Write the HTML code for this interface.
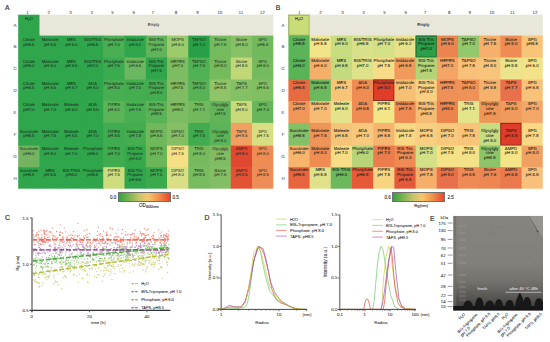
<!DOCTYPE html>
<html><head><meta charset="utf-8"><style>
html,body{margin:0;padding:0;background:#fff;}
body{width:550px;height:342px;position:relative;overflow:hidden;font-family:"Liberation Sans",sans-serif;color:#222;}
.ct text{font-size:4.3px;fill:#1a241a;text-anchor:middle;letter-spacing:-0.1px}
.ctb text{stroke:#1a241a;stroke-width:0.08px;letter-spacing:0}
.lb text{font-size:4.5px;fill:#333;text-anchor:middle}
svg{font-family:"Liberation Sans",sans-serif}
.pl{position:absolute;font-size:6.8px;line-height:7px;color:#333;-webkit-text-stroke:0.2px #333;}
.t{position:absolute;font-size:4.6px;line-height:5px;color:#2a2a2a;white-space:nowrap;-webkit-text-stroke:0.1px #2a2a2a}
</style></head><body>
<div class="pl" style="left:5.0px;top:4.0px">A</div>
<div class="pl" style="left:275.8px;top:4.0px">B</div>
<svg style="position:absolute;left:0;top:0" width="550" height="342" viewBox="0 0 550 342" text-rendering="geometricPrecision">
<g>
<rect x="18.20" y="14.7" width="21.96" height="21.60" fill="#2fa54c"/>
<rect x="39.46" y="14.7" width="233.86" height="21.60" fill="#e8e7d9"/>
<rect x="18.20" y="35.60" width="21.96" height="22.60" fill="#2fa64c"/>
<rect x="39.46" y="35.60" width="21.96" height="22.60" fill="#2fa64c"/>
<rect x="60.72" y="35.60" width="21.96" height="22.60" fill="#2fa64c"/>
<rect x="81.98" y="35.60" width="21.96" height="22.60" fill="#2fa64c"/>
<rect x="103.24" y="35.60" width="21.96" height="22.60" fill="#4aae52"/>
<rect x="124.50" y="35.60" width="21.96" height="22.60" fill="#2fa64c"/>
<rect x="145.76" y="35.60" width="21.96" height="22.60" fill="#62b45a"/>
<rect x="167.02" y="35.60" width="21.96" height="22.60" fill="#9ccb6c"/>
<rect x="188.28" y="35.60" width="21.96" height="22.60" fill="#28a048"/>
<rect x="209.54" y="35.60" width="21.96" height="22.60" fill="#74ba5e"/>
<rect x="230.80" y="35.60" width="21.96" height="22.60" fill="#88c066"/>
<rect x="252.06" y="35.60" width="21.26" height="22.60" fill="#72b95d"/>
<rect x="18.20" y="57.50" width="21.96" height="22.70" fill="#2fa64c"/>
<rect x="39.46" y="57.50" width="21.96" height="22.70" fill="#2fa64c"/>
<rect x="60.72" y="57.50" width="21.96" height="22.70" fill="#2fa64c"/>
<rect x="81.98" y="57.50" width="21.96" height="22.70" fill="#2fa64c"/>
<rect x="103.24" y="57.50" width="21.96" height="22.70" fill="#3aab4e"/>
<rect x="124.50" y="57.50" width="21.96" height="22.70" fill="#6cb860"/>
<rect x="145.76" y="57.50" width="21.96" height="22.70" fill="#2fa64c"/>
<rect x="167.02" y="57.50" width="21.96" height="22.70" fill="#7cbd62"/>
<rect x="188.28" y="57.50" width="21.96" height="22.70" fill="#50b054"/>
<rect x="209.54" y="57.50" width="21.96" height="22.70" fill="#76ba5e"/>
<rect x="230.80" y="57.50" width="21.96" height="22.70" fill="#c0d878"/>
<rect x="252.06" y="57.50" width="21.26" height="22.70" fill="#74ba5e"/>
<rect x="18.20" y="79.50" width="21.96" height="22.20" fill="#2fa64c"/>
<rect x="39.46" y="79.50" width="21.96" height="22.20" fill="#2fa64c"/>
<rect x="60.72" y="79.50" width="21.96" height="22.20" fill="#2fa64c"/>
<rect x="81.98" y="79.50" width="21.96" height="22.20" fill="#2fa64c"/>
<rect x="103.24" y="79.50" width="21.96" height="22.20" fill="#48ae52"/>
<rect x="124.50" y="79.50" width="21.96" height="22.20" fill="#44ad50"/>
<rect x="145.76" y="79.50" width="21.96" height="22.20" fill="#44ac50"/>
<rect x="167.02" y="79.50" width="21.96" height="22.20" fill="#80bd62"/>
<rect x="188.28" y="79.50" width="21.96" height="22.20" fill="#58b256"/>
<rect x="209.54" y="79.50" width="21.96" height="22.20" fill="#90c468"/>
<rect x="230.80" y="79.50" width="21.96" height="22.20" fill="#84c064"/>
<rect x="252.06" y="79.50" width="21.26" height="22.20" fill="#80be62"/>
<rect x="18.20" y="101.00" width="21.96" height="22.60" fill="#2fa64c"/>
<rect x="39.46" y="101.00" width="21.96" height="22.60" fill="#2fa64c"/>
<rect x="60.72" y="101.00" width="21.96" height="22.60" fill="#2fa64c"/>
<rect x="81.98" y="101.00" width="21.96" height="22.60" fill="#2fa64c"/>
<rect x="103.24" y="101.00" width="21.96" height="22.60" fill="#5cb458"/>
<rect x="124.50" y="101.00" width="21.96" height="22.60" fill="#4aae52"/>
<rect x="145.76" y="101.00" width="21.96" height="22.60" fill="#5ab357"/>
<rect x="167.02" y="101.00" width="21.96" height="22.60" fill="#7cbc62"/>
<rect x="188.28" y="101.00" width="21.96" height="22.60" fill="#72b95d"/>
<rect x="209.54" y="101.00" width="21.96" height="22.60" fill="#62b45a"/>
<rect x="230.80" y="101.00" width="21.96" height="22.60" fill="#c8da7a"/>
<rect x="252.06" y="101.00" width="21.26" height="22.60" fill="#68b65b"/>
<rect x="18.20" y="122.90" width="21.96" height="23.40" fill="#2fa64c"/>
<rect x="39.46" y="122.90" width="21.96" height="23.40" fill="#2fa64c"/>
<rect x="60.72" y="122.90" width="21.96" height="23.40" fill="#2fa64c"/>
<rect x="81.98" y="122.90" width="21.96" height="23.40" fill="#2fa64c"/>
<rect x="103.24" y="122.90" width="21.96" height="23.40" fill="#40ac50"/>
<rect x="124.50" y="122.90" width="21.96" height="23.40" fill="#44ad50"/>
<rect x="145.76" y="122.90" width="21.96" height="23.40" fill="#70b85c"/>
<rect x="167.02" y="122.90" width="21.96" height="23.40" fill="#84bf64"/>
<rect x="188.28" y="122.90" width="21.96" height="23.40" fill="#40ab4f"/>
<rect x="209.54" y="122.90" width="21.96" height="23.40" fill="#5cb458"/>
<rect x="230.80" y="122.90" width="21.96" height="23.40" fill="#f0a060"/>
<rect x="252.06" y="122.90" width="21.26" height="23.40" fill="#d8de82"/>
<rect x="18.20" y="145.60" width="21.96" height="22.30" fill="#74b460"/>
<rect x="39.46" y="145.60" width="21.96" height="22.30" fill="#2fa64c"/>
<rect x="60.72" y="145.60" width="21.96" height="22.30" fill="#2fa64c"/>
<rect x="81.98" y="145.60" width="21.96" height="22.30" fill="#2fa64c"/>
<rect x="103.24" y="145.60" width="21.96" height="22.30" fill="#40ac4e"/>
<rect x="124.50" y="145.60" width="21.96" height="22.30" fill="#36a84c"/>
<rect x="145.76" y="145.60" width="21.96" height="22.30" fill="#6cb65a"/>
<rect x="167.02" y="145.60" width="21.96" height="22.30" fill="#f6e086"/>
<rect x="188.28" y="145.60" width="21.96" height="22.30" fill="#76ba5e"/>
<rect x="209.54" y="145.60" width="21.96" height="22.30" fill="#80bd62"/>
<rect x="230.80" y="145.60" width="21.96" height="22.30" fill="#e04830"/>
<rect x="252.06" y="145.60" width="21.26" height="22.30" fill="#ee8c54"/>
<rect x="18.20" y="167.20" width="21.96" height="21.50" fill="#2fa64c"/>
<rect x="39.46" y="167.20" width="21.96" height="21.50" fill="#2fa64c"/>
<rect x="60.72" y="167.20" width="21.96" height="21.50" fill="#2fa64c"/>
<rect x="81.98" y="167.20" width="21.96" height="21.50" fill="#2fa64c"/>
<rect x="103.24" y="167.20" width="21.96" height="21.50" fill="#cddc7c"/>
<rect x="124.50" y="167.20" width="21.96" height="21.50" fill="#2fa64c"/>
<rect x="145.76" y="167.20" width="21.96" height="21.50" fill="#3aaa4d"/>
<rect x="167.02" y="167.20" width="21.96" height="21.50" fill="#dade84"/>
<rect x="188.28" y="167.20" width="21.96" height="21.50" fill="#78bb60"/>
<rect x="209.54" y="167.20" width="21.96" height="21.50" fill="#84be64"/>
<rect x="230.80" y="167.20" width="21.96" height="21.50" fill="#e45236"/>
<rect x="252.06" y="167.20" width="21.26" height="21.50" fill="#ee8e56"/>
<g class="ct ct">
<text x="28.83" y="19.70">H<tspan font-size="3" dy="0.8">2</tspan><tspan dy="-0.8">O</tspan></text>
<text x="153.59" y="25.9" fill="#3a3a3a">Empty</text>
<text x="28.83" y="41.10">Citrate</text>
<text x="28.83" y="45.85">pH5.5</text>
<text x="50.09" y="41.10">Malonate</text>
<text x="50.09" y="45.85">pH 5.5</text>
<text x="71.35" y="41.10">MES</text>
<text x="71.35" y="45.85">pH 6.0</text>
<text x="92.61" y="41.10">BIS/TRIS</text>
<text x="92.61" y="45.85">pH6.5</text>
<text x="113.87" y="41.10">Phosphate</text>
<text x="113.87" y="45.85">pH 7.0</text>
<text x="135.13" y="41.10">Imidazole</text>
<text x="135.13" y="45.85">pH 6.2</text>
<text x="156.39" y="41.10">BIS-Tris</text>
<text x="156.39" y="45.85">Propane</text>
<text x="156.39" y="50.60">pH7.0</text>
<text x="177.65" y="41.10">MOPS</text>
<text x="177.65" y="45.85">pH 6.0</text>
<text x="198.91" y="41.10">TAPSO</text>
<text x="198.91" y="45.85">pH 7.0</text>
<text x="220.17" y="41.10">Tricine</text>
<text x="220.17" y="45.85">pH 7.5</text>
<text x="241.43" y="41.10">Bicine</text>
<text x="241.43" y="45.85">pH 8.0</text>
<text x="262.69" y="41.10">SPG</text>
<text x="262.69" y="45.85">pH5.5</text>
<text x="28.83" y="62.70">Citrate</text>
<text x="28.83" y="67.45">pH6.0</text>
<text x="50.09" y="62.70">Malonate</text>
<text x="50.09" y="67.45">pH 6.0</text>
<text x="71.35" y="62.70">MES</text>
<text x="71.35" y="67.45">pH 6.5</text>
<text x="92.61" y="62.70">BIS/TRIS</text>
<text x="92.61" y="67.45">pH7.0</text>
<text x="113.87" y="62.70">Phosphate</text>
<text x="113.87" y="67.45">pH 7.5</text>
<text x="135.13" y="62.70">Imidazole</text>
<text x="135.13" y="67.45">pH 6.5</text>
<text x="156.39" y="62.70">BIS-Tris</text>
<text x="156.39" y="67.45">Propane</text>
<text x="156.39" y="72.20">pH7.5</text>
<text x="177.65" y="62.70">HEPES</text>
<text x="177.65" y="67.45">pH7.0</text>
<text x="198.91" y="62.70">TAPSO</text>
<text x="198.91" y="67.45">pH 7.5</text>
<text x="220.17" y="62.70">Tricine</text>
<text x="220.17" y="67.45">pH 8.0</text>
<text x="241.43" y="62.70">Bicine</text>
<text x="241.43" y="67.45">pH 8.5</text>
<text x="262.69" y="62.70">SPG</text>
<text x="262.69" y="67.45">pH 6.0</text>
<text x="28.83" y="84.50">Citrate</text>
<text x="28.83" y="89.25">pH6.5</text>
<text x="50.09" y="84.50">Malonate</text>
<text x="50.09" y="89.25">pH 6.5</text>
<text x="71.35" y="84.50">MES</text>
<text x="71.35" y="89.25">pH 6.7</text>
<text x="92.61" y="84.50">ADA</text>
<text x="92.61" y="89.25">pH 6.0</text>
<text x="113.87" y="84.50">Phosphate</text>
<text x="113.87" y="89.25">pH 8.0</text>
<text x="135.13" y="84.50">Imidazole</text>
<text x="135.13" y="89.25">pH 7.0</text>
<text x="156.39" y="84.50">BIS-Tris</text>
<text x="156.39" y="89.25">Propane</text>
<text x="156.39" y="94.00">pH 8.0</text>
<text x="177.65" y="84.50">HEPES</text>
<text x="177.65" y="89.25">pH7.5</text>
<text x="198.91" y="84.50">TAPSO</text>
<text x="198.91" y="89.25">pH 8.0</text>
<text x="220.17" y="84.50">Tricine</text>
<text x="220.17" y="89.25">pH 8.5</text>
<text x="241.43" y="84.50">TAPS</text>
<text x="241.43" y="89.25">pH 7.7</text>
<text x="262.69" y="84.50">SPG</text>
<text x="262.69" y="89.25">pH 6.5</text>
<text x="28.83" y="105.90">Citrate</text>
<text x="28.83" y="110.65">pH7.0</text>
<text x="50.09" y="105.90">Malonate</text>
<text x="50.09" y="110.65">pH 7.0</text>
<text x="71.35" y="105.90">Maleate</text>
<text x="71.35" y="110.65">pH 6.0</text>
<text x="92.61" y="105.90">ADA</text>
<text x="92.61" y="110.65">pH 6.5</text>
<text x="113.87" y="105.90">PIPES</text>
<text x="113.87" y="110.65">pH 6.1</text>
<text x="135.13" y="105.90">Imidazole</text>
<text x="135.13" y="110.65">pH 7.5</text>
<text x="156.39" y="105.90">BIS-Tris</text>
<text x="156.39" y="110.65">Propane</text>
<text x="156.39" y="115.40">pH8.5</text>
<text x="177.65" y="105.90">HEPES</text>
<text x="177.65" y="110.65">pH8.0</text>
<text x="198.91" y="105.90">TRIS</text>
<text x="198.91" y="110.65">pH 7.1</text>
<text x="220.17" y="105.90">Glycylgly</text>
<text x="220.17" y="110.65">cine</text>
<text x="220.17" y="115.40">pH7.5</text>
<text x="241.43" y="105.90">TAPS</text>
<text x="241.43" y="110.65">pH 8.0</text>
<text x="262.69" y="105.90">SPG</text>
<text x="262.69" y="110.65">pH 7.0</text>
<text x="28.83" y="132.60">Succinate</text>
<text x="28.83" y="137.35">pH5.5</text>
<text x="50.09" y="132.60">Malonate</text>
<text x="50.09" y="137.35">pH 7.5</text>
<text x="71.35" y="132.60">Maleate</text>
<text x="71.35" y="137.35">pH 6.5</text>
<text x="92.61" y="132.60">ADA</text>
<text x="92.61" y="137.35">pH 7.0</text>
<text x="113.87" y="132.60">PIPES</text>
<text x="113.87" y="137.35">pH 6.5</text>
<text x="135.13" y="132.60">Imidazole</text>
<text x="135.13" y="137.35">pH 7.8</text>
<text x="156.39" y="132.60">MOPS</text>
<text x="156.39" y="137.35">pH 6.5</text>
<text x="177.65" y="132.60">DIPSO</text>
<text x="177.65" y="137.35">pH 7.0</text>
<text x="198.91" y="132.60">TRIS</text>
<text x="198.91" y="137.35">pH 7.5</text>
<text x="220.17" y="132.60">Glycylgly</text>
<text x="220.17" y="137.35">cine</text>
<text x="220.17" y="142.10">pH 8.0</text>
<text x="241.43" y="132.60">TAPS</text>
<text x="241.43" y="137.35">pH 8.5</text>
<text x="262.69" y="132.60">SPG</text>
<text x="262.69" y="137.35">pH 7.5</text>
<text x="28.83" y="150.10">Succinate</text>
<text x="28.83" y="154.85">pH6.0</text>
<text x="50.09" y="150.10">Malonate</text>
<text x="50.09" y="154.85">pH 8.0</text>
<text x="71.35" y="150.10">Maleate</text>
<text x="71.35" y="154.85">pH 7.0</text>
<text x="92.61" y="150.10">Phosphate</text>
<text x="92.61" y="154.85">pH6.0</text>
<text x="113.87" y="150.10">PIPES</text>
<text x="113.87" y="154.85">pH 7.0</text>
<text x="135.13" y="150.10">BIS-Tris</text>
<text x="135.13" y="154.85">Propane</text>
<text x="135.13" y="159.60">pH 6.3</text>
<text x="156.39" y="150.10">MOPS</text>
<text x="156.39" y="154.85">pH 7.0</text>
<text x="177.65" y="150.10">DIPSO</text>
<text x="177.65" y="154.85">pH 7.5</text>
<text x="198.91" y="150.10">TRIS</text>
<text x="198.91" y="154.85">pH 8.0</text>
<text x="220.17" y="150.10">Glycylgly</text>
<text x="220.17" y="154.85">cine</text>
<text x="220.17" y="159.60">pH8.5</text>
<text x="241.43" y="150.10">AMPD</text>
<text x="241.43" y="154.85">pH 8.0</text>
<text x="262.69" y="150.10">SPG</text>
<text x="262.69" y="154.85">pH 8.0</text>
<text x="28.83" y="171.60">Succinate</text>
<text x="28.83" y="176.35">pH6.5</text>
<text x="50.09" y="171.60">MES</text>
<text x="50.09" y="176.35">pH 5.5</text>
<text x="71.35" y="171.60">BIS-TRIS</text>
<text x="71.35" y="176.35">pH6.0</text>
<text x="92.61" y="171.60">Phosphate</text>
<text x="92.61" y="176.35">pH6.5</text>
<text x="113.87" y="171.60">PIPES</text>
<text x="113.87" y="176.35">pH 7.5</text>
<text x="135.13" y="171.60">BIS-Tris</text>
<text x="135.13" y="176.35">Propane</text>
<text x="135.13" y="181.10">pH 6.5</text>
<text x="156.39" y="171.60">MOPS</text>
<text x="156.39" y="176.35">pH 7.5</text>
<text x="177.65" y="171.60">DIPSO</text>
<text x="177.65" y="176.35">pH 8.0</text>
<text x="198.91" y="171.60">TRIS</text>
<text x="198.91" y="176.35">pH 8.5</text>
<text x="220.17" y="171.60">Bicine</text>
<text x="220.17" y="176.35">pH 7.6</text>
<text x="241.43" y="171.60">AMPD</text>
<text x="241.43" y="176.35">pH 8.5</text>
<text x="262.69" y="171.60">SPG</text>
<text x="262.69" y="176.35">pH 8.5</text>
</g>
<g class="lb">
<text x="27.53" y="13.9">1</text>
<text x="48.69" y="13.9">2</text>
<text x="70.45" y="13.9">3</text>
<text x="91.81" y="13.9">4</text>
<text x="112.57" y="13.9">5</text>
<text x="133.83" y="13.9">6</text>
<text x="152.69" y="13.9">7</text>
<text x="175.95" y="13.9">8</text>
<text x="197.61" y="13.9">9</text>
<text x="219.67" y="13.9">10</text>
<text x="240.93" y="13.9">11</text>
<text x="262.19" y="13.9">12</text>
<text x="15.00" y="26.75">A</text>
<text x="15.00" y="48.15">B</text>
<text x="15.00" y="70.10">C</text>
<text x="15.00" y="91.85">D</text>
<text x="15.00" y="113.55">E</text>
<text x="15.00" y="135.85">F</text>
<text x="15.00" y="158.00">G</text>
<text x="15.00" y="179.55">H</text>
</g></g>
<g>
<rect x="288.40" y="14.7" width="21.90" height="21.60" fill="#c8dc78"/>
<rect x="288.80" y="15.1" width="20.40" height="20.10" fill="none" stroke="#8c9a5c" stroke-width="0.8"/>
<rect x="309.60" y="14.7" width="233.20" height="21.60" fill="#e8e7d9"/>
<rect x="288.40" y="35.60" width="21.90" height="22.60" fill="#5cb458"/>
<rect x="309.60" y="35.60" width="21.90" height="22.60" fill="#f2e488"/>
<rect x="330.80" y="35.60" width="21.90" height="22.60" fill="#c8dc80"/>
<rect x="352.00" y="35.60" width="21.90" height="22.60" fill="#d8e08a"/>
<rect x="373.20" y="35.60" width="21.90" height="22.60" fill="#d4e086"/>
<rect x="394.40" y="35.60" width="21.90" height="22.60" fill="#e8e08a"/>
<rect x="415.60" y="35.60" width="21.90" height="22.60" fill="#2ca048"/>
<rect x="416.05" y="36.05" width="20.30" height="21.00" fill="none" stroke="#1b632c" stroke-width="0.9"/>
<rect x="436.80" y="35.60" width="21.90" height="22.60" fill="#ec8450"/>
<rect x="458.00" y="35.60" width="21.90" height="22.60" fill="#94c86c"/>
<rect x="479.20" y="35.60" width="21.90" height="22.60" fill="#f6b06c"/>
<rect x="500.40" y="35.60" width="21.90" height="22.60" fill="#ee8c54"/>
<rect x="521.60" y="35.60" width="21.20" height="22.60" fill="#f8c478"/>
<rect x="288.40" y="57.50" width="21.90" height="22.70" fill="#58b456"/>
<rect x="309.60" y="57.50" width="21.90" height="22.70" fill="#f4b06a"/>
<rect x="330.80" y="57.50" width="21.90" height="22.70" fill="#c4da7e"/>
<rect x="352.00" y="57.50" width="21.90" height="22.70" fill="#dee28a"/>
<rect x="373.20" y="57.50" width="21.90" height="22.70" fill="#f8dc88"/>
<rect x="394.40" y="57.50" width="21.90" height="22.70" fill="#f09a5c"/>
<rect x="415.60" y="57.50" width="21.90" height="22.70" fill="#b4d478"/>
<rect x="436.80" y="57.50" width="21.90" height="22.70" fill="#f4a464"/>
<rect x="458.00" y="57.50" width="21.90" height="22.70" fill="#f8c078"/>
<rect x="479.20" y="57.50" width="21.90" height="22.70" fill="#f8c47a"/>
<rect x="500.40" y="57.50" width="21.90" height="22.70" fill="#ece48c"/>
<rect x="521.60" y="57.50" width="21.20" height="22.70" fill="#f4e288"/>
<rect x="288.40" y="79.50" width="21.90" height="22.20" fill="#e86a40"/>
<rect x="309.60" y="79.50" width="21.90" height="22.20" fill="#6cb85c"/>
<rect x="330.80" y="79.50" width="21.90" height="22.20" fill="#f8c478"/>
<rect x="352.00" y="79.50" width="21.90" height="22.20" fill="#ee8c54"/>
<rect x="373.20" y="79.50" width="21.90" height="22.20" fill="#e03c2a"/>
<rect x="373.65" y="79.95" width="20.30" height="20.60" fill="none" stroke="#8a251a" stroke-width="0.9"/>
<rect x="394.40" y="79.50" width="21.90" height="22.20" fill="#f6c074"/>
<rect x="415.60" y="79.50" width="21.90" height="22.20" fill="#f8d080"/>
<rect x="436.80" y="79.50" width="21.90" height="22.20" fill="#ee9058"/>
<rect x="458.00" y="79.50" width="21.90" height="22.20" fill="#ee9258"/>
<rect x="479.20" y="79.50" width="21.90" height="22.20" fill="#f6b26c"/>
<rect x="500.40" y="79.50" width="21.90" height="22.20" fill="#e8704a"/>
<rect x="521.60" y="79.50" width="21.20" height="22.20" fill="#f8c27a"/>
<rect x="288.40" y="101.00" width="21.90" height="22.60" fill="#f09658"/>
<rect x="309.60" y="101.00" width="21.90" height="22.60" fill="#f6bc74"/>
<rect x="330.80" y="101.00" width="21.90" height="22.60" fill="#e4e28a"/>
<rect x="352.00" y="101.00" width="21.90" height="22.60" fill="#ee8c54"/>
<rect x="373.20" y="101.00" width="21.90" height="22.60" fill="#f4e688"/>
<rect x="394.40" y="101.00" width="21.90" height="22.60" fill="#ee8a52"/>
<rect x="415.60" y="101.00" width="21.90" height="22.60" fill="#f6bc74"/>
<rect x="436.80" y="101.00" width="21.90" height="22.60" fill="#ec844e"/>
<rect x="458.00" y="101.00" width="21.90" height="22.60" fill="#e4e48a"/>
<rect x="479.20" y="101.00" width="21.90" height="22.60" fill="#ee9658"/>
<rect x="500.40" y="101.00" width="21.90" height="22.60" fill="#f09a5c"/>
<rect x="521.60" y="101.00" width="21.20" height="22.60" fill="#f4a868"/>
<rect x="288.40" y="122.90" width="21.90" height="23.40" fill="#84c068"/>
<rect x="309.60" y="122.90" width="21.90" height="23.40" fill="#ee9458"/>
<rect x="330.80" y="122.90" width="21.90" height="23.40" fill="#f6c478"/>
<rect x="352.00" y="122.90" width="21.90" height="23.40" fill="#f8c87c"/>
<rect x="373.20" y="122.90" width="21.90" height="23.40" fill="#f6b46e"/>
<rect x="394.40" y="122.90" width="21.90" height="23.40" fill="#f8d884"/>
<rect x="415.60" y="122.90" width="21.90" height="23.40" fill="#f8ce80"/>
<rect x="436.80" y="122.90" width="21.90" height="23.40" fill="#f8c87c"/>
<rect x="458.00" y="122.90" width="21.90" height="23.40" fill="#f8c47a"/>
<rect x="479.20" y="122.90" width="21.90" height="23.40" fill="#c8dc80"/>
<rect x="500.40" y="122.90" width="21.90" height="23.40" fill="#e03c2a"/>
<rect x="500.85" y="123.35" width="20.30" height="21.80" fill="none" stroke="#8a251a" stroke-width="0.9"/>
<rect x="521.60" y="122.90" width="21.20" height="23.40" fill="#f8d884"/>
<rect x="288.40" y="145.60" width="21.90" height="22.30" fill="#f6b46c"/>
<rect x="309.60" y="145.60" width="21.90" height="22.30" fill="#ee8c52"/>
<rect x="330.80" y="145.60" width="21.90" height="22.30" fill="#f8dc86"/>
<rect x="352.00" y="145.60" width="21.90" height="22.30" fill="#b8d478"/>
<rect x="373.20" y="145.60" width="21.90" height="22.30" fill="#ec7c4c"/>
<rect x="394.40" y="145.60" width="21.90" height="22.30" fill="#ee8a52"/>
<rect x="415.60" y="145.60" width="21.90" height="22.30" fill="#d4e086"/>
<rect x="436.80" y="145.60" width="21.90" height="22.30" fill="#f6e088"/>
<rect x="458.00" y="145.60" width="21.90" height="22.30" fill="#f4e288"/>
<rect x="479.20" y="145.60" width="21.90" height="22.30" fill="#8cc46a"/>
<rect x="500.40" y="145.60" width="21.90" height="22.30" fill="#f6e488"/>
<rect x="521.60" y="145.60" width="21.20" height="22.30" fill="#f0a060"/>
<rect x="288.40" y="167.20" width="21.90" height="21.50" fill="#e8643e"/>
<rect x="309.60" y="167.20" width="21.90" height="21.50" fill="#e0e28a"/>
<rect x="330.80" y="167.20" width="21.90" height="21.50" fill="#6cb85c"/>
<rect x="352.00" y="167.20" width="21.90" height="21.50" fill="#e65a38"/>
<rect x="373.20" y="167.20" width="21.90" height="21.50" fill="#f8d482"/>
<rect x="394.40" y="167.20" width="21.90" height="21.50" fill="#e6583a"/>
<rect x="415.60" y="167.20" width="21.90" height="21.50" fill="#f6ae6a"/>
<rect x="436.80" y="167.20" width="21.90" height="21.50" fill="#e8704a"/>
<rect x="458.00" y="167.20" width="21.90" height="21.50" fill="#ee8a54"/>
<rect x="479.20" y="167.20" width="21.90" height="21.50" fill="#ee8652"/>
<rect x="500.40" y="167.20" width="21.90" height="21.50" fill="#ea7a4c"/>
<rect x="521.60" y="167.20" width="21.20" height="21.50" fill="#f8c07a"/>
<g class="ct ctb">
<text x="299.00" y="19.70">H<tspan font-size="3" dy="0.8">2</tspan><tspan dy="-0.8">O</tspan></text>
<text x="423.40" y="25.9" fill="#3a3a3a">Empty</text>
<text x="299.00" y="40.50">Citrate</text>
<text x="299.00" y="45.25">pH5.5</text>
<text x="320.20" y="40.50">Malonate</text>
<text x="320.20" y="45.25">pH 5.5</text>
<text x="341.40" y="40.50">MES</text>
<text x="341.40" y="45.25">pH 6.0</text>
<text x="362.60" y="40.50">BIS/TRIS</text>
<text x="362.60" y="45.25">pH6.5</text>
<text x="383.80" y="40.50">Phosphate</text>
<text x="383.80" y="45.25">pH 7.0</text>
<text x="405.00" y="40.50">Imidazole</text>
<text x="405.00" y="45.25">pH 6.2</text>
<text x="426.20" y="40.50">BIS-Tris</text>
<text x="426.20" y="45.25">Propane</text>
<text x="426.20" y="50.00">pH7.0</text>
<text x="447.40" y="40.50">MOPS</text>
<text x="447.40" y="45.25">pH 6.0</text>
<text x="468.60" y="40.50">TAPSO</text>
<text x="468.60" y="45.25">pH 7.0</text>
<text x="489.80" y="40.50">Tricine</text>
<text x="489.80" y="45.25">pH 7.5</text>
<text x="511.00" y="40.50">Bicine</text>
<text x="511.00" y="45.25">pH 8.0</text>
<text x="532.20" y="40.50">SPG</text>
<text x="532.20" y="45.25">pH5.5</text>
<text x="299.00" y="62.10">Citrate</text>
<text x="299.00" y="66.85">pH6.0</text>
<text x="320.20" y="62.10">Malonate</text>
<text x="320.20" y="66.85">pH 6.0</text>
<text x="341.40" y="62.10">MES</text>
<text x="341.40" y="66.85">pH 6.5</text>
<text x="362.60" y="62.10">BIS/TRIS</text>
<text x="362.60" y="66.85">pH7.0</text>
<text x="383.80" y="62.10">Phosphate</text>
<text x="383.80" y="66.85">pH 7.5</text>
<text x="405.00" y="62.10">Imidazole</text>
<text x="405.00" y="66.85">pH 6.5</text>
<text x="426.20" y="62.10">BIS-Tris</text>
<text x="426.20" y="66.85">Propane</text>
<text x="426.20" y="71.60">pH7.5</text>
<text x="447.40" y="62.10">HEPES</text>
<text x="447.40" y="66.85">pH7.0</text>
<text x="468.60" y="62.10">TAPSO</text>
<text x="468.60" y="66.85">pH 7.5</text>
<text x="489.80" y="62.10">Tricine</text>
<text x="489.80" y="66.85">pH 8.0</text>
<text x="511.00" y="62.10">Bicine</text>
<text x="511.00" y="66.85">pH 8.5</text>
<text x="532.20" y="62.10">SPG</text>
<text x="532.20" y="66.85">pH 6.0</text>
<text x="299.00" y="83.90">Citrate</text>
<text x="299.00" y="88.65">pH6.5</text>
<text x="320.20" y="83.90">Malonate</text>
<text x="320.20" y="88.65">pH 6.5</text>
<text x="341.40" y="83.90">MES</text>
<text x="341.40" y="88.65">pH 6.7</text>
<text x="362.60" y="83.90">ADA</text>
<text x="362.60" y="88.65">pH 6.0</text>
<text x="383.80" y="83.90">Phosphate</text>
<text x="383.80" y="88.65">pH 8.0</text>
<text x="405.00" y="83.90">Imidazole</text>
<text x="405.00" y="88.65">pH 7.0</text>
<text x="426.20" y="83.90">BIS-Tris</text>
<text x="426.20" y="88.65">Propane</text>
<text x="426.20" y="93.40">pH 8.0</text>
<text x="447.40" y="83.90">HEPES</text>
<text x="447.40" y="88.65">pH7.5</text>
<text x="468.60" y="83.90">TAPSO</text>
<text x="468.60" y="88.65">pH 8.0</text>
<text x="489.80" y="83.90">Tricine</text>
<text x="489.80" y="88.65">pH 8.5</text>
<text x="511.00" y="83.90">TAPS</text>
<text x="511.00" y="88.65">pH 7.7</text>
<text x="532.20" y="83.90">SPG</text>
<text x="532.20" y="88.65">pH 6.5</text>
<text x="299.00" y="105.30">Citrate</text>
<text x="299.00" y="110.05">pH7.0</text>
<text x="320.20" y="105.30">Malonate</text>
<text x="320.20" y="110.05">pH 7.0</text>
<text x="341.40" y="105.30">Maleate</text>
<text x="341.40" y="110.05">pH 6.0</text>
<text x="362.60" y="105.30">ADA</text>
<text x="362.60" y="110.05">pH 6.5</text>
<text x="383.80" y="105.30">PIPES</text>
<text x="383.80" y="110.05">pH 6.1</text>
<text x="405.00" y="105.30">Imidazole</text>
<text x="405.00" y="110.05">pH 7.5</text>
<text x="426.20" y="105.30">BIS-Tris</text>
<text x="426.20" y="110.05">Propane</text>
<text x="426.20" y="114.80">pH8.5</text>
<text x="447.40" y="105.30">HEPES</text>
<text x="447.40" y="110.05">pH8.0</text>
<text x="468.60" y="105.30">TRIS</text>
<text x="468.60" y="110.05">pH 7.1</text>
<text x="489.80" y="105.30">Glycylgly</text>
<text x="489.80" y="110.05">cine</text>
<text x="489.80" y="114.80">pH7.5</text>
<text x="511.00" y="105.30">TAPS</text>
<text x="511.00" y="110.05">pH 8.0</text>
<text x="532.20" y="105.30">SPG</text>
<text x="532.20" y="110.05">pH 7.0</text>
<text x="299.00" y="132.00">Succinate</text>
<text x="299.00" y="136.75">pH5.5</text>
<text x="320.20" y="132.00">Malonate</text>
<text x="320.20" y="136.75">pH 7.5</text>
<text x="341.40" y="132.00">Maleate</text>
<text x="341.40" y="136.75">pH 6.5</text>
<text x="362.60" y="132.00">ADA</text>
<text x="362.60" y="136.75">pH 7.0</text>
<text x="383.80" y="132.00">PIPES</text>
<text x="383.80" y="136.75">pH 6.5</text>
<text x="405.00" y="132.00">Imidazole</text>
<text x="405.00" y="136.75">pH 7.8</text>
<text x="426.20" y="132.00">MOPS</text>
<text x="426.20" y="136.75">pH 6.5</text>
<text x="447.40" y="132.00">DIPSO</text>
<text x="447.40" y="136.75">pH 7.0</text>
<text x="468.60" y="132.00">TRIS</text>
<text x="468.60" y="136.75">pH 7.5</text>
<text x="489.80" y="132.00">Glycylgly</text>
<text x="489.80" y="136.75">cine</text>
<text x="489.80" y="141.50">pH 8.0</text>
<text x="511.00" y="132.00">TAPS</text>
<text x="511.00" y="136.75">pH 8.5</text>
<text x="532.20" y="132.00">SPG</text>
<text x="532.20" y="136.75">pH 7.5</text>
<text x="299.00" y="149.50">Succinate</text>
<text x="299.00" y="154.25">pH6.0</text>
<text x="320.20" y="149.50">Malonate</text>
<text x="320.20" y="154.25">pH 8.0</text>
<text x="341.40" y="149.50">Maleate</text>
<text x="341.40" y="154.25">pH 7.0</text>
<text x="362.60" y="149.50">Phosphate</text>
<text x="362.60" y="154.25">pH6.0</text>
<text x="383.80" y="149.50">PIPES</text>
<text x="383.80" y="154.25">pH 7.0</text>
<text x="405.00" y="149.50">BIS-Tris</text>
<text x="405.00" y="154.25">Propane</text>
<text x="405.00" y="159.00">pH 6.3</text>
<text x="426.20" y="149.50">MOPS</text>
<text x="426.20" y="154.25">pH 7.0</text>
<text x="447.40" y="149.50">DIPSO</text>
<text x="447.40" y="154.25">pH 7.5</text>
<text x="468.60" y="149.50">TRIS</text>
<text x="468.60" y="154.25">pH 8.0</text>
<text x="489.80" y="149.50">Glycylgly</text>
<text x="489.80" y="154.25">cine</text>
<text x="489.80" y="159.00">pH8.5</text>
<text x="511.00" y="149.50">AMPD</text>
<text x="511.00" y="154.25">pH 8.0</text>
<text x="532.20" y="149.50">SPG</text>
<text x="532.20" y="154.25">pH 8.0</text>
<text x="299.00" y="171.00">Succinate</text>
<text x="299.00" y="175.75">pH6.5</text>
<text x="320.20" y="171.00">MES</text>
<text x="320.20" y="175.75">pH 5.5</text>
<text x="341.40" y="171.00">BIS-TRIS</text>
<text x="341.40" y="175.75">pH6.0</text>
<text x="362.60" y="171.00">Phosphate</text>
<text x="362.60" y="175.75">pH6.5</text>
<text x="383.80" y="171.00">PIPES</text>
<text x="383.80" y="175.75">pH 7.5</text>
<text x="405.00" y="171.00">BIS-Tris</text>
<text x="405.00" y="175.75">Propane</text>
<text x="405.00" y="180.50">pH 6.5</text>
<text x="426.20" y="171.00">MOPS</text>
<text x="426.20" y="175.75">pH 7.5</text>
<text x="447.40" y="171.00">DIPSO</text>
<text x="447.40" y="175.75">pH 8.0</text>
<text x="468.60" y="171.00">TRIS</text>
<text x="468.60" y="175.75">pH 8.5</text>
<text x="489.80" y="171.00">Bicine</text>
<text x="489.80" y="175.75">pH 7.6</text>
<text x="511.00" y="171.00">AMPD</text>
<text x="511.00" y="175.75">pH 8.5</text>
<text x="532.20" y="171.00">SPG</text>
<text x="532.20" y="175.75">pH 8.5</text>
</g>
<g class="lb">
<text x="299.30" y="13.9">1</text>
<text x="320.60" y="13.9">2</text>
<text x="342.40" y="13.9">3</text>
<text x="363.60" y="13.9">4</text>
<text x="384.50" y="13.9">5</text>
<text x="405.70" y="13.9">6</text>
<text x="424.90" y="13.9">7</text>
<text x="449.30" y="13.9">8</text>
<text x="469.80" y="13.9">9</text>
<text x="491.80" y="13.9">10</text>
<text x="512.40" y="13.9">11</text>
<text x="535.10" y="13.9">12</text>
<text x="283.00" y="26.75">A</text>
<text x="283.00" y="48.15">B</text>
<text x="283.00" y="70.10">C</text>
<text x="283.00" y="91.85">D</text>
<text x="283.00" y="113.55">E</text>
<text x="283.00" y="135.85">F</text>
<text x="283.00" y="158.00">G</text>
<text x="283.00" y="179.55">H</text>
</g></g>
</svg>
<!-- colorbars -->
<div style="position:absolute;left:117.6px;top:191.8px;width:53.3px;height:10px;box-sizing:border-box;border:0.5px solid #707070;background:linear-gradient(90deg,#36a23e 0%,#7cb452 20%,#c8c46a 40%,#f6c66a 57%,#f0904a 78%,#e6462a 100%)"></div>
<div class="t" style="left:110.0px;top:194.6px">0.0</div>
<div class="t" style="left:172.4px;top:194.6px">0.5</div>
<div class="t" style="left:139px;top:202.6px">OD<span style="font-size:4.2px;position:relative;top:1.6px">600nm</span></div>
<div style="position:absolute;left:392.2px;top:191.8px;width:53.3px;height:10px;box-sizing:border-box;border:0.5px solid #707070;background:linear-gradient(90deg,#36a23e 0%,#7cb452 20%,#c8c46a 40%,#f6c66a 57%,#f0904a 78%,#e6462a 100%)"></div>
<div class="t" style="left:384.4px;top:194.6px">0.6</div>
<div class="t" style="left:447.4px;top:194.6px">2.5</div>
<div class="t" style="left:414.3px;top:202.8px;font-size:4.2px">Rg(nm)</div>
<div class="pl" style="left:5.1px;top:214.2px">C</div>
<div class="pl" style="left:204.4px;top:213.8px">D</div>
<div class="pl" style="left:430px;top:214.6px">E</div>
<svg style="position:absolute;left:0;top:0" width="550" height="342" viewBox="0 0 550 342">
<rect x="79.7" y="250.4" width="1.2" height="1.2" fill="#c48cc8" opacity="0.7"/>
<rect x="95.0" y="268.6" width="1.2" height="1.2" fill="#c8cc64" opacity="0.7"/>
<rect x="54.6" y="236.4" width="1.2" height="1.2" fill="#f07e6a" opacity="1.0"/>
<rect x="68.0" y="261.6" width="1.2" height="1.2" fill="#7cc46a" opacity="0.85"/>
<rect x="95.8" y="249.7" width="1.2" height="1.2" fill="#c48cc8" opacity="0.85"/>
<rect x="87.4" y="281.9" width="1.2" height="1.2" fill="#c8cc64" opacity="0.7"/>
<rect x="120.4" y="257.7" width="1.2" height="1.2" fill="#c8cc64" opacity="1.0"/>
<rect x="128.7" y="250.3" width="1.2" height="1.2" fill="#c8cc64" opacity="1.0"/>
<rect x="121.7" y="248.0" width="1.2" height="1.2" fill="#7cc46a" opacity="0.85"/>
<rect x="99.5" y="235.4" width="1.2" height="1.2" fill="#f07e6a" opacity="0.85"/>
<rect x="151.2" y="252.2" width="1.2" height="1.2" fill="#c8cc64" opacity="1.0"/>
<rect x="165.0" y="240.4" width="1.2" height="1.2" fill="#c8cc64" opacity="0.85"/>
<rect x="143.9" y="239.4" width="1.2" height="1.2" fill="#f07e6a" opacity="1.0"/>
<rect x="141.0" y="247.1" width="1.2" height="1.2" fill="#c48cc8" opacity="0.85"/>
<rect x="131.5" y="249.0" width="1.2" height="1.2" fill="#c48cc8" opacity="0.7"/>
<rect x="127.5" y="233.9" width="1.2" height="1.2" fill="#f07e6a" opacity="0.7"/>
<rect x="104.7" y="249.0" width="1.2" height="1.2" fill="#7cc46a" opacity="0.85"/>
<rect x="51.8" y="227.2" width="1.2" height="1.2" fill="#f07e6a" opacity="0.7"/>
<rect x="92.3" y="268.3" width="1.2" height="1.2" fill="#c8cc64" opacity="0.7"/>
<rect x="46.1" y="279.0" width="1.2" height="1.2" fill="#c8cc64" opacity="0.7"/>
<rect x="59.6" y="251.2" width="1.2" height="1.2" fill="#c48cc8" opacity="1.0"/>
<rect x="34.4" y="243.8" width="1.2" height="1.2" fill="#f07e6a" opacity="1.0"/>
<rect x="146.0" y="245.6" width="1.2" height="1.2" fill="#7cc46a" opacity="1.0"/>
<rect x="148.3" y="243.5" width="1.2" height="1.2" fill="#c48cc8" opacity="1.0"/>
<rect x="133.9" y="249.1" width="1.2" height="1.2" fill="#c48cc8" opacity="1.0"/>
<rect x="117.9" y="254.4" width="1.2" height="1.2" fill="#7cc46a" opacity="1.0"/>
<rect x="160.0" y="249.8" width="1.2" height="1.2" fill="#c8cc64" opacity="1.0"/>
<rect x="164.4" y="249.4" width="1.2" height="1.2" fill="#7cc46a" opacity="0.85"/>
<rect x="143.9" y="237.6" width="1.2" height="1.2" fill="#f07e6a" opacity="1.0"/>
<rect x="122.9" y="237.0" width="1.2" height="1.2" fill="#f07e6a" opacity="0.85"/>
<rect x="46.3" y="240.3" width="1.2" height="1.2" fill="#c48cc8" opacity="0.85"/>
<rect x="33.3" y="249.3" width="1.2" height="1.2" fill="#c48cc8" opacity="1.0"/>
<rect x="110.3" y="269.0" width="1.2" height="1.2" fill="#c8cc64" opacity="1.0"/>
<rect x="144.0" y="234.3" width="1.2" height="1.2" fill="#f07e6a" opacity="1.0"/>
<rect x="108.5" y="263.3" width="1.2" height="1.2" fill="#c8cc64" opacity="1.0"/>
<rect x="41.2" y="239.9" width="1.2" height="1.2" fill="#c48cc8" opacity="1.0"/>
<rect x="130.0" y="253.9" width="1.2" height="1.2" fill="#7cc46a" opacity="0.85"/>
<rect x="36.0" y="265.3" width="1.2" height="1.2" fill="#7cc46a" opacity="0.85"/>
<rect x="65.2" y="263.8" width="1.2" height="1.2" fill="#c8cc64" opacity="0.85"/>
<rect x="68.0" y="259.5" width="1.2" height="1.2" fill="#7cc46a" opacity="0.7"/>
<rect x="44.4" y="234.0" width="1.2" height="1.2" fill="#f07e6a" opacity="1.0"/>
<rect x="134.2" y="254.6" width="1.2" height="1.2" fill="#7cc46a" opacity="0.7"/>
<rect x="103.4" y="254.7" width="1.2" height="1.2" fill="#7cc46a" opacity="1.0"/>
<rect x="47.3" y="241.7" width="1.2" height="1.2" fill="#c48cc8" opacity="0.7"/>
<rect x="164.8" y="239.1" width="1.2" height="1.2" fill="#f07e6a" opacity="1.0"/>
<rect x="157.2" y="247.5" width="1.2" height="1.2" fill="#7cc46a" opacity="0.7"/>
<rect x="120.9" y="254.7" width="1.2" height="1.2" fill="#7cc46a" opacity="0.85"/>
<rect x="46.4" y="229.8" width="1.2" height="1.2" fill="#f07e6a" opacity="0.85"/>
<rect x="89.4" y="243.5" width="1.2" height="1.2" fill="#c48cc8" opacity="0.85"/>
<rect x="38.6" y="252.8" width="1.2" height="1.2" fill="#c48cc8" opacity="0.7"/>
<rect x="33.3" y="279.6" width="1.2" height="1.2" fill="#c8cc64" opacity="1.0"/>
<rect x="117.0" y="241.0" width="1.2" height="1.2" fill="#f07e6a" opacity="0.85"/>
<rect x="137.6" y="247.9" width="1.2" height="1.2" fill="#c48cc8" opacity="0.85"/>
<rect x="95.2" y="238.9" width="1.2" height="1.2" fill="#f07e6a" opacity="1.0"/>
<rect x="54.1" y="256.1" width="1.2" height="1.2" fill="#c48cc8" opacity="1.0"/>
<rect x="43.8" y="249.5" width="1.2" height="1.2" fill="#c48cc8" opacity="0.85"/>
<rect x="100.2" y="233.3" width="1.2" height="1.2" fill="#f07e6a" opacity="0.85"/>
<rect x="145.2" y="235.0" width="1.2" height="1.2" fill="#7cc46a" opacity="0.85"/>
<rect x="117.6" y="249.4" width="1.2" height="1.2" fill="#c48cc8" opacity="0.85"/>
<rect x="127.4" y="251.6" width="1.2" height="1.2" fill="#c48cc8" opacity="1.0"/>
<rect x="44.8" y="253.0" width="1.2" height="1.2" fill="#7cc46a" opacity="0.85"/>
<rect x="150.9" y="236.0" width="1.2" height="1.2" fill="#f07e6a" opacity="0.7"/>
<rect x="144.6" y="261.0" width="1.2" height="1.2" fill="#c8cc64" opacity="0.7"/>
<rect x="142.3" y="258.3" width="1.2" height="1.2" fill="#7cc46a" opacity="0.85"/>
<rect x="160.3" y="267.1" width="1.2" height="1.2" fill="#c8cc64" opacity="0.85"/>
<rect x="159.1" y="252.3" width="1.2" height="1.2" fill="#c48cc8" opacity="0.85"/>
<rect x="42.6" y="267.2" width="1.2" height="1.2" fill="#c8cc64" opacity="1.0"/>
<rect x="131.9" y="238.7" width="1.2" height="1.2" fill="#f07e6a" opacity="0.85"/>
<rect x="142.5" y="269.1" width="1.2" height="1.2" fill="#c8cc64" opacity="1.0"/>
<rect x="130.5" y="234.2" width="1.2" height="1.2" fill="#f07e6a" opacity="1.0"/>
<rect x="110.7" y="255.6" width="1.2" height="1.2" fill="#7cc46a" opacity="0.7"/>
<rect x="97.9" y="260.3" width="1.2" height="1.2" fill="#7cc46a" opacity="1.0"/>
<rect x="92.9" y="254.9" width="1.2" height="1.2" fill="#c48cc8" opacity="0.7"/>
<rect x="82.5" y="244.2" width="1.2" height="1.2" fill="#c48cc8" opacity="1.0"/>
<rect x="59.3" y="232.0" width="1.2" height="1.2" fill="#f07e6a" opacity="0.7"/>
<rect x="126.8" y="249.5" width="1.2" height="1.2" fill="#c48cc8" opacity="1.0"/>
<rect x="97.6" y="240.1" width="1.2" height="1.2" fill="#f07e6a" opacity="1.0"/>
<rect x="69.0" y="250.2" width="1.2" height="1.2" fill="#7cc46a" opacity="1.0"/>
<rect x="99.7" y="244.5" width="1.2" height="1.2" fill="#f07e6a" opacity="0.85"/>
<rect x="163.3" y="245.4" width="1.2" height="1.2" fill="#7cc46a" opacity="1.0"/>
<rect x="97.4" y="253.3" width="1.2" height="1.2" fill="#7cc46a" opacity="0.7"/>
<rect x="165.2" y="247.6" width="1.2" height="1.2" fill="#c48cc8" opacity="1.0"/>
<rect x="139.0" y="239.8" width="1.2" height="1.2" fill="#c48cc8" opacity="1.0"/>
<rect x="126.6" y="243.9" width="1.2" height="1.2" fill="#7cc46a" opacity="0.7"/>
<rect x="103.3" y="260.9" width="1.2" height="1.2" fill="#7cc46a" opacity="0.7"/>
<rect x="109.5" y="249.5" width="1.2" height="1.2" fill="#c48cc8" opacity="0.85"/>
<rect x="110.6" y="239.0" width="1.2" height="1.2" fill="#f07e6a" opacity="0.85"/>
<rect x="49.6" y="231.6" width="1.2" height="1.2" fill="#f07e6a" opacity="0.7"/>
<rect x="146.5" y="267.2" width="1.2" height="1.2" fill="#c8cc64" opacity="0.7"/>
<rect x="49.8" y="231.2" width="1.2" height="1.2" fill="#f07e6a" opacity="0.85"/>
<rect x="152.5" y="246.0" width="1.2" height="1.2" fill="#c48cc8" opacity="0.7"/>
<rect x="40.2" y="229.7" width="1.2" height="1.2" fill="#f07e6a" opacity="0.7"/>
<rect x="109.3" y="252.4" width="1.2" height="1.2" fill="#7cc46a" opacity="0.85"/>
<rect x="80.4" y="252.1" width="1.2" height="1.2" fill="#7cc46a" opacity="1.0"/>
<rect x="69.6" y="269.0" width="1.2" height="1.2" fill="#c8cc64" opacity="0.7"/>
<rect x="66.3" y="259.4" width="1.2" height="1.2" fill="#7cc46a" opacity="1.0"/>
<rect x="49.4" y="244.1" width="1.2" height="1.2" fill="#c48cc8" opacity="0.85"/>
<rect x="65.8" y="276.9" width="1.2" height="1.2" fill="#c8cc64" opacity="0.85"/>
<rect x="122.8" y="271.4" width="1.2" height="1.2" fill="#c8cc64" opacity="0.85"/>
<rect x="121.6" y="243.7" width="1.2" height="1.2" fill="#f07e6a" opacity="1.0"/>
<rect x="37.7" y="251.9" width="1.2" height="1.2" fill="#c48cc8" opacity="1.0"/>
<rect x="92.8" y="251.8" width="1.2" height="1.2" fill="#7cc46a" opacity="0.7"/>
<rect x="152.6" y="235.1" width="1.2" height="1.2" fill="#f07e6a" opacity="0.7"/>
<rect x="76.2" y="248.5" width="1.2" height="1.2" fill="#c48cc8" opacity="1.0"/>
<rect x="115.2" y="250.1" width="1.2" height="1.2" fill="#c48cc8" opacity="1.0"/>
<rect x="77.3" y="222.9" width="1.2" height="1.2" fill="#f07e6a" opacity="0.7"/>
<rect x="65.9" y="242.3" width="1.2" height="1.2" fill="#f07e6a" opacity="0.7"/>
<rect x="101.5" y="238.6" width="1.2" height="1.2" fill="#f07e6a" opacity="1.0"/>
<rect x="32.9" y="237.3" width="1.2" height="1.2" fill="#f07e6a" opacity="0.85"/>
<rect x="85.1" y="262.9" width="1.2" height="1.2" fill="#c8cc64" opacity="0.7"/>
<rect x="165.9" y="248.7" width="1.2" height="1.2" fill="#c48cc8" opacity="0.85"/>
<rect x="48.6" y="231.4" width="1.2" height="1.2" fill="#f07e6a" opacity="0.7"/>
<rect x="158.3" y="268.8" width="1.2" height="1.2" fill="#c8cc64" opacity="1.0"/>
<rect x="128.5" y="255.6" width="1.2" height="1.2" fill="#c8cc64" opacity="0.7"/>
<rect x="32.6" y="273.3" width="1.2" height="1.2" fill="#c8cc64" opacity="1.0"/>
<rect x="130.1" y="260.1" width="1.2" height="1.2" fill="#c8cc64" opacity="0.85"/>
<rect x="73.5" y="249.3" width="1.2" height="1.2" fill="#c48cc8" opacity="0.7"/>
<rect x="35.3" y="255.2" width="1.2" height="1.2" fill="#c48cc8" opacity="0.85"/>
<rect x="44.4" y="252.4" width="1.2" height="1.2" fill="#7cc46a" opacity="1.0"/>
<rect x="89.3" y="248.6" width="1.2" height="1.2" fill="#c8cc64" opacity="0.7"/>
<rect x="168.1" y="257.8" width="1.2" height="1.2" fill="#c8cc64" opacity="0.85"/>
<rect x="54.2" y="255.2" width="1.2" height="1.2" fill="#7cc46a" opacity="0.85"/>
<rect x="57.3" y="237.2" width="1.2" height="1.2" fill="#f07e6a" opacity="1.0"/>
<rect x="165.8" y="247.2" width="1.2" height="1.2" fill="#f07e6a" opacity="0.85"/>
<rect x="111.4" y="251.9" width="1.2" height="1.2" fill="#c48cc8" opacity="0.7"/>
<rect x="42.6" y="244.0" width="1.2" height="1.2" fill="#f07e6a" opacity="0.7"/>
<rect x="116.4" y="248.6" width="1.2" height="1.2" fill="#7cc46a" opacity="0.85"/>
<rect x="103.2" y="270.1" width="1.2" height="1.2" fill="#c8cc64" opacity="1.0"/>
<rect x="98.9" y="258.0" width="1.2" height="1.2" fill="#7cc46a" opacity="1.0"/>
<rect x="133.3" y="237.6" width="1.2" height="1.2" fill="#f07e6a" opacity="0.7"/>
<rect x="104.2" y="259.2" width="1.2" height="1.2" fill="#c8cc64" opacity="0.85"/>
<rect x="167.8" y="238.5" width="1.2" height="1.2" fill="#f07e6a" opacity="1.0"/>
<rect x="132.3" y="232.7" width="1.2" height="1.2" fill="#f07e6a" opacity="1.0"/>
<rect x="36.4" y="260.6" width="1.2" height="1.2" fill="#7cc46a" opacity="0.7"/>
<rect x="39.4" y="243.0" width="1.2" height="1.2" fill="#f07e6a" opacity="0.7"/>
<rect x="142.5" y="250.8" width="1.2" height="1.2" fill="#c48cc8" opacity="0.7"/>
<rect x="34.2" y="239.9" width="1.2" height="1.2" fill="#c48cc8" opacity="0.7"/>
<rect x="118.0" y="240.4" width="1.2" height="1.2" fill="#f07e6a" opacity="1.0"/>
<rect x="80.5" y="243.9" width="1.2" height="1.2" fill="#c48cc8" opacity="1.0"/>
<rect x="144.5" y="259.4" width="1.2" height="1.2" fill="#c8cc64" opacity="0.7"/>
<rect x="125.7" y="247.2" width="1.2" height="1.2" fill="#c8cc64" opacity="0.7"/>
<rect x="38.7" y="262.8" width="1.2" height="1.2" fill="#7cc46a" opacity="0.85"/>
<rect x="53.2" y="277.2" width="1.2" height="1.2" fill="#c8cc64" opacity="0.85"/>
<rect x="147.6" y="234.4" width="1.2" height="1.2" fill="#f07e6a" opacity="0.7"/>
<rect x="122.7" y="254.6" width="1.2" height="1.2" fill="#7cc46a" opacity="0.7"/>
<rect x="43.6" y="231.3" width="1.2" height="1.2" fill="#f07e6a" opacity="0.85"/>
<rect x="161.5" y="277.5" width="1.2" height="1.2" fill="#c8cc64" opacity="0.7"/>
<rect x="141.6" y="241.4" width="1.2" height="1.2" fill="#f07e6a" opacity="1.0"/>
<rect x="110.4" y="258.4" width="1.2" height="1.2" fill="#7cc46a" opacity="0.7"/>
<rect x="54.3" y="246.9" width="1.2" height="1.2" fill="#c48cc8" opacity="0.85"/>
<rect x="54.9" y="258.8" width="1.2" height="1.2" fill="#c48cc8" opacity="1.0"/>
<rect x="141.9" y="259.6" width="1.2" height="1.2" fill="#c8cc64" opacity="0.85"/>
<rect x="126.2" y="246.5" width="1.2" height="1.2" fill="#c48cc8" opacity="0.85"/>
<rect x="127.2" y="254.3" width="1.2" height="1.2" fill="#7cc46a" opacity="0.7"/>
<rect x="87.5" y="236.9" width="1.2" height="1.2" fill="#f07e6a" opacity="0.7"/>
<rect x="139.5" y="246.0" width="1.2" height="1.2" fill="#c48cc8" opacity="0.85"/>
<rect x="149.5" y="259.8" width="1.2" height="1.2" fill="#c8cc64" opacity="1.0"/>
<rect x="57.6" y="258.2" width="1.2" height="1.2" fill="#7cc46a" opacity="1.0"/>
<rect x="117.0" y="243.8" width="1.2" height="1.2" fill="#c48cc8" opacity="0.7"/>
<rect x="163.4" y="234.0" width="1.2" height="1.2" fill="#f07e6a" opacity="0.85"/>
<rect x="110.1" y="261.7" width="1.2" height="1.2" fill="#c8cc64" opacity="1.0"/>
<rect x="125.1" y="255.9" width="1.2" height="1.2" fill="#7cc46a" opacity="0.85"/>
<rect x="164.0" y="255.9" width="1.2" height="1.2" fill="#c48cc8" opacity="0.85"/>
<rect x="121.3" y="252.6" width="1.2" height="1.2" fill="#7cc46a" opacity="0.7"/>
<rect x="33.2" y="264.2" width="1.2" height="1.2" fill="#c8cc64" opacity="0.85"/>
<rect x="113.4" y="251.5" width="1.2" height="1.2" fill="#c48cc8" opacity="1.0"/>
<rect x="158.4" y="251.3" width="1.2" height="1.2" fill="#c8cc64" opacity="0.85"/>
<rect x="139.9" y="233.0" width="1.2" height="1.2" fill="#f07e6a" opacity="0.85"/>
<rect x="112.2" y="254.2" width="1.2" height="1.2" fill="#7cc46a" opacity="0.85"/>
<rect x="117.0" y="253.0" width="1.2" height="1.2" fill="#7cc46a" opacity="0.85"/>
<rect x="78.1" y="248.9" width="1.2" height="1.2" fill="#c48cc8" opacity="0.85"/>
<rect x="141.6" y="252.0" width="1.2" height="1.2" fill="#c48cc8" opacity="1.0"/>
<rect x="136.1" y="249.2" width="1.2" height="1.2" fill="#7cc46a" opacity="0.85"/>
<rect x="65.0" y="275.6" width="1.2" height="1.2" fill="#c8cc64" opacity="0.85"/>
<rect x="162.3" y="255.3" width="1.2" height="1.2" fill="#c8cc64" opacity="0.7"/>
<rect x="38.2" y="230.6" width="1.2" height="1.2" fill="#f07e6a" opacity="0.85"/>
<rect x="36.8" y="241.1" width="1.2" height="1.2" fill="#f07e6a" opacity="0.85"/>
<rect x="42.0" y="241.5" width="1.2" height="1.2" fill="#f07e6a" opacity="1.0"/>
<rect x="106.4" y="267.5" width="1.2" height="1.2" fill="#c8cc64" opacity="0.85"/>
<rect x="163.6" y="246.9" width="1.2" height="1.2" fill="#c48cc8" opacity="0.85"/>
<rect x="159.5" y="255.6" width="1.2" height="1.2" fill="#7cc46a" opacity="0.85"/>
<rect x="54.8" y="270.5" width="1.2" height="1.2" fill="#c8cc64" opacity="1.0"/>
<rect x="89.6" y="245.2" width="1.2" height="1.2" fill="#c48cc8" opacity="1.0"/>
<rect x="124.6" y="247.4" width="1.2" height="1.2" fill="#7cc46a" opacity="0.85"/>
<rect x="139.5" y="264.8" width="1.2" height="1.2" fill="#c8cc64" opacity="0.7"/>
<rect x="95.3" y="253.6" width="1.2" height="1.2" fill="#c48cc8" opacity="0.7"/>
<rect x="159.5" y="232.7" width="1.2" height="1.2" fill="#f07e6a" opacity="0.7"/>
<rect x="121.2" y="232.9" width="1.2" height="1.2" fill="#f07e6a" opacity="0.85"/>
<rect x="33.8" y="249.5" width="1.2" height="1.2" fill="#c48cc8" opacity="1.0"/>
<rect x="161.4" y="251.6" width="1.2" height="1.2" fill="#c48cc8" opacity="0.7"/>
<rect x="131.6" y="244.5" width="1.2" height="1.2" fill="#f07e6a" opacity="0.7"/>
<rect x="109.6" y="234.2" width="1.2" height="1.2" fill="#f07e6a" opacity="0.85"/>
<rect x="115.3" y="232.8" width="1.2" height="1.2" fill="#f07e6a" opacity="0.7"/>
<rect x="82.5" y="246.8" width="1.2" height="1.2" fill="#c48cc8" opacity="1.0"/>
<rect x="153.5" y="266.4" width="1.2" height="1.2" fill="#c8cc64" opacity="0.85"/>
<rect x="107.1" y="252.5" width="1.2" height="1.2" fill="#7cc46a" opacity="0.7"/>
<rect x="47.9" y="277.0" width="1.2" height="1.2" fill="#c8cc64" opacity="1.0"/>
<rect x="168.1" y="244.0" width="1.2" height="1.2" fill="#7cc46a" opacity="0.7"/>
<rect x="41.1" y="266.0" width="1.2" height="1.2" fill="#7cc46a" opacity="0.7"/>
<rect x="64.8" y="261.4" width="1.2" height="1.2" fill="#7cc46a" opacity="0.7"/>
<rect x="161.0" y="244.6" width="1.2" height="1.2" fill="#c48cc8" opacity="1.0"/>
<rect x="33.1" y="260.2" width="1.2" height="1.2" fill="#7cc46a" opacity="1.0"/>
<rect x="116.7" y="254.9" width="1.2" height="1.2" fill="#7cc46a" opacity="1.0"/>
<rect x="52.1" y="237.8" width="1.2" height="1.2" fill="#f07e6a" opacity="1.0"/>
<rect x="165.9" y="244.8" width="1.2" height="1.2" fill="#c48cc8" opacity="0.7"/>
<rect x="62.2" y="236.1" width="1.2" height="1.2" fill="#f07e6a" opacity="0.85"/>
<rect x="88.7" y="245.9" width="1.2" height="1.2" fill="#c48cc8" opacity="1.0"/>
<rect x="35.2" y="270.3" width="1.2" height="1.2" fill="#c8cc64" opacity="0.85"/>
<rect x="119.0" y="269.3" width="1.2" height="1.2" fill="#c8cc64" opacity="0.7"/>
<rect x="98.2" y="246.7" width="1.2" height="1.2" fill="#c48cc8" opacity="0.7"/>
<rect x="41.5" y="272.0" width="1.2" height="1.2" fill="#c8cc64" opacity="1.0"/>
<rect x="106.9" y="234.4" width="1.2" height="1.2" fill="#f07e6a" opacity="0.7"/>
<rect x="41.0" y="234.5" width="1.2" height="1.2" fill="#f07e6a" opacity="0.85"/>
<rect x="166.9" y="264.3" width="1.2" height="1.2" fill="#c8cc64" opacity="1.0"/>
<rect x="89.7" y="242.1" width="1.2" height="1.2" fill="#f07e6a" opacity="1.0"/>
<rect x="47.7" y="266.4" width="1.2" height="1.2" fill="#c8cc64" opacity="0.7"/>
<rect x="151.8" y="237.8" width="1.2" height="1.2" fill="#f07e6a" opacity="1.0"/>
<rect x="63.0" y="244.3" width="1.2" height="1.2" fill="#c48cc8" opacity="0.7"/>
<rect x="117.0" y="246.8" width="1.2" height="1.2" fill="#c48cc8" opacity="1.0"/>
<rect x="56.2" y="251.7" width="1.2" height="1.2" fill="#7cc46a" opacity="0.7"/>
<rect x="132.3" y="254.8" width="1.2" height="1.2" fill="#7cc46a" opacity="1.0"/>
<rect x="43.5" y="229.9" width="1.2" height="1.2" fill="#f07e6a" opacity="1.0"/>
<rect x="50.4" y="268.8" width="1.2" height="1.2" fill="#c8cc64" opacity="0.7"/>
<rect x="60.8" y="248.5" width="1.2" height="1.2" fill="#c48cc8" opacity="0.85"/>
<rect x="32.9" y="248.3" width="1.2" height="1.2" fill="#c48cc8" opacity="1.0"/>
<rect x="150.2" y="252.6" width="1.2" height="1.2" fill="#7cc46a" opacity="0.85"/>
<rect x="119.4" y="239.9" width="1.2" height="1.2" fill="#f07e6a" opacity="1.0"/>
<rect x="135.3" y="243.0" width="1.2" height="1.2" fill="#f07e6a" opacity="0.7"/>
<rect x="68.9" y="245.7" width="1.2" height="1.2" fill="#c48cc8" opacity="0.85"/>
<rect x="91.7" y="258.1" width="1.2" height="1.2" fill="#7cc46a" opacity="1.0"/>
<rect x="135.2" y="251.5" width="1.2" height="1.2" fill="#7cc46a" opacity="0.7"/>
<rect x="45.0" y="242.0" width="1.2" height="1.2" fill="#f07e6a" opacity="1.0"/>
<rect x="75.1" y="247.6" width="1.2" height="1.2" fill="#c48cc8" opacity="0.85"/>
<rect x="124.3" y="248.5" width="1.2" height="1.2" fill="#7cc46a" opacity="0.85"/>
<rect x="119.0" y="246.3" width="1.2" height="1.2" fill="#c48cc8" opacity="1.0"/>
<rect x="103.1" y="239.3" width="1.2" height="1.2" fill="#c48cc8" opacity="0.7"/>
<rect x="105.2" y="250.0" width="1.2" height="1.2" fill="#7cc46a" opacity="0.7"/>
<rect x="62.6" y="277.3" width="1.2" height="1.2" fill="#c8cc64" opacity="0.7"/>
<rect x="163.3" y="242.7" width="1.2" height="1.2" fill="#7cc46a" opacity="0.7"/>
<rect x="123.1" y="256.7" width="1.2" height="1.2" fill="#7cc46a" opacity="0.7"/>
<rect x="52.4" y="235.1" width="1.2" height="1.2" fill="#f07e6a" opacity="1.0"/>
<rect x="167.8" y="258.7" width="1.2" height="1.2" fill="#c8cc64" opacity="0.7"/>
<rect x="159.3" y="247.2" width="1.2" height="1.2" fill="#c48cc8" opacity="0.85"/>
<rect x="104.2" y="248.2" width="1.2" height="1.2" fill="#7cc46a" opacity="0.85"/>
<rect x="141.0" y="235.1" width="1.2" height="1.2" fill="#f07e6a" opacity="1.0"/>
<rect x="62.1" y="236.8" width="1.2" height="1.2" fill="#f07e6a" opacity="0.7"/>
<rect x="121.5" y="246.3" width="1.2" height="1.2" fill="#c48cc8" opacity="0.7"/>
<rect x="61.4" y="241.3" width="1.2" height="1.2" fill="#c48cc8" opacity="1.0"/>
<rect x="90.7" y="268.3" width="1.2" height="1.2" fill="#c8cc64" opacity="0.85"/>
<rect x="109.1" y="254.2" width="1.2" height="1.2" fill="#7cc46a" opacity="1.0"/>
<rect x="140.0" y="243.0" width="1.2" height="1.2" fill="#f07e6a" opacity="0.85"/>
<rect x="49.2" y="271.7" width="1.2" height="1.2" fill="#c8cc64" opacity="0.85"/>
<rect x="139.2" y="255.1" width="1.2" height="1.2" fill="#c48cc8" opacity="0.85"/>
<rect x="54.4" y="243.5" width="1.2" height="1.2" fill="#c48cc8" opacity="0.85"/>
<rect x="73.8" y="265.8" width="1.2" height="1.2" fill="#7cc46a" opacity="1.0"/>
<rect x="111.7" y="254.5" width="1.2" height="1.2" fill="#7cc46a" opacity="0.7"/>
<rect x="59.3" y="247.2" width="1.2" height="1.2" fill="#c48cc8" opacity="1.0"/>
<rect x="126.6" y="252.4" width="1.2" height="1.2" fill="#7cc46a" opacity="1.0"/>
<rect x="77.0" y="236.3" width="1.2" height="1.2" fill="#f07e6a" opacity="0.7"/>
<rect x="32.7" y="251.1" width="1.2" height="1.2" fill="#c48cc8" opacity="1.0"/>
<rect x="102.6" y="248.2" width="1.2" height="1.2" fill="#7cc46a" opacity="1.0"/>
<rect x="83.6" y="230.1" width="1.2" height="1.2" fill="#f07e6a" opacity="0.7"/>
<rect x="54.2" y="248.1" width="1.2" height="1.2" fill="#c48cc8" opacity="0.7"/>
<rect x="163.6" y="242.0" width="1.2" height="1.2" fill="#f07e6a" opacity="0.7"/>
<rect x="102.2" y="250.3" width="1.2" height="1.2" fill="#7cc46a" opacity="0.7"/>
<rect x="56.7" y="281.4" width="1.2" height="1.2" fill="#c8cc64" opacity="1.0"/>
<rect x="133.5" y="265.4" width="1.2" height="1.2" fill="#c8cc64" opacity="0.85"/>
<rect x="162.7" y="251.7" width="1.2" height="1.2" fill="#c48cc8" opacity="0.85"/>
<rect x="164.6" y="239.4" width="1.2" height="1.2" fill="#c48cc8" opacity="0.85"/>
<rect x="87.1" y="242.3" width="1.2" height="1.2" fill="#c48cc8" opacity="0.7"/>
<rect x="120.5" y="240.4" width="1.2" height="1.2" fill="#f07e6a" opacity="0.85"/>
<rect x="123.0" y="240.3" width="1.2" height="1.2" fill="#f07e6a" opacity="0.85"/>
<rect x="157.8" y="256.5" width="1.2" height="1.2" fill="#c48cc8" opacity="1.0"/>
<rect x="96.3" y="253.6" width="1.2" height="1.2" fill="#7cc46a" opacity="1.0"/>
<rect x="162.8" y="239.8" width="1.2" height="1.2" fill="#f07e6a" opacity="0.7"/>
<rect x="155.5" y="249.9" width="1.2" height="1.2" fill="#7cc46a" opacity="1.0"/>
<rect x="90.4" y="255.9" width="1.2" height="1.2" fill="#7cc46a" opacity="0.85"/>
<rect x="40.3" y="262.7" width="1.2" height="1.2" fill="#7cc46a" opacity="1.0"/>
<rect x="49.5" y="250.8" width="1.2" height="1.2" fill="#c48cc8" opacity="0.7"/>
<rect x="36.3" y="257.1" width="1.2" height="1.2" fill="#7cc46a" opacity="0.7"/>
<rect x="166.1" y="233.2" width="1.2" height="1.2" fill="#f07e6a" opacity="1.0"/>
<rect x="142.7" y="244.5" width="1.2" height="1.2" fill="#c48cc8" opacity="0.85"/>
<rect x="114.4" y="240.3" width="1.2" height="1.2" fill="#f07e6a" opacity="0.85"/>
<rect x="49.0" y="250.6" width="1.2" height="1.2" fill="#c48cc8" opacity="0.7"/>
<rect x="161.0" y="231.4" width="1.2" height="1.2" fill="#f07e6a" opacity="0.7"/>
<rect x="166.4" y="235.8" width="1.2" height="1.2" fill="#f07e6a" opacity="1.0"/>
<rect x="149.3" y="261.7" width="1.2" height="1.2" fill="#c8cc64" opacity="1.0"/>
<rect x="161.2" y="247.4" width="1.2" height="1.2" fill="#c48cc8" opacity="1.0"/>
<rect x="134.5" y="229.7" width="1.2" height="1.2" fill="#f07e6a" opacity="0.85"/>
<rect x="120.5" y="252.3" width="1.2" height="1.2" fill="#c48cc8" opacity="1.0"/>
<rect x="51.2" y="261.1" width="1.2" height="1.2" fill="#7cc46a" opacity="1.0"/>
<rect x="120.9" y="247.6" width="1.2" height="1.2" fill="#7cc46a" opacity="1.0"/>
<rect x="130.1" y="257.1" width="1.2" height="1.2" fill="#c8cc64" opacity="0.85"/>
<rect x="92.1" y="254.4" width="1.2" height="1.2" fill="#c48cc8" opacity="0.85"/>
<rect x="83.9" y="249.9" width="1.2" height="1.2" fill="#c48cc8" opacity="0.85"/>
<rect x="40.3" y="258.4" width="1.2" height="1.2" fill="#7cc46a" opacity="0.7"/>
<rect x="105.9" y="247.0" width="1.2" height="1.2" fill="#c48cc8" opacity="0.85"/>
<rect x="34.6" y="281.2" width="1.2" height="1.2" fill="#c8cc64" opacity="1.0"/>
<rect x="71.9" y="252.5" width="1.2" height="1.2" fill="#7cc46a" opacity="0.7"/>
<rect x="104.8" y="267.6" width="1.2" height="1.2" fill="#c8cc64" opacity="0.85"/>
<rect x="116.9" y="258.3" width="1.2" height="1.2" fill="#7cc46a" opacity="1.0"/>
<rect x="40.7" y="243.9" width="1.2" height="1.2" fill="#c48cc8" opacity="0.85"/>
<rect x="164.7" y="243.4" width="1.2" height="1.2" fill="#c48cc8" opacity="0.85"/>
<rect x="104.4" y="257.9" width="1.2" height="1.2" fill="#c8cc64" opacity="0.85"/>
<rect x="39.7" y="248.0" width="1.2" height="1.2" fill="#c48cc8" opacity="0.85"/>
<rect x="138.1" y="245.2" width="1.2" height="1.2" fill="#c48cc8" opacity="0.85"/>
<rect x="135.8" y="236.4" width="1.2" height="1.2" fill="#f07e6a" opacity="0.7"/>
<rect x="103.6" y="249.0" width="1.2" height="1.2" fill="#c48cc8" opacity="1.0"/>
<rect x="135.8" y="238.4" width="1.2" height="1.2" fill="#f07e6a" opacity="0.85"/>
<rect x="110.2" y="271.1" width="1.2" height="1.2" fill="#c8cc64" opacity="0.7"/>
<rect x="131.7" y="253.3" width="1.2" height="1.2" fill="#c48cc8" opacity="1.0"/>
<rect x="126.7" y="242.2" width="1.2" height="1.2" fill="#f07e6a" opacity="1.0"/>
<rect x="149.6" y="245.8" width="1.2" height="1.2" fill="#7cc46a" opacity="0.7"/>
<rect x="84.1" y="269.7" width="1.2" height="1.2" fill="#c8cc64" opacity="1.0"/>
<rect x="76.5" y="244.6" width="1.2" height="1.2" fill="#f07e6a" opacity="1.0"/>
<rect x="115.8" y="247.6" width="1.2" height="1.2" fill="#c48cc8" opacity="0.7"/>
<rect x="79.0" y="240.4" width="1.2" height="1.2" fill="#f07e6a" opacity="0.85"/>
<rect x="117.7" y="264.3" width="1.2" height="1.2" fill="#c8cc64" opacity="0.7"/>
<rect x="69.1" y="239.5" width="1.2" height="1.2" fill="#f07e6a" opacity="0.85"/>
<rect x="86.7" y="249.9" width="1.2" height="1.2" fill="#c48cc8" opacity="0.85"/>
<rect x="106.7" y="250.5" width="1.2" height="1.2" fill="#c48cc8" opacity="0.7"/>
<rect x="69.7" y="271.2" width="1.2" height="1.2" fill="#c8cc64" opacity="1.0"/>
<rect x="81.0" y="261.0" width="1.2" height="1.2" fill="#c8cc64" opacity="0.7"/>
<rect x="36.2" y="233.7" width="1.2" height="1.2" fill="#f07e6a" opacity="1.0"/>
<rect x="81.4" y="266.7" width="1.2" height="1.2" fill="#c8cc64" opacity="0.7"/>
<rect x="100.2" y="251.3" width="1.2" height="1.2" fill="#c48cc8" opacity="1.0"/>
<rect x="110.2" y="235.2" width="1.2" height="1.2" fill="#f07e6a" opacity="0.7"/>
<rect x="42.9" y="240.8" width="1.2" height="1.2" fill="#f07e6a" opacity="0.85"/>
<rect x="63.8" y="227.3" width="1.2" height="1.2" fill="#f07e6a" opacity="0.7"/>
<rect x="139.1" y="261.6" width="1.2" height="1.2" fill="#c8cc64" opacity="1.0"/>
<rect x="35.6" y="262.4" width="1.2" height="1.2" fill="#7cc46a" opacity="0.7"/>
<rect x="127.7" y="252.5" width="1.2" height="1.2" fill="#c48cc8" opacity="1.0"/>
<rect x="55.4" y="261.8" width="1.2" height="1.2" fill="#7cc46a" opacity="0.7"/>
<rect x="109.2" y="257.7" width="1.2" height="1.2" fill="#7cc46a" opacity="0.85"/>
<rect x="115.3" y="251.6" width="1.2" height="1.2" fill="#7cc46a" opacity="0.85"/>
<rect x="142.6" y="239.4" width="1.2" height="1.2" fill="#f07e6a" opacity="0.7"/>
<rect x="164.8" y="234.6" width="1.2" height="1.2" fill="#f07e6a" opacity="0.85"/>
<rect x="63.6" y="275.5" width="1.2" height="1.2" fill="#c8cc64" opacity="1.0"/>
<rect x="83.0" y="253.2" width="1.2" height="1.2" fill="#7cc46a" opacity="0.85"/>
<rect x="86.0" y="262.5" width="1.2" height="1.2" fill="#c8cc64" opacity="0.7"/>
<rect x="139.8" y="244.8" width="1.2" height="1.2" fill="#c48cc8" opacity="1.0"/>
<rect x="70.8" y="240.0" width="1.2" height="1.2" fill="#f07e6a" opacity="0.7"/>
<rect x="120.1" y="250.8" width="1.2" height="1.2" fill="#c48cc8" opacity="0.7"/>
<rect x="150.9" y="249.1" width="1.2" height="1.2" fill="#c48cc8" opacity="0.85"/>
<rect x="158.1" y="259.6" width="1.2" height="1.2" fill="#c8cc64" opacity="0.7"/>
<rect x="156.3" y="240.5" width="1.2" height="1.2" fill="#7cc46a" opacity="0.85"/>
<rect x="105.7" y="245.9" width="1.2" height="1.2" fill="#c48cc8" opacity="0.85"/>
<rect x="113.5" y="267.9" width="1.2" height="1.2" fill="#c8cc64" opacity="0.85"/>
<rect x="128.5" y="253.2" width="1.2" height="1.2" fill="#7cc46a" opacity="0.7"/>
<rect x="82.5" y="261.0" width="1.2" height="1.2" fill="#c8cc64" opacity="0.7"/>
<rect x="97.7" y="255.6" width="1.2" height="1.2" fill="#7cc46a" opacity="0.7"/>
<rect x="58.9" y="262.1" width="1.2" height="1.2" fill="#c8cc64" opacity="0.7"/>
<rect x="89.2" y="255.2" width="1.2" height="1.2" fill="#7cc46a" opacity="1.0"/>
<rect x="50.2" y="245.9" width="1.2" height="1.2" fill="#c48cc8" opacity="0.7"/>
<rect x="83.6" y="247.4" width="1.2" height="1.2" fill="#c48cc8" opacity="0.85"/>
<rect x="93.8" y="246.6" width="1.2" height="1.2" fill="#f07e6a" opacity="0.85"/>
<rect x="73.2" y="273.7" width="1.2" height="1.2" fill="#c8cc64" opacity="1.0"/>
<rect x="119.0" y="246.6" width="1.2" height="1.2" fill="#c48cc8" opacity="0.7"/>
<rect x="150.4" y="249.9" width="1.2" height="1.2" fill="#c8cc64" opacity="0.7"/>
<rect x="32.6" y="234.1" width="1.2" height="1.2" fill="#f07e6a" opacity="1.0"/>
<rect x="128.6" y="260.5" width="1.2" height="1.2" fill="#c8cc64" opacity="0.85"/>
<rect x="37.2" y="252.7" width="1.2" height="1.2" fill="#7cc46a" opacity="1.0"/>
<rect x="167.0" y="272.0" width="1.2" height="1.2" fill="#c8cc64" opacity="0.85"/>
<rect x="35.9" y="249.8" width="1.2" height="1.2" fill="#c48cc8" opacity="1.0"/>
<rect x="129.5" y="246.8" width="1.2" height="1.2" fill="#c48cc8" opacity="0.85"/>
<rect x="64.7" y="263.5" width="1.2" height="1.2" fill="#7cc46a" opacity="0.7"/>
<rect x="109.3" y="254.5" width="1.2" height="1.2" fill="#7cc46a" opacity="1.0"/>
<rect x="129.4" y="249.7" width="1.2" height="1.2" fill="#c8cc64" opacity="0.85"/>
<rect x="82.7" y="240.1" width="1.2" height="1.2" fill="#f07e6a" opacity="1.0"/>
<rect x="151.2" y="246.4" width="1.2" height="1.2" fill="#7cc46a" opacity="0.85"/>
<rect x="66.1" y="238.7" width="1.2" height="1.2" fill="#f07e6a" opacity="1.0"/>
<rect x="38.8" y="239.9" width="1.2" height="1.2" fill="#f07e6a" opacity="0.7"/>
<rect x="38.2" y="276.7" width="1.2" height="1.2" fill="#c8cc64" opacity="0.7"/>
<rect x="147.6" y="250.1" width="1.2" height="1.2" fill="#c48cc8" opacity="0.7"/>
<rect x="82.4" y="261.9" width="1.2" height="1.2" fill="#c8cc64" opacity="0.85"/>
<rect x="158.3" y="263.1" width="1.2" height="1.2" fill="#c8cc64" opacity="1.0"/>
<rect x="122.7" y="260.3" width="1.2" height="1.2" fill="#c8cc64" opacity="0.7"/>
<rect x="59.5" y="234.6" width="1.2" height="1.2" fill="#f07e6a" opacity="1.0"/>
<rect x="140.9" y="250.9" width="1.2" height="1.2" fill="#c48cc8" opacity="0.7"/>
<rect x="125.9" y="246.0" width="1.2" height="1.2" fill="#c48cc8" opacity="0.85"/>
<rect x="61.0" y="266.2" width="1.2" height="1.2" fill="#c8cc64" opacity="1.0"/>
<rect x="156.7" y="249.9" width="1.2" height="1.2" fill="#c48cc8" opacity="0.7"/>
<rect x="42.9" y="240.7" width="1.2" height="1.2" fill="#f07e6a" opacity="0.7"/>
<rect x="167.8" y="257.0" width="1.2" height="1.2" fill="#c8cc64" opacity="0.7"/>
<rect x="126.8" y="253.2" width="1.2" height="1.2" fill="#c8cc64" opacity="1.0"/>
<rect x="48.0" y="262.9" width="1.2" height="1.2" fill="#7cc46a" opacity="1.0"/>
<rect x="123.3" y="247.8" width="1.2" height="1.2" fill="#c48cc8" opacity="1.0"/>
<rect x="140.2" y="247.2" width="1.2" height="1.2" fill="#c48cc8" opacity="0.85"/>
<rect x="87.4" y="241.6" width="1.2" height="1.2" fill="#f07e6a" opacity="0.85"/>
<rect x="149.8" y="256.1" width="1.2" height="1.2" fill="#c8cc64" opacity="0.7"/>
<rect x="93.7" y="238.2" width="1.2" height="1.2" fill="#f07e6a" opacity="1.0"/>
<rect x="47.1" y="263.2" width="1.2" height="1.2" fill="#7cc46a" opacity="1.0"/>
<rect x="156.9" y="259.7" width="1.2" height="1.2" fill="#c8cc64" opacity="0.7"/>
<rect x="84.3" y="262.6" width="1.2" height="1.2" fill="#c8cc64" opacity="0.7"/>
<rect x="66.0" y="249.2" width="1.2" height="1.2" fill="#c48cc8" opacity="1.0"/>
<rect x="113.6" y="237.3" width="1.2" height="1.2" fill="#f07e6a" opacity="1.0"/>
<rect x="83.1" y="236.2" width="1.2" height="1.2" fill="#f07e6a" opacity="0.7"/>
<rect x="69.8" y="262.0" width="1.2" height="1.2" fill="#7cc46a" opacity="1.0"/>
<rect x="124.8" y="239.2" width="1.2" height="1.2" fill="#f07e6a" opacity="0.7"/>
<rect x="77.9" y="247.9" width="1.2" height="1.2" fill="#c48cc8" opacity="1.0"/>
<rect x="52.9" y="259.6" width="1.2" height="1.2" fill="#7cc46a" opacity="0.85"/>
<rect x="127.1" y="253.9" width="1.2" height="1.2" fill="#c48cc8" opacity="0.85"/>
<rect x="40.8" y="237.1" width="1.2" height="1.2" fill="#f07e6a" opacity="1.0"/>
<rect x="112.5" y="263.7" width="1.2" height="1.2" fill="#c8cc64" opacity="0.85"/>
<rect x="77.9" y="257.7" width="1.2" height="1.2" fill="#7cc46a" opacity="0.7"/>
<rect x="115.6" y="255.3" width="1.2" height="1.2" fill="#c8cc64" opacity="0.7"/>
<rect x="102.0" y="247.4" width="1.2" height="1.2" fill="#7cc46a" opacity="1.0"/>
<rect x="149.9" y="238.6" width="1.2" height="1.2" fill="#f07e6a" opacity="1.0"/>
<rect x="59.9" y="261.7" width="1.2" height="1.2" fill="#c8cc64" opacity="1.0"/>
<rect x="61.3" y="263.5" width="1.2" height="1.2" fill="#c8cc64" opacity="0.7"/>
<rect x="96.1" y="243.4" width="1.2" height="1.2" fill="#c48cc8" opacity="0.85"/>
<rect x="111.3" y="252.0" width="1.2" height="1.2" fill="#c48cc8" opacity="1.0"/>
<rect x="113.4" y="255.3" width="1.2" height="1.2" fill="#c8cc64" opacity="1.0"/>
<rect x="164.9" y="235.3" width="1.2" height="1.2" fill="#f07e6a" opacity="1.0"/>
<rect x="71.4" y="265.7" width="1.2" height="1.2" fill="#7cc46a" opacity="1.0"/>
<rect x="101.1" y="241.1" width="1.2" height="1.2" fill="#f07e6a" opacity="0.7"/>
<rect x="108.0" y="257.8" width="1.2" height="1.2" fill="#7cc46a" opacity="0.7"/>
<rect x="72.4" y="244.5" width="1.2" height="1.2" fill="#c48cc8" opacity="1.0"/>
<rect x="87.2" y="253.6" width="1.2" height="1.2" fill="#c48cc8" opacity="0.85"/>
<rect x="84.2" y="265.0" width="1.2" height="1.2" fill="#c8cc64" opacity="1.0"/>
<rect x="59.7" y="231.3" width="1.2" height="1.2" fill="#f07e6a" opacity="0.85"/>
<rect x="101.9" y="254.4" width="1.2" height="1.2" fill="#c48cc8" opacity="0.7"/>
<rect x="42.4" y="272.4" width="1.2" height="1.2" fill="#c8cc64" opacity="0.85"/>
<rect x="80.7" y="265.3" width="1.2" height="1.2" fill="#c8cc64" opacity="0.85"/>
<rect x="45.1" y="237.6" width="1.2" height="1.2" fill="#f07e6a" opacity="0.7"/>
<rect x="150.0" y="246.1" width="1.2" height="1.2" fill="#c8cc64" opacity="0.7"/>
<rect x="88.6" y="255.5" width="1.2" height="1.2" fill="#7cc46a" opacity="0.7"/>
<rect x="155.1" y="254.2" width="1.2" height="1.2" fill="#7cc46a" opacity="0.7"/>
<rect x="36.0" y="235.3" width="1.2" height="1.2" fill="#f07e6a" opacity="0.7"/>
<rect x="85.5" y="253.8" width="1.2" height="1.2" fill="#7cc46a" opacity="0.7"/>
<rect x="59.8" y="257.2" width="1.2" height="1.2" fill="#7cc46a" opacity="0.85"/>
<rect x="168.5" y="247.8" width="1.2" height="1.2" fill="#c48cc8" opacity="0.85"/>
<rect x="113.0" y="259.6" width="1.2" height="1.2" fill="#7cc46a" opacity="0.7"/>
<rect x="60.4" y="245.7" width="1.2" height="1.2" fill="#f07e6a" opacity="0.7"/>
<rect x="114.6" y="249.7" width="1.2" height="1.2" fill="#c48cc8" opacity="0.85"/>
<rect x="132.6" y="249.8" width="1.2" height="1.2" fill="#7cc46a" opacity="0.7"/>
<rect x="121.9" y="251.6" width="1.2" height="1.2" fill="#c8cc64" opacity="1.0"/>
<rect x="120.2" y="240.9" width="1.2" height="1.2" fill="#f07e6a" opacity="0.85"/>
<rect x="160.0" y="245.4" width="1.2" height="1.2" fill="#7cc46a" opacity="1.0"/>
<rect x="76.9" y="242.3" width="1.2" height="1.2" fill="#c48cc8" opacity="0.7"/>
<rect x="117.7" y="259.5" width="1.2" height="1.2" fill="#c8cc64" opacity="1.0"/>
<rect x="153.4" y="248.6" width="1.2" height="1.2" fill="#7cc46a" opacity="0.7"/>
<rect x="89.2" y="233.0" width="1.2" height="1.2" fill="#f07e6a" opacity="1.0"/>
<rect x="154.5" y="242.0" width="1.2" height="1.2" fill="#f07e6a" opacity="1.0"/>
<rect x="146.7" y="239.1" width="1.2" height="1.2" fill="#f07e6a" opacity="0.85"/>
<rect x="125.8" y="248.4" width="1.2" height="1.2" fill="#c48cc8" opacity="1.0"/>
<rect x="133.6" y="263.9" width="1.2" height="1.2" fill="#c8cc64" opacity="0.85"/>
<rect x="43.3" y="263.0" width="1.2" height="1.2" fill="#7cc46a" opacity="0.7"/>
<rect x="58.0" y="247.1" width="1.2" height="1.2" fill="#c48cc8" opacity="0.7"/>
<rect x="128.1" y="254.4" width="1.2" height="1.2" fill="#c48cc8" opacity="1.0"/>
<rect x="119.1" y="250.4" width="1.2" height="1.2" fill="#7cc46a" opacity="0.7"/>
<rect x="136.8" y="251.3" width="1.2" height="1.2" fill="#c48cc8" opacity="0.85"/>
<rect x="149.1" y="254.0" width="1.2" height="1.2" fill="#c8cc64" opacity="1.0"/>
<rect x="100.3" y="261.3" width="1.2" height="1.2" fill="#c8cc64" opacity="0.85"/>
<rect x="84.8" y="234.9" width="1.2" height="1.2" fill="#f07e6a" opacity="0.85"/>
<rect x="165.7" y="251.1" width="1.2" height="1.2" fill="#c8cc64" opacity="0.7"/>
<rect x="126.0" y="254.9" width="1.2" height="1.2" fill="#c48cc8" opacity="0.85"/>
<rect x="146.5" y="266.3" width="1.2" height="1.2" fill="#c8cc64" opacity="1.0"/>
<rect x="43.5" y="232.5" width="1.2" height="1.2" fill="#f07e6a" opacity="0.7"/>
<rect x="56.8" y="270.2" width="1.2" height="1.2" fill="#c8cc64" opacity="1.0"/>
<rect x="78.1" y="261.6" width="1.2" height="1.2" fill="#7cc46a" opacity="0.85"/>
<rect x="139.7" y="243.1" width="1.2" height="1.2" fill="#c48cc8" opacity="0.85"/>
<rect x="67.9" y="244.7" width="1.2" height="1.2" fill="#f07e6a" opacity="1.0"/>
<rect x="86.9" y="241.6" width="1.2" height="1.2" fill="#f07e6a" opacity="0.7"/>
<rect x="145.7" y="240.1" width="1.2" height="1.2" fill="#f07e6a" opacity="1.0"/>
<rect x="57.1" y="257.4" width="1.2" height="1.2" fill="#7cc46a" opacity="0.7"/>
<rect x="95.6" y="254.5" width="1.2" height="1.2" fill="#7cc46a" opacity="0.7"/>
<rect x="80.7" y="258.3" width="1.2" height="1.2" fill="#7cc46a" opacity="0.7"/>
<rect x="60.0" y="256.7" width="1.2" height="1.2" fill="#7cc46a" opacity="0.7"/>
<rect x="146.8" y="239.8" width="1.2" height="1.2" fill="#f07e6a" opacity="0.7"/>
<rect x="61.4" y="266.3" width="1.2" height="1.2" fill="#c8cc64" opacity="1.0"/>
<rect x="120.3" y="241.7" width="1.2" height="1.2" fill="#f07e6a" opacity="0.85"/>
<rect x="48.5" y="244.8" width="1.2" height="1.2" fill="#c48cc8" opacity="1.0"/>
<rect x="165.2" y="255.5" width="1.2" height="1.2" fill="#c8cc64" opacity="0.85"/>
<rect x="133.9" y="233.3" width="1.2" height="1.2" fill="#f07e6a" opacity="0.7"/>
<rect x="119.5" y="245.3" width="1.2" height="1.2" fill="#7cc46a" opacity="0.7"/>
<rect x="81.7" y="239.2" width="1.2" height="1.2" fill="#f07e6a" opacity="1.0"/>
<rect x="137.8" y="258.7" width="1.2" height="1.2" fill="#c8cc64" opacity="1.0"/>
<rect x="115.8" y="249.5" width="1.2" height="1.2" fill="#7cc46a" opacity="0.7"/>
<rect x="135.8" y="244.9" width="1.2" height="1.2" fill="#c48cc8" opacity="1.0"/>
<rect x="107.9" y="251.7" width="1.2" height="1.2" fill="#c48cc8" opacity="0.85"/>
<rect x="102.4" y="237.8" width="1.2" height="1.2" fill="#f07e6a" opacity="1.0"/>
<rect x="59.1" y="234.8" width="1.2" height="1.2" fill="#f07e6a" opacity="0.7"/>
<rect x="133.6" y="235.4" width="1.2" height="1.2" fill="#f07e6a" opacity="0.85"/>
<rect x="94.0" y="249.2" width="1.2" height="1.2" fill="#c48cc8" opacity="0.7"/>
<rect x="102.7" y="242.6" width="1.2" height="1.2" fill="#f07e6a" opacity="0.85"/>
<rect x="44.8" y="266.5" width="1.2" height="1.2" fill="#c8cc64" opacity="0.85"/>
<rect x="109.6" y="227.5" width="1.2" height="1.2" fill="#f07e6a" opacity="1.0"/>
<rect x="41.9" y="241.8" width="1.2" height="1.2" fill="#f07e6a" opacity="0.7"/>
<rect x="44.2" y="239.5" width="1.2" height="1.2" fill="#f07e6a" opacity="0.85"/>
<rect x="156.4" y="252.2" width="1.2" height="1.2" fill="#c48cc8" opacity="0.7"/>
<rect x="41.6" y="240.8" width="1.2" height="1.2" fill="#f07e6a" opacity="0.85"/>
<rect x="53.0" y="270.4" width="1.2" height="1.2" fill="#c8cc64" opacity="1.0"/>
<rect x="60.4" y="249.2" width="1.2" height="1.2" fill="#c48cc8" opacity="0.85"/>
<rect x="137.9" y="237.5" width="1.2" height="1.2" fill="#f07e6a" opacity="1.0"/>
<rect x="72.7" y="238.1" width="1.2" height="1.2" fill="#f07e6a" opacity="0.7"/>
<rect x="116.4" y="235.8" width="1.2" height="1.2" fill="#f07e6a" opacity="1.0"/>
<rect x="166.8" y="257.0" width="1.2" height="1.2" fill="#c8cc64" opacity="0.7"/>
<rect x="76.4" y="253.7" width="1.2" height="1.2" fill="#7cc46a" opacity="0.7"/>
<rect x="76.1" y="275.1" width="1.2" height="1.2" fill="#c8cc64" opacity="0.7"/>
<rect x="65.2" y="243.4" width="1.2" height="1.2" fill="#f07e6a" opacity="0.7"/>
<rect x="81.8" y="245.2" width="1.2" height="1.2" fill="#c48cc8" opacity="1.0"/>
<rect x="145.5" y="250.1" width="1.2" height="1.2" fill="#c48cc8" opacity="0.85"/>
<rect x="139.6" y="251.9" width="1.2" height="1.2" fill="#c48cc8" opacity="0.85"/>
<rect x="160.3" y="266.5" width="1.2" height="1.2" fill="#c8cc64" opacity="1.0"/>
<rect x="40.9" y="250.0" width="1.2" height="1.2" fill="#c48cc8" opacity="0.7"/>
<rect x="97.4" y="274.1" width="1.2" height="1.2" fill="#c8cc64" opacity="0.7"/>
<rect x="149.7" y="250.2" width="1.2" height="1.2" fill="#7cc46a" opacity="0.85"/>
<rect x="112.0" y="251.9" width="1.2" height="1.2" fill="#c48cc8" opacity="0.85"/>
<rect x="77.1" y="256.9" width="1.2" height="1.2" fill="#c48cc8" opacity="0.85"/>
<rect x="127.0" y="252.6" width="1.2" height="1.2" fill="#7cc46a" opacity="0.7"/>
<rect x="128.9" y="252.6" width="1.2" height="1.2" fill="#7cc46a" opacity="1.0"/>
<rect x="57.6" y="247.7" width="1.2" height="1.2" fill="#c48cc8" opacity="0.7"/>
<rect x="128.1" y="257.5" width="1.2" height="1.2" fill="#c8cc64" opacity="1.0"/>
<rect x="44.7" y="263.0" width="1.2" height="1.2" fill="#c8cc64" opacity="0.7"/>
<rect x="81.9" y="249.4" width="1.2" height="1.2" fill="#c48cc8" opacity="1.0"/>
<rect x="132.1" y="254.9" width="1.2" height="1.2" fill="#c48cc8" opacity="0.7"/>
<rect x="124.5" y="254.1" width="1.2" height="1.2" fill="#7cc46a" opacity="0.7"/>
<rect x="161.8" y="254.1" width="1.2" height="1.2" fill="#c48cc8" opacity="1.0"/>
<rect x="50.3" y="258.8" width="1.2" height="1.2" fill="#7cc46a" opacity="0.85"/>
<rect x="117.4" y="265.7" width="1.2" height="1.2" fill="#c8cc64" opacity="1.0"/>
<rect x="100.9" y="251.6" width="1.2" height="1.2" fill="#7cc46a" opacity="1.0"/>
<rect x="144.4" y="244.4" width="1.2" height="1.2" fill="#7cc46a" opacity="0.7"/>
<rect x="43.9" y="237.9" width="1.2" height="1.2" fill="#f07e6a" opacity="0.7"/>
<rect x="167.4" y="252.5" width="1.2" height="1.2" fill="#c8cc64" opacity="0.7"/>
<rect x="158.1" y="239.3" width="1.2" height="1.2" fill="#f07e6a" opacity="0.85"/>
<rect x="152.6" y="261.3" width="1.2" height="1.2" fill="#c8cc64" opacity="0.85"/>
<rect x="108.5" y="270.6" width="1.2" height="1.2" fill="#c8cc64" opacity="0.7"/>
<rect x="137.5" y="236.6" width="1.2" height="1.2" fill="#f07e6a" opacity="1.0"/>
<rect x="42.7" y="229.8" width="1.2" height="1.2" fill="#f07e6a" opacity="1.0"/>
<rect x="117.3" y="256.2" width="1.2" height="1.2" fill="#c48cc8" opacity="0.7"/>
<rect x="163.1" y="236.7" width="1.2" height="1.2" fill="#f07e6a" opacity="0.7"/>
<rect x="163.9" y="244.3" width="1.2" height="1.2" fill="#c48cc8" opacity="1.0"/>
<rect x="54.5" y="248.1" width="1.2" height="1.2" fill="#f07e6a" opacity="1.0"/>
<rect x="40.9" y="238.8" width="1.2" height="1.2" fill="#f07e6a" opacity="1.0"/>
<rect x="162.5" y="248.4" width="1.2" height="1.2" fill="#c48cc8" opacity="0.7"/>
<rect x="108.1" y="260.6" width="1.2" height="1.2" fill="#c8cc64" opacity="0.7"/>
<rect x="86.6" y="233.8" width="1.2" height="1.2" fill="#f07e6a" opacity="0.85"/>
<rect x="98.7" y="260.0" width="1.2" height="1.2" fill="#7cc46a" opacity="1.0"/>
<rect x="80.4" y="254.0" width="1.2" height="1.2" fill="#7cc46a" opacity="0.85"/>
<rect x="86.4" y="236.2" width="1.2" height="1.2" fill="#f07e6a" opacity="0.7"/>
<rect x="126.9" y="258.4" width="1.2" height="1.2" fill="#c8cc64" opacity="0.7"/>
<rect x="70.0" y="244.9" width="1.2" height="1.2" fill="#c48cc8" opacity="1.0"/>
<rect x="166.5" y="237.5" width="1.2" height="1.2" fill="#f07e6a" opacity="1.0"/>
<rect x="95.9" y="261.1" width="1.2" height="1.2" fill="#c8cc64" opacity="1.0"/>
<rect x="74.5" y="238.8" width="1.2" height="1.2" fill="#f07e6a" opacity="1.0"/>
<rect x="140.4" y="262.6" width="1.2" height="1.2" fill="#c8cc64" opacity="1.0"/>
<rect x="120.1" y="249.7" width="1.2" height="1.2" fill="#c48cc8" opacity="0.85"/>
<rect x="54.6" y="280.6" width="1.2" height="1.2" fill="#c8cc64" opacity="1.0"/>
<rect x="164.4" y="257.7" width="1.2" height="1.2" fill="#c8cc64" opacity="0.85"/>
<rect x="38.9" y="283.0" width="1.2" height="1.2" fill="#c8cc64" opacity="0.7"/>
<rect x="35.9" y="281.4" width="1.2" height="1.2" fill="#c8cc64" opacity="0.85"/>
<rect x="136.5" y="250.5" width="1.2" height="1.2" fill="#c48cc8" opacity="0.85"/>
<rect x="129.0" y="250.7" width="1.2" height="1.2" fill="#7cc46a" opacity="1.0"/>
<rect x="107.8" y="250.3" width="1.2" height="1.2" fill="#7cc46a" opacity="0.85"/>
<rect x="80.1" y="241.5" width="1.2" height="1.2" fill="#f07e6a" opacity="0.7"/>
<rect x="119.8" y="259.7" width="1.2" height="1.2" fill="#c8cc64" opacity="0.85"/>
<rect x="155.0" y="254.6" width="1.2" height="1.2" fill="#c8cc64" opacity="0.7"/>
<rect x="138.0" y="238.7" width="1.2" height="1.2" fill="#f07e6a" opacity="0.7"/>
<rect x="167.1" y="240.8" width="1.2" height="1.2" fill="#c8cc64" opacity="0.7"/>
<rect x="151.2" y="264.5" width="1.2" height="1.2" fill="#c8cc64" opacity="0.7"/>
<rect x="134.6" y="259.7" width="1.2" height="1.2" fill="#c8cc64" opacity="0.7"/>
<rect x="49.2" y="274.2" width="1.2" height="1.2" fill="#c8cc64" opacity="0.7"/>
<rect x="45.6" y="230.9" width="1.2" height="1.2" fill="#f07e6a" opacity="0.85"/>
<rect x="153.5" y="258.1" width="1.2" height="1.2" fill="#c8cc64" opacity="0.7"/>
<rect x="66.3" y="236.5" width="1.2" height="1.2" fill="#f07e6a" opacity="1.0"/>
<rect x="41.5" y="237.4" width="1.2" height="1.2" fill="#f07e6a" opacity="0.7"/>
<rect x="156.3" y="249.6" width="1.2" height="1.2" fill="#c48cc8" opacity="0.85"/>
<rect x="137.5" y="249.3" width="1.2" height="1.2" fill="#c48cc8" opacity="0.7"/>
<rect x="166.1" y="261.5" width="1.2" height="1.2" fill="#c8cc64" opacity="1.0"/>
<rect x="50.6" y="258.1" width="1.2" height="1.2" fill="#7cc46a" opacity="1.0"/>
<rect x="154.1" y="263.6" width="1.2" height="1.2" fill="#c8cc64" opacity="1.0"/>
<rect x="117.5" y="244.7" width="1.2" height="1.2" fill="#c48cc8" opacity="0.85"/>
<rect x="154.6" y="261.9" width="1.2" height="1.2" fill="#c8cc64" opacity="1.0"/>
<rect x="153.4" y="252.4" width="1.2" height="1.2" fill="#7cc46a" opacity="0.7"/>
<rect x="136.3" y="249.7" width="1.2" height="1.2" fill="#c48cc8" opacity="0.7"/>
<rect x="79.3" y="237.5" width="1.2" height="1.2" fill="#f07e6a" opacity="1.0"/>
<rect x="86.2" y="274.3" width="1.2" height="1.2" fill="#c8cc64" opacity="0.85"/>
<rect x="115.2" y="242.0" width="1.2" height="1.2" fill="#c48cc8" opacity="0.7"/>
<rect x="67.8" y="265.7" width="1.2" height="1.2" fill="#c8cc64" opacity="1.0"/>
<rect x="131.5" y="246.5" width="1.2" height="1.2" fill="#c48cc8" opacity="0.7"/>
<rect x="35.1" y="267.5" width="1.2" height="1.2" fill="#7cc46a" opacity="0.85"/>
<rect x="95.7" y="265.2" width="1.2" height="1.2" fill="#c8cc64" opacity="1.0"/>
<rect x="75.8" y="243.7" width="1.2" height="1.2" fill="#c48cc8" opacity="0.7"/>
<rect x="126.3" y="257.7" width="1.2" height="1.2" fill="#7cc46a" opacity="0.85"/>
<rect x="105.5" y="260.0" width="1.2" height="1.2" fill="#c8cc64" opacity="0.85"/>
<rect x="44.5" y="263.6" width="1.2" height="1.2" fill="#7cc46a" opacity="1.0"/>
<rect x="125.3" y="231.2" width="1.2" height="1.2" fill="#f07e6a" opacity="0.7"/>
<rect x="45.8" y="259.3" width="1.2" height="1.2" fill="#7cc46a" opacity="1.0"/>
<rect x="111.8" y="228.5" width="1.2" height="1.2" fill="#f07e6a" opacity="1.0"/>
<rect x="76.6" y="263.7" width="1.2" height="1.2" fill="#c8cc64" opacity="0.7"/>
<rect x="158.3" y="239.2" width="1.2" height="1.2" fill="#f07e6a" opacity="0.7"/>
<rect x="117.7" y="252.9" width="1.2" height="1.2" fill="#7cc46a" opacity="1.0"/>
<rect x="46.0" y="234.5" width="1.2" height="1.2" fill="#f07e6a" opacity="0.7"/>
<rect x="74.7" y="256.8" width="1.2" height="1.2" fill="#c48cc8" opacity="1.0"/>
<rect x="67.5" y="239.4" width="1.2" height="1.2" fill="#f07e6a" opacity="1.0"/>
<rect x="77.5" y="281.7" width="1.2" height="1.2" fill="#c8cc64" opacity="0.7"/>
<rect x="127.8" y="251.0" width="1.2" height="1.2" fill="#c48cc8" opacity="1.0"/>
<rect x="38.1" y="276.6" width="1.2" height="1.2" fill="#c8cc64" opacity="1.0"/>
<rect x="122.6" y="249.4" width="1.2" height="1.2" fill="#7cc46a" opacity="0.7"/>
<rect x="128.6" y="255.1" width="1.2" height="1.2" fill="#7cc46a" opacity="0.7"/>
<rect x="33.4" y="235.5" width="1.2" height="1.2" fill="#f07e6a" opacity="0.7"/>
<rect x="148.7" y="246.3" width="1.2" height="1.2" fill="#7cc46a" opacity="0.85"/>
<rect x="38.4" y="237.6" width="1.2" height="1.2" fill="#f07e6a" opacity="0.85"/>
<rect x="96.7" y="234.8" width="1.2" height="1.2" fill="#f07e6a" opacity="0.85"/>
<rect x="142.9" y="233.3" width="1.2" height="1.2" fill="#f07e6a" opacity="1.0"/>
<rect x="48.7" y="260.2" width="1.2" height="1.2" fill="#7cc46a" opacity="0.85"/>
<rect x="58.7" y="254.8" width="1.2" height="1.2" fill="#7cc46a" opacity="1.0"/>
<rect x="126.5" y="255.8" width="1.2" height="1.2" fill="#7cc46a" opacity="0.85"/>
<rect x="32.7" y="241.6" width="1.2" height="1.2" fill="#f07e6a" opacity="0.7"/>
<rect x="55.3" y="252.8" width="1.2" height="1.2" fill="#c48cc8" opacity="1.0"/>
<rect x="49.2" y="245.6" width="1.2" height="1.2" fill="#f07e6a" opacity="0.85"/>
<rect x="41.3" y="285.3" width="1.2" height="1.2" fill="#c8cc64" opacity="0.7"/>
<rect x="137.7" y="238.7" width="1.2" height="1.2" fill="#f07e6a" opacity="0.7"/>
<rect x="137.5" y="255.6" width="1.2" height="1.2" fill="#7cc46a" opacity="0.85"/>
<rect x="164.0" y="249.2" width="1.2" height="1.2" fill="#c48cc8" opacity="1.0"/>
<rect x="47.8" y="240.4" width="1.2" height="1.2" fill="#f07e6a" opacity="0.7"/>
<rect x="131.7" y="263.3" width="1.2" height="1.2" fill="#c8cc64" opacity="1.0"/>
<rect x="142.9" y="237.6" width="1.2" height="1.2" fill="#f07e6a" opacity="0.7"/>
<rect x="157.9" y="250.3" width="1.2" height="1.2" fill="#c48cc8" opacity="0.85"/>
<rect x="134.4" y="252.2" width="1.2" height="1.2" fill="#7cc46a" opacity="0.7"/>
<rect x="34.6" y="248.3" width="1.2" height="1.2" fill="#c48cc8" opacity="0.85"/>
<rect x="95.6" y="245.5" width="1.2" height="1.2" fill="#f07e6a" opacity="0.7"/>
<rect x="57.0" y="273.5" width="1.2" height="1.2" fill="#c8cc64" opacity="0.7"/>
<rect x="45.2" y="262.1" width="1.2" height="1.2" fill="#c8cc64" opacity="0.7"/>
<rect x="44.0" y="238.2" width="1.2" height="1.2" fill="#f07e6a" opacity="1.0"/>
<rect x="59.2" y="251.5" width="1.2" height="1.2" fill="#7cc46a" opacity="1.0"/>
<rect x="89.9" y="261.1" width="1.2" height="1.2" fill="#7cc46a" opacity="0.85"/>
<rect x="132.8" y="250.6" width="1.2" height="1.2" fill="#c48cc8" opacity="0.7"/>
<rect x="151.1" y="247.7" width="1.2" height="1.2" fill="#c8cc64" opacity="0.7"/>
<rect x="144.2" y="242.8" width="1.2" height="1.2" fill="#f07e6a" opacity="0.7"/>
<rect x="107.0" y="239.5" width="1.2" height="1.2" fill="#f07e6a" opacity="0.85"/>
<rect x="138.3" y="245.9" width="1.2" height="1.2" fill="#c48cc8" opacity="1.0"/>
<rect x="73.6" y="266.7" width="1.2" height="1.2" fill="#c8cc64" opacity="0.85"/>
<rect x="83.8" y="236.9" width="1.2" height="1.2" fill="#f07e6a" opacity="0.85"/>
<rect x="107.5" y="243.3" width="1.2" height="1.2" fill="#c48cc8" opacity="0.7"/>
<rect x="159.9" y="250.6" width="1.2" height="1.2" fill="#7cc46a" opacity="1.0"/>
<rect x="34.9" y="258.1" width="1.2" height="1.2" fill="#7cc46a" opacity="1.0"/>
<rect x="115.2" y="243.2" width="1.2" height="1.2" fill="#c48cc8" opacity="1.0"/>
<rect x="149.2" y="248.3" width="1.2" height="1.2" fill="#7cc46a" opacity="1.0"/>
<rect x="81.6" y="263.3" width="1.2" height="1.2" fill="#c8cc64" opacity="0.85"/>
<rect x="40.2" y="265.7" width="1.2" height="1.2" fill="#7cc46a" opacity="0.7"/>
<rect x="143.9" y="228.2" width="1.2" height="1.2" fill="#f07e6a" opacity="0.85"/>
<rect x="103.7" y="266.4" width="1.2" height="1.2" fill="#c8cc64" opacity="1.0"/>
<rect x="122.5" y="248.8" width="1.2" height="1.2" fill="#c48cc8" opacity="0.85"/>
<rect x="54.4" y="261.6" width="1.2" height="1.2" fill="#7cc46a" opacity="0.85"/>
<rect x="160.9" y="252.1" width="1.2" height="1.2" fill="#c48cc8" opacity="0.7"/>
<rect x="41.9" y="260.7" width="1.2" height="1.2" fill="#7cc46a" opacity="0.85"/>
<rect x="165.6" y="252.0" width="1.2" height="1.2" fill="#7cc46a" opacity="0.85"/>
<rect x="53.2" y="274.8" width="1.2" height="1.2" fill="#c8cc64" opacity="0.85"/>
<rect x="67.3" y="269.5" width="1.2" height="1.2" fill="#c8cc64" opacity="1.0"/>
<rect x="108.8" y="264.3" width="1.2" height="1.2" fill="#c8cc64" opacity="0.7"/>
<rect x="116.9" y="250.0" width="1.2" height="1.2" fill="#c48cc8" opacity="0.7"/>
<rect x="106.6" y="238.1" width="1.2" height="1.2" fill="#f07e6a" opacity="0.7"/>
<rect x="120.2" y="241.3" width="1.2" height="1.2" fill="#f07e6a" opacity="0.7"/>
<rect x="151.1" y="252.6" width="1.2" height="1.2" fill="#7cc46a" opacity="0.7"/>
<rect x="58.9" y="234.2" width="1.2" height="1.2" fill="#f07e6a" opacity="1.0"/>
<rect x="153.7" y="256.3" width="1.2" height="1.2" fill="#c48cc8" opacity="1.0"/>
<rect x="143.3" y="241.1" width="1.2" height="1.2" fill="#f07e6a" opacity="0.7"/>
<rect x="86.8" y="273.4" width="1.2" height="1.2" fill="#c8cc64" opacity="0.85"/>
<rect x="131.7" y="239.7" width="1.2" height="1.2" fill="#f07e6a" opacity="0.85"/>
<rect x="52.9" y="283.2" width="1.2" height="1.2" fill="#c8cc64" opacity="1.0"/>
<rect x="167.0" y="261.8" width="1.2" height="1.2" fill="#c8cc64" opacity="0.7"/>
<rect x="164.3" y="237.5" width="1.2" height="1.2" fill="#f07e6a" opacity="0.85"/>
<rect x="48.4" y="236.2" width="1.2" height="1.2" fill="#f07e6a" opacity="0.7"/>
<rect x="106.4" y="242.9" width="1.2" height="1.2" fill="#f07e6a" opacity="1.0"/>
<rect x="37.8" y="234.1" width="1.2" height="1.2" fill="#f07e6a" opacity="1.0"/>
<rect x="56.8" y="256.0" width="1.2" height="1.2" fill="#c8cc64" opacity="0.85"/>
<rect x="102.0" y="246.9" width="1.2" height="1.2" fill="#f07e6a" opacity="0.7"/>
<rect x="101.4" y="258.0" width="1.2" height="1.2" fill="#7cc46a" opacity="0.85"/>
<rect x="110.7" y="265.0" width="1.2" height="1.2" fill="#c8cc64" opacity="1.0"/>
<rect x="106.7" y="261.4" width="1.2" height="1.2" fill="#c8cc64" opacity="0.7"/>
<rect x="144.7" y="262.4" width="1.2" height="1.2" fill="#c8cc64" opacity="0.85"/>
<rect x="110.6" y="247.9" width="1.2" height="1.2" fill="#c48cc8" opacity="1.0"/>
<rect x="66.8" y="241.2" width="1.2" height="1.2" fill="#c48cc8" opacity="1.0"/>
<rect x="118.2" y="249.7" width="1.2" height="1.2" fill="#7cc46a" opacity="1.0"/>
<rect x="145.2" y="271.2" width="1.2" height="1.2" fill="#c8cc64" opacity="1.0"/>
<rect x="164.3" y="244.9" width="1.2" height="1.2" fill="#7cc46a" opacity="0.7"/>
<rect x="151.9" y="263.6" width="1.2" height="1.2" fill="#c8cc64" opacity="0.7"/>
<rect x="112.1" y="266.3" width="1.2" height="1.2" fill="#c8cc64" opacity="0.7"/>
<rect x="44.0" y="232.7" width="1.2" height="1.2" fill="#f07e6a" opacity="1.0"/>
<rect x="86.3" y="229.2" width="1.2" height="1.2" fill="#f07e6a" opacity="1.0"/>
<rect x="41.0" y="262.9" width="1.2" height="1.2" fill="#7cc46a" opacity="0.7"/>
<rect x="159.8" y="242.4" width="1.2" height="1.2" fill="#f07e6a" opacity="1.0"/>
<rect x="73.8" y="269.0" width="1.2" height="1.2" fill="#c8cc64" opacity="0.7"/>
<rect x="139.9" y="264.4" width="1.2" height="1.2" fill="#c8cc64" opacity="0.85"/>
<rect x="146.5" y="248.3" width="1.2" height="1.2" fill="#7cc46a" opacity="0.85"/>
<rect x="152.2" y="244.0" width="1.2" height="1.2" fill="#c48cc8" opacity="1.0"/>
<rect x="34.4" y="238.9" width="1.2" height="1.2" fill="#f07e6a" opacity="1.0"/>
<rect x="73.8" y="236.8" width="1.2" height="1.2" fill="#f07e6a" opacity="0.7"/>
<rect x="67.1" y="237.4" width="1.2" height="1.2" fill="#f07e6a" opacity="0.7"/>
<rect x="87.0" y="281.3" width="1.2" height="1.2" fill="#c8cc64" opacity="1.0"/>
<rect x="111.3" y="261.9" width="1.2" height="1.2" fill="#c8cc64" opacity="0.85"/>
<rect x="138.3" y="247.6" width="1.2" height="1.2" fill="#c48cc8" opacity="1.0"/>
<rect x="47.2" y="269.5" width="1.2" height="1.2" fill="#c8cc64" opacity="1.0"/>
<rect x="94.0" y="245.0" width="1.2" height="1.2" fill="#f07e6a" opacity="0.7"/>
<rect x="74.8" y="257.6" width="1.2" height="1.2" fill="#7cc46a" opacity="1.0"/>
<rect x="36.3" y="231.9" width="1.2" height="1.2" fill="#f07e6a" opacity="0.7"/>
<rect x="92.3" y="259.5" width="1.2" height="1.2" fill="#7cc46a" opacity="0.85"/>
<rect x="126.1" y="260.4" width="1.2" height="1.2" fill="#c8cc64" opacity="1.0"/>
<rect x="53.8" y="247.5" width="1.2" height="1.2" fill="#c48cc8" opacity="1.0"/>
<rect x="41.5" y="273.9" width="1.2" height="1.2" fill="#c8cc64" opacity="0.7"/>
<rect x="89.0" y="264.2" width="1.2" height="1.2" fill="#c8cc64" opacity="0.7"/>
<rect x="151.0" y="246.5" width="1.2" height="1.2" fill="#7cc46a" opacity="0.7"/>
<rect x="46.5" y="260.8" width="1.2" height="1.2" fill="#7cc46a" opacity="0.7"/>
<rect x="42.3" y="266.8" width="1.2" height="1.2" fill="#7cc46a" opacity="0.85"/>
<rect x="155.9" y="252.4" width="1.2" height="1.2" fill="#c48cc8" opacity="1.0"/>
<rect x="137.6" y="262.6" width="1.2" height="1.2" fill="#c8cc64" opacity="0.7"/>
<rect x="106.0" y="269.7" width="1.2" height="1.2" fill="#c8cc64" opacity="0.7"/>
<rect x="34.6" y="279.3" width="1.2" height="1.2" fill="#c8cc64" opacity="1.0"/>
<rect x="43.9" y="236.2" width="1.2" height="1.2" fill="#f07e6a" opacity="0.85"/>
<rect x="130.8" y="250.5" width="1.2" height="1.2" fill="#7cc46a" opacity="1.0"/>
<rect x="145.2" y="269.0" width="1.2" height="1.2" fill="#c8cc64" opacity="1.0"/>
<rect x="102.2" y="249.6" width="1.2" height="1.2" fill="#c48cc8" opacity="1.0"/>
<rect x="118.6" y="256.2" width="1.2" height="1.2" fill="#7cc46a" opacity="0.7"/>
<rect x="104.0" y="258.3" width="1.2" height="1.2" fill="#c8cc64" opacity="0.85"/>
<rect x="146.0" y="234.9" width="1.2" height="1.2" fill="#f07e6a" opacity="0.85"/>
<rect x="54.2" y="257.1" width="1.2" height="1.2" fill="#7cc46a" opacity="1.0"/>
<rect x="124.7" y="259.4" width="1.2" height="1.2" fill="#7cc46a" opacity="1.0"/>
<rect x="156.0" y="257.8" width="1.2" height="1.2" fill="#c8cc64" opacity="0.7"/>
<rect x="35.5" y="252.6" width="1.2" height="1.2" fill="#c48cc8" opacity="0.7"/>
<rect x="33.1" y="244.3" width="1.2" height="1.2" fill="#c48cc8" opacity="0.7"/>
<rect x="35.8" y="234.6" width="1.2" height="1.2" fill="#f07e6a" opacity="0.7"/>
<rect x="32.7" y="253.3" width="1.2" height="1.2" fill="#c48cc8" opacity="0.85"/>
<rect x="99.6" y="253.1" width="1.2" height="1.2" fill="#c48cc8" opacity="0.7"/>
<rect x="33.5" y="274.7" width="1.2" height="1.2" fill="#c8cc64" opacity="1.0"/>
<rect x="79.2" y="249.0" width="1.2" height="1.2" fill="#7cc46a" opacity="0.7"/>
<rect x="134.7" y="259.4" width="1.2" height="1.2" fill="#7cc46a" opacity="1.0"/>
<rect x="141.4" y="240.2" width="1.2" height="1.2" fill="#f07e6a" opacity="1.0"/>
<rect x="76.3" y="255.9" width="1.2" height="1.2" fill="#7cc46a" opacity="0.85"/>
<rect x="82.3" y="248.8" width="1.2" height="1.2" fill="#c48cc8" opacity="0.7"/>
<rect x="161.0" y="243.6" width="1.2" height="1.2" fill="#7cc46a" opacity="0.7"/>
<rect x="125.6" y="252.1" width="1.2" height="1.2" fill="#c48cc8" opacity="0.7"/>
<rect x="109.3" y="264.9" width="1.2" height="1.2" fill="#c8cc64" opacity="0.7"/>
<rect x="138.3" y="245.3" width="1.2" height="1.2" fill="#c48cc8" opacity="0.7"/>
<rect x="134.4" y="236.6" width="1.2" height="1.2" fill="#f07e6a" opacity="0.7"/>
<rect x="62.6" y="261.7" width="1.2" height="1.2" fill="#7cc46a" opacity="0.7"/>
<rect x="128.9" y="253.8" width="1.2" height="1.2" fill="#7cc46a" opacity="0.7"/>
<rect x="128.6" y="250.4" width="1.2" height="1.2" fill="#7cc46a" opacity="0.7"/>
<rect x="141.6" y="262.6" width="1.2" height="1.2" fill="#c8cc64" opacity="0.7"/>
<rect x="82.2" y="242.5" width="1.2" height="1.2" fill="#f07e6a" opacity="0.7"/>
<rect x="76.3" y="259.0" width="1.2" height="1.2" fill="#7cc46a" opacity="0.85"/>
<rect x="167.2" y="250.8" width="1.2" height="1.2" fill="#c48cc8" opacity="0.7"/>
<rect x="160.5" y="234.9" width="1.2" height="1.2" fill="#f07e6a" opacity="0.85"/>
<rect x="66.8" y="267.1" width="1.2" height="1.2" fill="#7cc46a" opacity="0.7"/>
<rect x="164.1" y="254.2" width="1.2" height="1.2" fill="#c8cc64" opacity="0.7"/>
<rect x="50.8" y="254.5" width="1.2" height="1.2" fill="#7cc46a" opacity="0.7"/>
<rect x="148.5" y="242.8" width="1.2" height="1.2" fill="#f07e6a" opacity="1.0"/>
<rect x="97.7" y="253.4" width="1.2" height="1.2" fill="#c48cc8" opacity="0.85"/>
<rect x="121.8" y="229.1" width="1.2" height="1.2" fill="#f07e6a" opacity="1.0"/>
<rect x="69.1" y="241.4" width="1.2" height="1.2" fill="#f07e6a" opacity="1.0"/>
<rect x="148.1" y="253.6" width="1.2" height="1.2" fill="#c8cc64" opacity="0.7"/>
<rect x="87.4" y="262.2" width="1.2" height="1.2" fill="#7cc46a" opacity="1.0"/>
<rect x="132.8" y="270.9" width="1.2" height="1.2" fill="#c8cc64" opacity="0.7"/>
<rect x="165.1" y="248.0" width="1.2" height="1.2" fill="#c48cc8" opacity="0.85"/>
<rect x="36.9" y="261.5" width="1.2" height="1.2" fill="#c8cc64" opacity="0.85"/>
<rect x="100.7" y="251.9" width="1.2" height="1.2" fill="#c48cc8" opacity="0.85"/>
<rect x="94.1" y="247.7" width="1.2" height="1.2" fill="#7cc46a" opacity="0.7"/>
<rect x="75.8" y="243.7" width="1.2" height="1.2" fill="#f07e6a" opacity="1.0"/>
<rect x="68.5" y="234.9" width="1.2" height="1.2" fill="#f07e6a" opacity="0.85"/>
<rect x="56.3" y="248.6" width="1.2" height="1.2" fill="#c48cc8" opacity="0.85"/>
<rect x="91.5" y="266.9" width="1.2" height="1.2" fill="#c8cc64" opacity="0.7"/>
<rect x="98.6" y="251.5" width="1.2" height="1.2" fill="#c48cc8" opacity="1.0"/>
<rect x="61.5" y="249.7" width="1.2" height="1.2" fill="#c48cc8" opacity="0.85"/>
<rect x="124.6" y="259.1" width="1.2" height="1.2" fill="#7cc46a" opacity="0.85"/>
<rect x="66.1" y="263.6" width="1.2" height="1.2" fill="#7cc46a" opacity="0.85"/>
<rect x="70.8" y="237.4" width="1.2" height="1.2" fill="#f07e6a" opacity="1.0"/>
<rect x="66.3" y="239.6" width="1.2" height="1.2" fill="#f07e6a" opacity="1.0"/>
<rect x="138.7" y="265.0" width="1.2" height="1.2" fill="#c8cc64" opacity="0.7"/>
<rect x="39.7" y="238.5" width="1.2" height="1.2" fill="#f07e6a" opacity="0.7"/>
<rect x="89.9" y="254.1" width="1.2" height="1.2" fill="#c48cc8" opacity="1.0"/>
<rect x="43.8" y="241.4" width="1.2" height="1.2" fill="#f07e6a" opacity="0.7"/>
<rect x="111.2" y="265.8" width="1.2" height="1.2" fill="#c8cc64" opacity="0.85"/>
<rect x="56.3" y="259.7" width="1.2" height="1.2" fill="#7cc46a" opacity="1.0"/>
<rect x="35.0" y="235.2" width="1.2" height="1.2" fill="#f07e6a" opacity="0.7"/>
<rect x="101.7" y="280.8" width="1.2" height="1.2" fill="#c8cc64" opacity="0.85"/>
<rect x="98.5" y="242.8" width="1.2" height="1.2" fill="#f07e6a" opacity="1.0"/>
<rect x="123.0" y="261.2" width="1.2" height="1.2" fill="#c8cc64" opacity="0.85"/>
<rect x="92.3" y="258.4" width="1.2" height="1.2" fill="#7cc46a" opacity="1.0"/>
<rect x="71.6" y="255.5" width="1.2" height="1.2" fill="#7cc46a" opacity="0.7"/>
<rect x="83.0" y="248.8" width="1.2" height="1.2" fill="#c48cc8" opacity="0.85"/>
<rect x="62.4" y="237.7" width="1.2" height="1.2" fill="#f07e6a" opacity="0.85"/>
<rect x="127.0" y="249.7" width="1.2" height="1.2" fill="#7cc46a" opacity="0.7"/>
<rect x="164.8" y="252.0" width="1.2" height="1.2" fill="#c48cc8" opacity="0.7"/>
<rect x="154.3" y="247.2" width="1.2" height="1.2" fill="#c48cc8" opacity="1.0"/>
<rect x="49.3" y="240.1" width="1.2" height="1.2" fill="#f07e6a" opacity="0.7"/>
<rect x="153.2" y="237.7" width="1.2" height="1.2" fill="#f07e6a" opacity="0.85"/>
<rect x="32.5" y="230.1" width="1.2" height="1.2" fill="#f07e6a" opacity="1.0"/>
<rect x="151.1" y="263.6" width="1.2" height="1.2" fill="#c8cc64" opacity="0.7"/>
<rect x="150.0" y="256.1" width="1.2" height="1.2" fill="#c8cc64" opacity="1.0"/>
<rect x="55.4" y="249.3" width="1.2" height="1.2" fill="#c48cc8" opacity="1.0"/>
<rect x="164.6" y="253.9" width="1.2" height="1.2" fill="#c8cc64" opacity="1.0"/>
<rect x="65.5" y="247.6" width="1.2" height="1.2" fill="#c48cc8" opacity="0.85"/>
<rect x="75.9" y="267.2" width="1.2" height="1.2" fill="#c8cc64" opacity="0.7"/>
<rect x="143.9" y="242.4" width="1.2" height="1.2" fill="#f07e6a" opacity="0.85"/>
<rect x="54.8" y="250.4" width="1.2" height="1.2" fill="#c48cc8" opacity="0.85"/>
<rect x="103.5" y="246.0" width="1.2" height="1.2" fill="#c48cc8" opacity="0.85"/>
<rect x="123.6" y="250.5" width="1.2" height="1.2" fill="#7cc46a" opacity="0.85"/>
<rect x="166.1" y="242.4" width="1.2" height="1.2" fill="#c48cc8" opacity="0.7"/>
<rect x="78.9" y="273.7" width="1.2" height="1.2" fill="#c8cc64" opacity="0.7"/>
<rect x="47.5" y="266.4" width="1.2" height="1.2" fill="#7cc46a" opacity="1.0"/>
<rect x="148.8" y="243.9" width="1.2" height="1.2" fill="#f07e6a" opacity="0.85"/>
<rect x="81.2" y="254.2" width="1.2" height="1.2" fill="#7cc46a" opacity="0.85"/>
<rect x="54.5" y="268.5" width="1.2" height="1.2" fill="#c8cc64" opacity="0.85"/>
<rect x="40.6" y="261.4" width="1.2" height="1.2" fill="#7cc46a" opacity="1.0"/>
<rect x="102.8" y="260.4" width="1.2" height="1.2" fill="#c8cc64" opacity="0.85"/>
<rect x="144.9" y="236.9" width="1.2" height="1.2" fill="#f07e6a" opacity="1.0"/>
<rect x="104.8" y="241.9" width="1.2" height="1.2" fill="#c48cc8" opacity="1.0"/>
<rect x="97.8" y="226.7" width="1.2" height="1.2" fill="#f07e6a" opacity="0.85"/>
<rect x="129.0" y="266.2" width="1.2" height="1.2" fill="#c8cc64" opacity="0.7"/>
<rect x="143.2" y="258.4" width="1.2" height="1.2" fill="#c8cc64" opacity="1.0"/>
<rect x="115.3" y="249.7" width="1.2" height="1.2" fill="#c48cc8" opacity="1.0"/>
<rect x="96.7" y="237.9" width="1.2" height="1.2" fill="#f07e6a" opacity="0.7"/>
<rect x="95.4" y="255.0" width="1.2" height="1.2" fill="#c8cc64" opacity="0.85"/>
<rect x="123.4" y="253.6" width="1.2" height="1.2" fill="#7cc46a" opacity="0.7"/>
<rect x="99.8" y="258.0" width="1.2" height="1.2" fill="#7cc46a" opacity="1.0"/>
<rect x="71.4" y="260.2" width="1.2" height="1.2" fill="#7cc46a" opacity="0.85"/>
<rect x="70.7" y="253.4" width="1.2" height="1.2" fill="#c48cc8" opacity="1.0"/>
<rect x="147.5" y="252.4" width="1.2" height="1.2" fill="#7cc46a" opacity="1.0"/>
<rect x="116.4" y="248.9" width="1.2" height="1.2" fill="#c48cc8" opacity="1.0"/>
<rect x="60.0" y="253.1" width="1.2" height="1.2" fill="#c48cc8" opacity="0.7"/>
<rect x="41.7" y="256.4" width="1.2" height="1.2" fill="#c48cc8" opacity="0.85"/>
<rect x="86.1" y="243.4" width="1.2" height="1.2" fill="#f07e6a" opacity="1.0"/>
<rect x="110.1" y="240.1" width="1.2" height="1.2" fill="#f07e6a" opacity="1.0"/>
<rect x="62.9" y="256.3" width="1.2" height="1.2" fill="#c8cc64" opacity="0.85"/>
<rect x="103.0" y="230.6" width="1.2" height="1.2" fill="#f07e6a" opacity="0.7"/>
<rect x="102.2" y="236.0" width="1.2" height="1.2" fill="#f07e6a" opacity="1.0"/>
<rect x="39.1" y="247.0" width="1.2" height="1.2" fill="#c48cc8" opacity="0.85"/>
<rect x="93.0" y="259.1" width="1.2" height="1.2" fill="#7cc46a" opacity="0.85"/>
<rect x="129.5" y="241.4" width="1.2" height="1.2" fill="#f07e6a" opacity="1.0"/>
<rect x="33.2" y="273.7" width="1.2" height="1.2" fill="#c8cc64" opacity="0.7"/>
<rect x="40.2" y="270.7" width="1.2" height="1.2" fill="#c8cc64" opacity="0.7"/>
<rect x="76.0" y="261.4" width="1.2" height="1.2" fill="#7cc46a" opacity="0.85"/>
<rect x="156.1" y="253.0" width="1.2" height="1.2" fill="#c8cc64" opacity="0.85"/>
<rect x="79.3" y="263.3" width="1.2" height="1.2" fill="#c8cc64" opacity="0.7"/>
<rect x="69.7" y="255.7" width="1.2" height="1.2" fill="#c48cc8" opacity="0.85"/>
<rect x="160.1" y="249.2" width="1.2" height="1.2" fill="#c48cc8" opacity="1.0"/>
<rect x="84.0" y="248.1" width="1.2" height="1.2" fill="#7cc46a" opacity="0.7"/>
<rect x="112.2" y="249.5" width="1.2" height="1.2" fill="#c48cc8" opacity="0.7"/>
<rect x="87.7" y="252.2" width="1.2" height="1.2" fill="#c48cc8" opacity="0.7"/>
<rect x="111.4" y="278.8" width="1.2" height="1.2" fill="#c8cc64" opacity="0.7"/>
<rect x="43.5" y="241.6" width="1.2" height="1.2" fill="#f07e6a" opacity="0.85"/>
<rect x="121.7" y="249.0" width="1.2" height="1.2" fill="#c48cc8" opacity="0.85"/>
<rect x="124.1" y="245.8" width="1.2" height="1.2" fill="#c48cc8" opacity="0.7"/>
<rect x="76.6" y="235.4" width="1.2" height="1.2" fill="#f07e6a" opacity="0.7"/>
<rect x="39.8" y="243.7" width="1.2" height="1.2" fill="#f07e6a" opacity="1.0"/>
<rect x="105.7" y="254.3" width="1.2" height="1.2" fill="#7cc46a" opacity="0.85"/>
<rect x="139.7" y="246.6" width="1.2" height="1.2" fill="#c48cc8" opacity="1.0"/>
<rect x="91.5" y="243.3" width="1.2" height="1.2" fill="#f07e6a" opacity="0.7"/>
<rect x="46.0" y="257.0" width="1.2" height="1.2" fill="#7cc46a" opacity="1.0"/>
<rect x="68.8" y="265.4" width="1.2" height="1.2" fill="#7cc46a" opacity="1.0"/>
<rect x="110.7" y="260.0" width="1.2" height="1.2" fill="#c8cc64" opacity="1.0"/>
<rect x="120.5" y="245.7" width="1.2" height="1.2" fill="#f07e6a" opacity="0.85"/>
<rect x="57.3" y="253.9" width="1.2" height="1.2" fill="#c48cc8" opacity="1.0"/>
<rect x="65.5" y="264.7" width="1.2" height="1.2" fill="#c8cc64" opacity="0.7"/>
<rect x="167.6" y="249.3" width="1.2" height="1.2" fill="#c48cc8" opacity="1.0"/>
<rect x="66.4" y="256.9" width="1.2" height="1.2" fill="#7cc46a" opacity="0.85"/>
<rect x="130.4" y="233.9" width="1.2" height="1.2" fill="#f07e6a" opacity="0.7"/>
<rect x="154.5" y="240.5" width="1.2" height="1.2" fill="#f07e6a" opacity="0.7"/>
<rect x="145.4" y="249.1" width="1.2" height="1.2" fill="#7cc46a" opacity="1.0"/>
<rect x="69.3" y="242.6" width="1.2" height="1.2" fill="#f07e6a" opacity="0.7"/>
<rect x="61.1" y="259.6" width="1.2" height="1.2" fill="#c8cc64" opacity="0.85"/>
<rect x="67.1" y="263.0" width="1.2" height="1.2" fill="#7cc46a" opacity="0.85"/>
<rect x="123.7" y="261.8" width="1.2" height="1.2" fill="#c8cc64" opacity="0.7"/>
<rect x="70.0" y="263.8" width="1.2" height="1.2" fill="#7cc46a" opacity="0.7"/>
<rect x="38.2" y="241.3" width="1.2" height="1.2" fill="#f07e6a" opacity="0.7"/>
<rect x="152.5" y="250.3" width="1.2" height="1.2" fill="#c48cc8" opacity="0.7"/>
<rect x="143.3" y="245.8" width="1.2" height="1.2" fill="#7cc46a" opacity="1.0"/>
<rect x="164.4" y="245.7" width="1.2" height="1.2" fill="#7cc46a" opacity="0.85"/>
<rect x="83.8" y="258.6" width="1.2" height="1.2" fill="#7cc46a" opacity="0.7"/>
<rect x="114.2" y="273.1" width="1.2" height="1.2" fill="#c8cc64" opacity="1.0"/>
<rect x="34.6" y="272.8" width="1.2" height="1.2" fill="#c8cc64" opacity="0.7"/>
<rect x="153.6" y="251.5" width="1.2" height="1.2" fill="#c8cc64" opacity="1.0"/>
<rect x="153.9" y="263.9" width="1.2" height="1.2" fill="#c8cc64" opacity="0.85"/>
<rect x="143.6" y="253.7" width="1.2" height="1.2" fill="#7cc46a" opacity="0.7"/>
<rect x="37.7" y="282.3" width="1.2" height="1.2" fill="#c8cc64" opacity="1.0"/>
<rect x="159.4" y="241.3" width="1.2" height="1.2" fill="#f07e6a" opacity="0.85"/>
<rect x="124.6" y="250.6" width="1.2" height="1.2" fill="#7cc46a" opacity="1.0"/>
<rect x="59.4" y="262.1" width="1.2" height="1.2" fill="#7cc46a" opacity="0.85"/>
<rect x="147.5" y="259.5" width="1.2" height="1.2" fill="#c8cc64" opacity="1.0"/>
<rect x="118.9" y="244.5" width="1.2" height="1.2" fill="#f07e6a" opacity="0.85"/>
<rect x="63.8" y="241.4" width="1.2" height="1.2" fill="#c48cc8" opacity="0.85"/>
<rect x="140.3" y="246.4" width="1.2" height="1.2" fill="#c48cc8" opacity="1.0"/>
<rect x="38.4" y="273.2" width="1.2" height="1.2" fill="#c8cc64" opacity="1.0"/>
<rect x="141.6" y="251.7" width="1.2" height="1.2" fill="#c8cc64" opacity="1.0"/>
<rect x="141.2" y="245.2" width="1.2" height="1.2" fill="#c48cc8" opacity="0.85"/>
<rect x="75.5" y="239.4" width="1.2" height="1.2" fill="#f07e6a" opacity="1.0"/>
<rect x="41.8" y="267.2" width="1.2" height="1.2" fill="#7cc46a" opacity="0.85"/>
<rect x="90.3" y="245.3" width="1.2" height="1.2" fill="#f07e6a" opacity="0.7"/>
<rect x="100.0" y="263.6" width="1.2" height="1.2" fill="#c8cc64" opacity="0.85"/>
<rect x="64.9" y="252.1" width="1.2" height="1.2" fill="#c48cc8" opacity="0.7"/>
<rect x="58.9" y="242.3" width="1.2" height="1.2" fill="#f07e6a" opacity="0.7"/>
<rect x="118.3" y="241.1" width="1.2" height="1.2" fill="#7cc46a" opacity="1.0"/>
<rect x="90.1" y="249.3" width="1.2" height="1.2" fill="#c48cc8" opacity="0.7"/>
<rect x="80.0" y="255.5" width="1.2" height="1.2" fill="#c8cc64" opacity="0.7"/>
<rect x="60.6" y="254.5" width="1.2" height="1.2" fill="#c48cc8" opacity="0.85"/>
<rect x="138.3" y="260.9" width="1.2" height="1.2" fill="#c8cc64" opacity="0.85"/>
<rect x="51.1" y="263.1" width="1.2" height="1.2" fill="#7cc46a" opacity="1.0"/>
<rect x="47.1" y="251.8" width="1.2" height="1.2" fill="#c48cc8" opacity="0.7"/>
<rect x="82.0" y="241.6" width="1.2" height="1.2" fill="#f07e6a" opacity="0.85"/>
<rect x="35.9" y="259.7" width="1.2" height="1.2" fill="#7cc46a" opacity="0.85"/>
<rect x="64.8" y="275.5" width="1.2" height="1.2" fill="#c8cc64" opacity="0.85"/>
<rect x="103.4" y="252.2" width="1.2" height="1.2" fill="#c48cc8" opacity="0.7"/>
<rect x="135.9" y="241.7" width="1.2" height="1.2" fill="#f07e6a" opacity="1.0"/>
<rect x="44.5" y="273.6" width="1.2" height="1.2" fill="#c8cc64" opacity="1.0"/>
<rect x="85.9" y="261.5" width="1.2" height="1.2" fill="#c8cc64" opacity="0.85"/>
<rect x="119.1" y="249.8" width="1.2" height="1.2" fill="#7cc46a" opacity="0.85"/>
<rect x="141.4" y="253.0" width="1.2" height="1.2" fill="#c8cc64" opacity="0.7"/>
<rect x="79.7" y="241.5" width="1.2" height="1.2" fill="#f07e6a" opacity="1.0"/>
<rect x="129.3" y="242.7" width="1.2" height="1.2" fill="#c48cc8" opacity="0.85"/>
<rect x="40.7" y="261.0" width="1.2" height="1.2" fill="#7cc46a" opacity="0.85"/>
<rect x="60.5" y="251.4" width="1.2" height="1.2" fill="#7cc46a" opacity="1.0"/>
<rect x="99.0" y="238.3" width="1.2" height="1.2" fill="#f07e6a" opacity="0.7"/>
<rect x="51.3" y="262.8" width="1.2" height="1.2" fill="#7cc46a" opacity="1.0"/>
<rect x="141.0" y="233.3" width="1.2" height="1.2" fill="#f07e6a" opacity="0.85"/>
<rect x="142.3" y="233.3" width="1.2" height="1.2" fill="#f07e6a" opacity="1.0"/>
<rect x="105.7" y="233.3" width="1.2" height="1.2" fill="#f07e6a" opacity="1.0"/>
<rect x="77.6" y="255.2" width="1.2" height="1.2" fill="#7cc46a" opacity="1.0"/>
<rect x="156.9" y="239.0" width="1.2" height="1.2" fill="#f07e6a" opacity="0.7"/>
<rect x="149.0" y="247.3" width="1.2" height="1.2" fill="#c48cc8" opacity="0.7"/>
<rect x="120.7" y="264.7" width="1.2" height="1.2" fill="#c8cc64" opacity="0.85"/>
<rect x="85.5" y="245.2" width="1.2" height="1.2" fill="#f07e6a" opacity="0.85"/>
<rect x="86.7" y="245.8" width="1.2" height="1.2" fill="#c48cc8" opacity="1.0"/>
<rect x="123.3" y="246.3" width="1.2" height="1.2" fill="#c48cc8" opacity="0.85"/>
<rect x="83.8" y="268.0" width="1.2" height="1.2" fill="#c8cc64" opacity="0.7"/>
<rect x="47.3" y="233.5" width="1.2" height="1.2" fill="#f07e6a" opacity="0.7"/>
<rect x="139.2" y="249.9" width="1.2" height="1.2" fill="#c48cc8" opacity="1.0"/>
<rect x="63.3" y="270.7" width="1.2" height="1.2" fill="#c8cc64" opacity="1.0"/>
<rect x="130.8" y="259.9" width="1.2" height="1.2" fill="#7cc46a" opacity="1.0"/>
<rect x="167.9" y="248.2" width="1.2" height="1.2" fill="#7cc46a" opacity="1.0"/>
<rect x="143.9" y="251.9" width="1.2" height="1.2" fill="#c48cc8" opacity="0.7"/>
<rect x="53.7" y="258.9" width="1.2" height="1.2" fill="#7cc46a" opacity="1.0"/>
<rect x="92.8" y="253.4" width="1.2" height="1.2" fill="#7cc46a" opacity="0.7"/>
<rect x="116.7" y="237.2" width="1.2" height="1.2" fill="#f07e6a" opacity="0.85"/>
<rect x="120.5" y="257.2" width="1.2" height="1.2" fill="#c8cc64" opacity="1.0"/>
<rect x="71.9" y="234.7" width="1.2" height="1.2" fill="#f07e6a" opacity="1.0"/>
<rect x="38.1" y="242.7" width="1.2" height="1.2" fill="#c48cc8" opacity="0.7"/>
<rect x="131.4" y="264.8" width="1.2" height="1.2" fill="#c8cc64" opacity="0.7"/>
<rect x="62.8" y="258.0" width="1.2" height="1.2" fill="#7cc46a" opacity="0.7"/>
<rect x="98.6" y="274.5" width="1.2" height="1.2" fill="#c8cc64" opacity="1.0"/>
<rect x="125.6" y="248.5" width="1.2" height="1.2" fill="#c48cc8" opacity="1.0"/>
<rect x="104.0" y="257.2" width="1.2" height="1.2" fill="#7cc46a" opacity="0.85"/>
<rect x="40.7" y="266.5" width="1.2" height="1.2" fill="#7cc46a" opacity="1.0"/>
<rect x="111.5" y="259.4" width="1.2" height="1.2" fill="#7cc46a" opacity="0.7"/>
<rect x="139.8" y="231.3" width="1.2" height="1.2" fill="#f07e6a" opacity="0.85"/>
<rect x="158.8" y="252.0" width="1.2" height="1.2" fill="#7cc46a" opacity="0.7"/>
<rect x="153.8" y="255.9" width="1.2" height="1.2" fill="#7cc46a" opacity="0.85"/>
<rect x="77.1" y="235.4" width="1.2" height="1.2" fill="#f07e6a" opacity="0.85"/>
<rect x="60.8" y="263.5" width="1.2" height="1.2" fill="#7cc46a" opacity="0.7"/>
<rect x="80.9" y="266.9" width="1.2" height="1.2" fill="#7cc46a" opacity="0.7"/>
<rect x="114.9" y="250.8" width="1.2" height="1.2" fill="#7cc46a" opacity="0.85"/>
<rect x="89.9" y="247.2" width="1.2" height="1.2" fill="#c48cc8" opacity="1.0"/>
<rect x="87.1" y="261.0" width="1.2" height="1.2" fill="#c8cc64" opacity="0.7"/>
<rect x="50.7" y="270.5" width="1.2" height="1.2" fill="#c8cc64" opacity="0.7"/>
<rect x="84.3" y="248.2" width="1.2" height="1.2" fill="#7cc46a" opacity="0.85"/>
<rect x="114.6" y="236.1" width="1.2" height="1.2" fill="#f07e6a" opacity="1.0"/>
<rect x="50.4" y="258.5" width="1.2" height="1.2" fill="#7cc46a" opacity="0.85"/>
<rect x="65.8" y="262.7" width="1.2" height="1.2" fill="#7cc46a" opacity="1.0"/>
<rect x="81.8" y="255.1" width="1.2" height="1.2" fill="#7cc46a" opacity="0.85"/>
<rect x="101.7" y="242.8" width="1.2" height="1.2" fill="#f07e6a" opacity="0.7"/>
<rect x="125.2" y="258.6" width="1.2" height="1.2" fill="#c8cc64" opacity="1.0"/>
<rect x="118.7" y="249.3" width="1.2" height="1.2" fill="#c48cc8" opacity="1.0"/>
<rect x="73.3" y="239.5" width="1.2" height="1.2" fill="#f07e6a" opacity="0.7"/>
<rect x="63.0" y="248.4" width="1.2" height="1.2" fill="#c48cc8" opacity="1.0"/>
<rect x="73.8" y="260.2" width="1.2" height="1.2" fill="#7cc46a" opacity="0.7"/>
<rect x="106.2" y="251.2" width="1.2" height="1.2" fill="#7cc46a" opacity="0.7"/>
<rect x="153.4" y="232.1" width="1.2" height="1.2" fill="#f07e6a" opacity="0.7"/>
<rect x="167.7" y="230.4" width="1.2" height="1.2" fill="#f07e6a" opacity="0.7"/>
<rect x="89.2" y="255.4" width="1.2" height="1.2" fill="#7cc46a" opacity="1.0"/>
<rect x="136.8" y="238.5" width="1.2" height="1.2" fill="#f07e6a" opacity="0.7"/>
<rect x="120.0" y="237.8" width="1.2" height="1.2" fill="#f07e6a" opacity="0.7"/>
<rect x="41.2" y="252.5" width="1.2" height="1.2" fill="#c48cc8" opacity="0.85"/>
<rect x="160.3" y="235.2" width="1.2" height="1.2" fill="#f07e6a" opacity="0.85"/>
<rect x="95.9" y="239.2" width="1.2" height="1.2" fill="#f07e6a" opacity="1.0"/>
<rect x="69.8" y="266.9" width="1.2" height="1.2" fill="#c8cc64" opacity="0.85"/>
<rect x="59.8" y="266.8" width="1.2" height="1.2" fill="#c8cc64" opacity="1.0"/>
<rect x="59.6" y="224.2" width="1.2" height="1.2" fill="#f07e6a" opacity="0.7"/>
<rect x="149.8" y="250.4" width="1.2" height="1.2" fill="#c48cc8" opacity="0.7"/>
<rect x="142.9" y="252.4" width="1.2" height="1.2" fill="#c48cc8" opacity="0.85"/>
<rect x="164.1" y="246.2" width="1.2" height="1.2" fill="#7cc46a" opacity="0.7"/>
<rect x="99.1" y="261.0" width="1.2" height="1.2" fill="#7cc46a" opacity="0.7"/>
<rect x="57.3" y="284.2" width="1.2" height="1.2" fill="#c8cc64" opacity="0.85"/>
<rect x="96.3" y="253.8" width="1.2" height="1.2" fill="#c48cc8" opacity="1.0"/>
<rect x="96.4" y="248.0" width="1.2" height="1.2" fill="#c48cc8" opacity="1.0"/>
<rect x="47.2" y="275.5" width="1.2" height="1.2" fill="#c8cc64" opacity="1.0"/>
<rect x="57.2" y="247.1" width="1.2" height="1.2" fill="#c48cc8" opacity="0.7"/>
<rect x="53.5" y="241.4" width="1.2" height="1.2" fill="#c48cc8" opacity="0.7"/>
<rect x="150.5" y="264.1" width="1.2" height="1.2" fill="#c8cc64" opacity="0.85"/>
<rect x="60.3" y="240.6" width="1.2" height="1.2" fill="#f07e6a" opacity="1.0"/>
<rect x="70.4" y="237.7" width="1.2" height="1.2" fill="#f07e6a" opacity="0.85"/>
<rect x="46.8" y="265.5" width="1.2" height="1.2" fill="#7cc46a" opacity="0.85"/>
<rect x="122.8" y="238.5" width="1.2" height="1.2" fill="#f07e6a" opacity="0.7"/>
<rect x="40.3" y="253.0" width="1.2" height="1.2" fill="#c48cc8" opacity="0.7"/>
<rect x="109.1" y="274.8" width="1.2" height="1.2" fill="#c8cc64" opacity="0.7"/>
<rect x="144.4" y="258.2" width="1.2" height="1.2" fill="#c8cc64" opacity="0.85"/>
<rect x="154.3" y="243.8" width="1.2" height="1.2" fill="#7cc46a" opacity="1.0"/>
<rect x="44.2" y="240.9" width="1.2" height="1.2" fill="#f07e6a" opacity="0.85"/>
<rect x="38.4" y="258.6" width="1.2" height="1.2" fill="#7cc46a" opacity="0.85"/>
<rect x="123.6" y="243.4" width="1.2" height="1.2" fill="#7cc46a" opacity="0.7"/>
<rect x="147.0" y="246.8" width="1.2" height="1.2" fill="#7cc46a" opacity="0.85"/>
<rect x="65.7" y="238.4" width="1.2" height="1.2" fill="#f07e6a" opacity="0.7"/>
<rect x="38.5" y="244.9" width="1.2" height="1.2" fill="#c48cc8" opacity="0.7"/>
<rect x="158.9" y="259.9" width="1.2" height="1.2" fill="#c8cc64" opacity="1.0"/>
<rect x="38.7" y="286.3" width="1.2" height="1.2" fill="#c8cc64" opacity="0.7"/>
<rect x="80.8" y="251.9" width="1.2" height="1.2" fill="#c48cc8" opacity="0.85"/>
<rect x="144.0" y="242.2" width="1.2" height="1.2" fill="#c48cc8" opacity="0.85"/>
<rect x="82.3" y="246.2" width="1.2" height="1.2" fill="#c48cc8" opacity="0.85"/>
<rect x="152.6" y="234.5" width="1.2" height="1.2" fill="#f07e6a" opacity="0.85"/>
<rect x="142.7" y="264.1" width="1.2" height="1.2" fill="#c8cc64" opacity="0.85"/>
<rect x="106.5" y="243.4" width="1.2" height="1.2" fill="#f07e6a" opacity="0.7"/>
<rect x="137.8" y="257.0" width="1.2" height="1.2" fill="#c8cc64" opacity="0.7"/>
<rect x="73.9" y="263.2" width="1.2" height="1.2" fill="#c8cc64" opacity="0.85"/>
<rect x="142.1" y="251.3" width="1.2" height="1.2" fill="#c48cc8" opacity="0.85"/>
<rect x="55.8" y="260.8" width="1.2" height="1.2" fill="#7cc46a" opacity="0.7"/>
<rect x="106.2" y="231.6" width="1.2" height="1.2" fill="#f07e6a" opacity="1.0"/>
<rect x="168.1" y="251.9" width="1.2" height="1.2" fill="#c8cc64" opacity="1.0"/>
<rect x="119.8" y="251.6" width="1.2" height="1.2" fill="#c48cc8" opacity="1.0"/>
<rect x="51.8" y="239.1" width="1.2" height="1.2" fill="#f07e6a" opacity="0.85"/>
<rect x="62.1" y="246.8" width="1.2" height="1.2" fill="#c48cc8" opacity="0.7"/>
<rect x="137.3" y="248.0" width="1.2" height="1.2" fill="#7cc46a" opacity="0.85"/>
<rect x="130.0" y="237.4" width="1.2" height="1.2" fill="#f07e6a" opacity="1.0"/>
<rect x="146.2" y="229.4" width="1.2" height="1.2" fill="#f07e6a" opacity="1.0"/>
<rect x="60.3" y="250.2" width="1.2" height="1.2" fill="#7cc46a" opacity="0.7"/>
<rect x="118.5" y="246.8" width="1.2" height="1.2" fill="#c48cc8" opacity="1.0"/>
<rect x="147.5" y="228.4" width="1.2" height="1.2" fill="#f07e6a" opacity="0.85"/>
<rect x="166.4" y="251.5" width="1.2" height="1.2" fill="#c48cc8" opacity="0.7"/>
<rect x="43.4" y="251.9" width="1.2" height="1.2" fill="#c48cc8" opacity="1.0"/>
<rect x="37.0" y="253.2" width="1.2" height="1.2" fill="#c48cc8" opacity="0.7"/>
<rect x="71.1" y="246.2" width="1.2" height="1.2" fill="#c48cc8" opacity="0.7"/>
<rect x="130.0" y="247.1" width="1.2" height="1.2" fill="#7cc46a" opacity="0.7"/>
<rect x="158.3" y="251.9" width="1.2" height="1.2" fill="#7cc46a" opacity="0.7"/>
<rect x="61.4" y="249.3" width="1.2" height="1.2" fill="#c48cc8" opacity="0.7"/>
<rect x="147.1" y="256.7" width="1.2" height="1.2" fill="#c8cc64" opacity="0.85"/>
<rect x="80.6" y="264.9" width="1.2" height="1.2" fill="#c8cc64" opacity="1.0"/>
<rect x="112.8" y="253.4" width="1.2" height="1.2" fill="#c8cc64" opacity="1.0"/>
<rect x="130.8" y="246.3" width="1.2" height="1.2" fill="#7cc46a" opacity="0.85"/>
<rect x="54.1" y="243.7" width="1.2" height="1.2" fill="#f07e6a" opacity="0.7"/>
<rect x="113.0" y="265.8" width="1.2" height="1.2" fill="#c8cc64" opacity="0.85"/>
<rect x="51.8" y="256.0" width="1.2" height="1.2" fill="#7cc46a" opacity="0.7"/>
<rect x="78.5" y="244.0" width="1.2" height="1.2" fill="#f07e6a" opacity="0.85"/>
<rect x="94.1" y="259.0" width="1.2" height="1.2" fill="#c8cc64" opacity="0.85"/>
<rect x="143.2" y="257.3" width="1.2" height="1.2" fill="#c8cc64" opacity="0.85"/>
<rect x="145.5" y="260.1" width="1.2" height="1.2" fill="#7cc46a" opacity="0.7"/>
<rect x="84.2" y="238.1" width="1.2" height="1.2" fill="#f07e6a" opacity="0.85"/>
<rect x="65.1" y="254.3" width="1.2" height="1.2" fill="#7cc46a" opacity="0.7"/>
<rect x="86.4" y="236.9" width="1.2" height="1.2" fill="#f07e6a" opacity="0.7"/>
<rect x="79.4" y="252.5" width="1.2" height="1.2" fill="#c48cc8" opacity="0.7"/>
<rect x="163.8" y="256.0" width="1.2" height="1.2" fill="#7cc46a" opacity="1.0"/>
<rect x="44.1" y="231.6" width="1.2" height="1.2" fill="#f07e6a" opacity="0.7"/>
<rect x="74.4" y="235.1" width="1.2" height="1.2" fill="#f07e6a" opacity="0.7"/>
<rect x="41.0" y="240.7" width="1.2" height="1.2" fill="#f07e6a" opacity="0.7"/>
<rect x="151.5" y="254.0" width="1.2" height="1.2" fill="#c8cc64" opacity="0.85"/>
<rect x="121.7" y="241.0" width="1.2" height="1.2" fill="#f07e6a" opacity="0.7"/>
<rect x="104.0" y="274.6" width="1.2" height="1.2" fill="#c8cc64" opacity="0.7"/>
<rect x="46.0" y="238.7" width="1.2" height="1.2" fill="#f07e6a" opacity="1.0"/>
<rect x="141.7" y="263.7" width="1.2" height="1.2" fill="#c8cc64" opacity="1.0"/>
<rect x="78.3" y="248.6" width="1.2" height="1.2" fill="#c48cc8" opacity="0.85"/>
<rect x="161.0" y="266.2" width="1.2" height="1.2" fill="#c8cc64" opacity="1.0"/>
<rect x="127.8" y="250.5" width="1.2" height="1.2" fill="#c48cc8" opacity="0.7"/>
<rect x="128.3" y="262.7" width="1.2" height="1.2" fill="#c8cc64" opacity="0.7"/>
<rect x="129.0" y="239.9" width="1.2" height="1.2" fill="#f07e6a" opacity="0.7"/>
<rect x="84.6" y="270.8" width="1.2" height="1.2" fill="#c8cc64" opacity="0.7"/>
<rect x="126.7" y="249.5" width="1.2" height="1.2" fill="#7cc46a" opacity="0.85"/>
<rect x="74.9" y="239.0" width="1.2" height="1.2" fill="#f07e6a" opacity="0.7"/>
<rect x="118.7" y="247.2" width="1.2" height="1.2" fill="#c48cc8" opacity="1.0"/>
<rect x="45.4" y="266.2" width="1.2" height="1.2" fill="#7cc46a" opacity="0.85"/>
<rect x="80.9" y="238.7" width="1.2" height="1.2" fill="#f07e6a" opacity="0.85"/>
<rect x="77.5" y="247.5" width="1.2" height="1.2" fill="#c48cc8" opacity="1.0"/>
<rect x="85.3" y="247.5" width="1.2" height="1.2" fill="#f07e6a" opacity="0.7"/>
<rect x="40.7" y="267.0" width="1.2" height="1.2" fill="#c8cc64" opacity="0.85"/>
<rect x="68.9" y="249.1" width="1.2" height="1.2" fill="#c48cc8" opacity="1.0"/>
<rect x="44.4" y="249.9" width="1.2" height="1.2" fill="#c48cc8" opacity="1.0"/>
<rect x="69.3" y="264.7" width="1.2" height="1.2" fill="#c8cc64" opacity="0.7"/>
<rect x="98.5" y="233.6" width="1.2" height="1.2" fill="#f07e6a" opacity="1.0"/>
<rect x="100.3" y="241.2" width="1.2" height="1.2" fill="#c48cc8" opacity="0.7"/>
<rect x="58.6" y="244.7" width="1.2" height="1.2" fill="#c48cc8" opacity="0.85"/>
<rect x="135.8" y="252.7" width="1.2" height="1.2" fill="#7cc46a" opacity="0.7"/>
<rect x="119.3" y="247.4" width="1.2" height="1.2" fill="#7cc46a" opacity="0.7"/>
<rect x="134.9" y="246.7" width="1.2" height="1.2" fill="#c48cc8" opacity="0.85"/>
<rect x="118.3" y="236.4" width="1.2" height="1.2" fill="#f07e6a" opacity="1.0"/>
<rect x="142.6" y="263.0" width="1.2" height="1.2" fill="#c8cc64" opacity="0.7"/>
<rect x="158.5" y="237.4" width="1.2" height="1.2" fill="#f07e6a" opacity="1.0"/>
<rect x="33.5" y="264.5" width="1.2" height="1.2" fill="#7cc46a" opacity="0.85"/>
<rect x="167.7" y="234.1" width="1.2" height="1.2" fill="#f07e6a" opacity="0.85"/>
<rect x="108.7" y="250.0" width="1.2" height="1.2" fill="#7cc46a" opacity="0.85"/>
<rect x="155.5" y="250.4" width="1.2" height="1.2" fill="#c48cc8" opacity="0.7"/>
<rect x="61.5" y="232.3" width="1.2" height="1.2" fill="#f07e6a" opacity="1.0"/>
<rect x="82.7" y="254.4" width="1.2" height="1.2" fill="#c48cc8" opacity="0.7"/>
<rect x="48.1" y="257.0" width="1.2" height="1.2" fill="#7cc46a" opacity="1.0"/>
<rect x="94.1" y="275.9" width="1.2" height="1.2" fill="#c8cc64" opacity="0.85"/>
<rect x="107.8" y="265.6" width="1.2" height="1.2" fill="#c8cc64" opacity="0.7"/>
<rect x="162.7" y="235.2" width="1.2" height="1.2" fill="#f07e6a" opacity="1.0"/>
<rect x="58.8" y="253.5" width="1.2" height="1.2" fill="#c48cc8" opacity="0.7"/>
<rect x="145.6" y="248.5" width="1.2" height="1.2" fill="#7cc46a" opacity="0.85"/>
<rect x="78.0" y="257.8" width="1.2" height="1.2" fill="#7cc46a" opacity="0.7"/>
<rect x="37.4" y="281.9" width="1.2" height="1.2" fill="#c8cc64" opacity="0.85"/>
<rect x="107.4" y="269.6" width="1.2" height="1.2" fill="#c8cc64" opacity="1.0"/>
<rect x="126.4" y="252.1" width="1.2" height="1.2" fill="#7cc46a" opacity="0.7"/>
<rect x="142.3" y="255.4" width="1.2" height="1.2" fill="#7cc46a" opacity="0.85"/>
<rect x="89.0" y="268.3" width="1.2" height="1.2" fill="#c8cc64" opacity="1.0"/>
<rect x="161.4" y="249.9" width="1.2" height="1.2" fill="#7cc46a" opacity="0.85"/>
<rect x="147.9" y="234.1" width="1.2" height="1.2" fill="#f07e6a" opacity="0.7"/>
<rect x="143.4" y="250.7" width="1.2" height="1.2" fill="#c48cc8" opacity="0.7"/>
<rect x="69.4" y="239.1" width="1.2" height="1.2" fill="#f07e6a" opacity="0.85"/>
<rect x="137.4" y="249.3" width="1.2" height="1.2" fill="#c48cc8" opacity="1.0"/>
<rect x="55.3" y="238.4" width="1.2" height="1.2" fill="#f07e6a" opacity="0.7"/>
<rect x="81.2" y="255.3" width="1.2" height="1.2" fill="#7cc46a" opacity="0.7"/>
<rect x="164.2" y="238.2" width="1.2" height="1.2" fill="#f07e6a" opacity="0.85"/>
<rect x="107.4" y="237.9" width="1.2" height="1.2" fill="#f07e6a" opacity="0.7"/>
<rect x="95.6" y="256.7" width="1.2" height="1.2" fill="#c48cc8" opacity="0.85"/>
<rect x="158.8" y="253.3" width="1.2" height="1.2" fill="#c48cc8" opacity="0.85"/>
<rect x="52.5" y="253.1" width="1.2" height="1.2" fill="#7cc46a" opacity="0.7"/>
<rect x="137.2" y="264.2" width="1.2" height="1.2" fill="#c8cc64" opacity="1.0"/>
<rect x="102.7" y="275.8" width="1.2" height="1.2" fill="#c8cc64" opacity="0.85"/>
<rect x="73.1" y="274.9" width="1.2" height="1.2" fill="#c8cc64" opacity="0.85"/>
<rect x="165.8" y="235.5" width="1.2" height="1.2" fill="#f07e6a" opacity="1.0"/>
<rect x="78.8" y="234.7" width="1.2" height="1.2" fill="#f07e6a" opacity="0.85"/>
<rect x="96.2" y="253.4" width="1.2" height="1.2" fill="#7cc46a" opacity="0.7"/>
<rect x="142.6" y="256.8" width="1.2" height="1.2" fill="#c48cc8" opacity="1.0"/>
<rect x="160.5" y="236.6" width="1.2" height="1.2" fill="#f07e6a" opacity="0.85"/>
<rect x="89.8" y="256.4" width="1.2" height="1.2" fill="#c48cc8" opacity="0.7"/>
<rect x="63.5" y="261.3" width="1.2" height="1.2" fill="#c8cc64" opacity="0.85"/>
<rect x="165.6" y="250.6" width="1.2" height="1.2" fill="#7cc46a" opacity="0.7"/>
<rect x="48.4" y="275.5" width="1.2" height="1.2" fill="#c8cc64" opacity="0.85"/>
<rect x="113.4" y="247.2" width="1.2" height="1.2" fill="#7cc46a" opacity="1.0"/>
<rect x="83.5" y="246.6" width="1.2" height="1.2" fill="#c48cc8" opacity="0.85"/>
<rect x="95.0" y="240.3" width="1.2" height="1.2" fill="#f07e6a" opacity="0.85"/>
<rect x="151.5" y="247.4" width="1.2" height="1.2" fill="#7cc46a" opacity="0.85"/>
<rect x="122.3" y="246.0" width="1.2" height="1.2" fill="#7cc46a" opacity="0.85"/>
<rect x="38.8" y="286.1" width="1.2" height="1.2" fill="#c8cc64" opacity="0.85"/>
<rect x="78.9" y="255.7" width="1.2" height="1.2" fill="#c48cc8" opacity="1.0"/>
<rect x="82.2" y="269.3" width="1.2" height="1.2" fill="#c8cc64" opacity="1.0"/>
<rect x="72.3" y="238.0" width="1.2" height="1.2" fill="#f07e6a" opacity="0.85"/>
<rect x="112.6" y="249.9" width="1.2" height="1.2" fill="#c48cc8" opacity="0.7"/>
<rect x="93.6" y="240.0" width="1.2" height="1.2" fill="#f07e6a" opacity="0.85"/>
<rect x="92.3" y="253.1" width="1.2" height="1.2" fill="#7cc46a" opacity="0.7"/>
<rect x="123.9" y="270.0" width="1.2" height="1.2" fill="#c8cc64" opacity="1.0"/>
<rect x="167.4" y="248.1" width="1.2" height="1.2" fill="#7cc46a" opacity="1.0"/>
<rect x="55.0" y="246.4" width="1.2" height="1.2" fill="#c48cc8" opacity="0.7"/>
<rect x="168.0" y="235.5" width="1.2" height="1.2" fill="#f07e6a" opacity="0.7"/>
<rect x="118.6" y="249.5" width="1.2" height="1.2" fill="#c48cc8" opacity="0.7"/>
<rect x="107.0" y="265.2" width="1.2" height="1.2" fill="#7cc46a" opacity="0.7"/>
<rect x="113.5" y="257.5" width="1.2" height="1.2" fill="#7cc46a" opacity="1.0"/>
<rect x="61.5" y="251.8" width="1.2" height="1.2" fill="#c48cc8" opacity="0.7"/>
<rect x="55.2" y="281.5" width="1.2" height="1.2" fill="#c8cc64" opacity="0.85"/>
<rect x="164.5" y="252.2" width="1.2" height="1.2" fill="#7cc46a" opacity="0.85"/>
<rect x="58.8" y="244.9" width="1.2" height="1.2" fill="#c48cc8" opacity="0.7"/>
<rect x="98.5" y="242.3" width="1.2" height="1.2" fill="#f07e6a" opacity="0.7"/>
<rect x="52.3" y="257.5" width="1.2" height="1.2" fill="#7cc46a" opacity="1.0"/>
<rect x="159.0" y="257.4" width="1.2" height="1.2" fill="#7cc46a" opacity="1.0"/>
<rect x="78.6" y="248.2" width="1.2" height="1.2" fill="#c48cc8" opacity="0.7"/>
<rect x="102.2" y="250.6" width="1.2" height="1.2" fill="#c48cc8" opacity="0.7"/>
<rect x="132.5" y="256.2" width="1.2" height="1.2" fill="#7cc46a" opacity="0.85"/>
<rect x="165.2" y="245.0" width="1.2" height="1.2" fill="#c48cc8" opacity="1.0"/>
<rect x="145.0" y="247.8" width="1.2" height="1.2" fill="#c48cc8" opacity="0.85"/>
<rect x="129.2" y="271.8" width="1.2" height="1.2" fill="#c8cc64" opacity="0.7"/>
<rect x="88.9" y="275.0" width="1.2" height="1.2" fill="#c8cc64" opacity="0.7"/>
<rect x="112.2" y="242.5" width="1.2" height="1.2" fill="#7cc46a" opacity="1.0"/>
<rect x="131.7" y="242.7" width="1.2" height="1.2" fill="#c48cc8" opacity="0.7"/>
<rect x="158.0" y="229.3" width="1.2" height="1.2" fill="#f07e6a" opacity="0.7"/>
<rect x="124.7" y="246.2" width="1.2" height="1.2" fill="#c48cc8" opacity="0.85"/>
<rect x="110.4" y="242.1" width="1.2" height="1.2" fill="#c48cc8" opacity="0.85"/>
<rect x="138.0" y="256.4" width="1.2" height="1.2" fill="#c8cc64" opacity="1.0"/>
<rect x="69.0" y="253.9" width="1.2" height="1.2" fill="#c48cc8" opacity="0.7"/>
<rect x="97.9" y="267.5" width="1.2" height="1.2" fill="#c8cc64" opacity="0.85"/>
<rect x="37.9" y="238.3" width="1.2" height="1.2" fill="#f07e6a" opacity="0.7"/>
<rect x="151.3" y="263.5" width="1.2" height="1.2" fill="#c8cc64" opacity="1.0"/>
<rect x="52.8" y="249.5" width="1.2" height="1.2" fill="#c48cc8" opacity="0.7"/>
<rect x="96.9" y="231.0" width="1.2" height="1.2" fill="#f07e6a" opacity="0.7"/>
<rect x="103.0" y="253.4" width="1.2" height="1.2" fill="#7cc46a" opacity="0.85"/>
<rect x="62.0" y="267.6" width="1.2" height="1.2" fill="#c8cc64" opacity="0.85"/>
<rect x="55.9" y="230.9" width="1.2" height="1.2" fill="#f07e6a" opacity="1.0"/>
<rect x="100.5" y="270.1" width="1.2" height="1.2" fill="#c8cc64" opacity="0.85"/>
<rect x="60.2" y="238.6" width="1.2" height="1.2" fill="#f07e6a" opacity="0.85"/>
<rect x="119.6" y="254.8" width="1.2" height="1.2" fill="#7cc46a" opacity="1.0"/>
<rect x="101.9" y="240.4" width="1.2" height="1.2" fill="#c48cc8" opacity="0.7"/>
<rect x="161.5" y="245.5" width="1.2" height="1.2" fill="#7cc46a" opacity="0.7"/>
<rect x="96.1" y="276.8" width="1.2" height="1.2" fill="#c8cc64" opacity="1.0"/>
<rect x="144.2" y="245.1" width="1.2" height="1.2" fill="#7cc46a" opacity="1.0"/>
<rect x="51.4" y="232.7" width="1.2" height="1.2" fill="#f07e6a" opacity="0.7"/>
<rect x="44.0" y="272.8" width="1.2" height="1.2" fill="#c8cc64" opacity="1.0"/>
<rect x="94.2" y="265.2" width="1.2" height="1.2" fill="#c8cc64" opacity="0.85"/>
<rect x="112.4" y="250.3" width="1.2" height="1.2" fill="#7cc46a" opacity="0.85"/>
<rect x="116.0" y="239.7" width="1.2" height="1.2" fill="#f07e6a" opacity="0.85"/>
<rect x="104.6" y="272.9" width="1.2" height="1.2" fill="#c8cc64" opacity="0.7"/>
<rect x="37.9" y="254.3" width="1.2" height="1.2" fill="#c48cc8" opacity="1.0"/>
<rect x="168.2" y="257.9" width="1.2" height="1.2" fill="#c8cc64" opacity="0.85"/>
<rect x="87.4" y="252.5" width="1.2" height="1.2" fill="#c48cc8" opacity="1.0"/>
<rect x="85.3" y="249.0" width="1.2" height="1.2" fill="#c48cc8" opacity="1.0"/>
<rect x="41.8" y="268.9" width="1.2" height="1.2" fill="#7cc46a" opacity="0.7"/>
<rect x="53.1" y="235.2" width="1.2" height="1.2" fill="#f07e6a" opacity="1.0"/>
<rect x="70.0" y="269.6" width="1.2" height="1.2" fill="#c8cc64" opacity="0.7"/>
<rect x="134.9" y="263.2" width="1.2" height="1.2" fill="#c8cc64" opacity="0.7"/>
<rect x="69.9" y="249.8" width="1.2" height="1.2" fill="#c48cc8" opacity="1.0"/>
<rect x="72.9" y="231.1" width="1.2" height="1.2" fill="#f07e6a" opacity="1.0"/>
<rect x="38.2" y="273.6" width="1.2" height="1.2" fill="#c8cc64" opacity="0.85"/>
<rect x="125.0" y="234.3" width="1.2" height="1.2" fill="#f07e6a" opacity="1.0"/>
<rect x="146.6" y="242.3" width="1.2" height="1.2" fill="#f07e6a" opacity="0.7"/>
<rect x="102.3" y="259.6" width="1.2" height="1.2" fill="#c8cc64" opacity="0.85"/>
<rect x="62.7" y="261.7" width="1.2" height="1.2" fill="#7cc46a" opacity="0.85"/>
<rect x="166.9" y="236.4" width="1.2" height="1.2" fill="#f07e6a" opacity="0.85"/>
<rect x="87.3" y="246.8" width="1.2" height="1.2" fill="#7cc46a" opacity="0.7"/>
<rect x="56.1" y="237.8" width="1.2" height="1.2" fill="#f07e6a" opacity="0.7"/>
<rect x="119.5" y="271.3" width="1.2" height="1.2" fill="#c8cc64" opacity="0.7"/>
<rect x="74.6" y="255.2" width="1.2" height="1.2" fill="#c48cc8" opacity="0.7"/>
<rect x="126.4" y="257.1" width="1.2" height="1.2" fill="#7cc46a" opacity="0.7"/>
<rect x="72.7" y="257.8" width="1.2" height="1.2" fill="#7cc46a" opacity="0.7"/>
<rect x="42.3" y="282.3" width="1.2" height="1.2" fill="#c8cc64" opacity="1.0"/>
<rect x="164.2" y="241.0" width="1.2" height="1.2" fill="#f07e6a" opacity="0.85"/>
<rect x="62.4" y="241.8" width="1.2" height="1.2" fill="#f07e6a" opacity="0.85"/>
<rect x="70.4" y="234.2" width="1.2" height="1.2" fill="#f07e6a" opacity="0.85"/>
<rect x="39.8" y="250.0" width="1.2" height="1.2" fill="#7cc46a" opacity="0.85"/>
<rect x="96.2" y="270.8" width="1.2" height="1.2" fill="#c8cc64" opacity="0.85"/>
<rect x="110.3" y="272.7" width="1.2" height="1.2" fill="#c8cc64" opacity="0.7"/>
<rect x="92.4" y="241.5" width="1.2" height="1.2" fill="#f07e6a" opacity="1.0"/>
<rect x="33.7" y="273.9" width="1.2" height="1.2" fill="#c8cc64" opacity="0.85"/>
<rect x="100.7" y="260.1" width="1.2" height="1.2" fill="#c8cc64" opacity="0.7"/>
<rect x="114.3" y="242.1" width="1.2" height="1.2" fill="#c48cc8" opacity="0.85"/>
<rect x="65.2" y="259.5" width="1.2" height="1.2" fill="#7cc46a" opacity="0.85"/>
<rect x="50.0" y="248.5" width="1.2" height="1.2" fill="#c48cc8" opacity="0.7"/>
<rect x="104.7" y="241.2" width="1.2" height="1.2" fill="#c48cc8" opacity="0.85"/>
<rect x="33.3" y="258.6" width="1.2" height="1.2" fill="#7cc46a" opacity="1.0"/>
<rect x="141.1" y="255.2" width="1.2" height="1.2" fill="#7cc46a" opacity="0.7"/>
<rect x="140.8" y="261.6" width="1.2" height="1.2" fill="#c8cc64" opacity="0.7"/>
<rect x="126.7" y="234.6" width="1.2" height="1.2" fill="#f07e6a" opacity="0.7"/>
<rect x="70.5" y="265.4" width="1.2" height="1.2" fill="#7cc46a" opacity="0.7"/>
<rect x="147.7" y="246.3" width="1.2" height="1.2" fill="#c48cc8" opacity="0.85"/>
<rect x="152.7" y="236.1" width="1.2" height="1.2" fill="#f07e6a" opacity="0.7"/>
<rect x="69.2" y="263.3" width="1.2" height="1.2" fill="#7cc46a" opacity="0.7"/>
<rect x="124.8" y="260.9" width="1.2" height="1.2" fill="#c8cc64" opacity="0.85"/>
<rect x="44.3" y="277.3" width="1.2" height="1.2" fill="#c8cc64" opacity="1.0"/>
<rect x="131.4" y="234.1" width="1.2" height="1.2" fill="#f07e6a" opacity="0.7"/>
<rect x="150.6" y="241.4" width="1.2" height="1.2" fill="#7cc46a" opacity="1.0"/>
<rect x="154.2" y="252.1" width="1.2" height="1.2" fill="#c48cc8" opacity="0.85"/>
<rect x="135.7" y="253.2" width="1.2" height="1.2" fill="#c8cc64" opacity="0.7"/>
<rect x="137.8" y="252.9" width="1.2" height="1.2" fill="#7cc46a" opacity="0.7"/>
<rect x="110.6" y="256.7" width="1.2" height="1.2" fill="#c48cc8" opacity="1.0"/>
<rect x="135.3" y="239.8" width="1.2" height="1.2" fill="#f07e6a" opacity="0.7"/>
<rect x="38.2" y="246.7" width="1.2" height="1.2" fill="#c48cc8" opacity="1.0"/>
<rect x="76.5" y="241.3" width="1.2" height="1.2" fill="#f07e6a" opacity="0.7"/>
<rect x="103.9" y="242.6" width="1.2" height="1.2" fill="#f07e6a" opacity="0.85"/>
<rect x="61.5" y="287.9" width="1.2" height="1.2" fill="#c8cc64" opacity="0.85"/>
<rect x="102.9" y="248.0" width="1.2" height="1.2" fill="#7cc46a" opacity="0.85"/>
<rect x="37.7" y="236.6" width="1.2" height="1.2" fill="#f07e6a" opacity="0.7"/>
<rect x="83.1" y="253.6" width="1.2" height="1.2" fill="#c48cc8" opacity="0.7"/>
<rect x="121.8" y="267.6" width="1.2" height="1.2" fill="#c8cc64" opacity="0.85"/>
<rect x="164.5" y="247.9" width="1.2" height="1.2" fill="#c8cc64" opacity="1.0"/>
<rect x="35.3" y="260.8" width="1.2" height="1.2" fill="#c48cc8" opacity="1.0"/>
<rect x="81.8" y="277.6" width="1.2" height="1.2" fill="#c8cc64" opacity="1.0"/>
<rect x="71.7" y="256.4" width="1.2" height="1.2" fill="#c48cc8" opacity="0.7"/>
<rect x="136.9" y="250.0" width="1.2" height="1.2" fill="#7cc46a" opacity="1.0"/>
<rect x="120.5" y="264.6" width="1.2" height="1.2" fill="#c8cc64" opacity="0.7"/>
<rect x="48.9" y="255.1" width="1.2" height="1.2" fill="#7cc46a" opacity="1.0"/>
<rect x="39.1" y="252.6" width="1.2" height="1.2" fill="#c48cc8" opacity="0.85"/>
<rect x="88.8" y="255.7" width="1.2" height="1.2" fill="#c48cc8" opacity="0.85"/>
<rect x="129.8" y="254.8" width="1.2" height="1.2" fill="#7cc46a" opacity="0.85"/>
<rect x="117.4" y="229.2" width="1.2" height="1.2" fill="#f07e6a" opacity="0.7"/>
<rect x="158.4" y="252.6" width="1.2" height="1.2" fill="#7cc46a" opacity="0.85"/>
<rect x="144.2" y="264.2" width="1.2" height="1.2" fill="#c8cc64" opacity="0.7"/>
<rect x="109.3" y="244.2" width="1.2" height="1.2" fill="#7cc46a" opacity="0.85"/>
<rect x="154.2" y="248.8" width="1.2" height="1.2" fill="#c48cc8" opacity="1.0"/>
<rect x="158.2" y="252.8" width="1.2" height="1.2" fill="#7cc46a" opacity="0.7"/>
<rect x="107.1" y="234.4" width="1.2" height="1.2" fill="#f07e6a" opacity="0.7"/>
<rect x="64.3" y="245.6" width="1.2" height="1.2" fill="#c48cc8" opacity="0.85"/>
<rect x="164.7" y="239.3" width="1.2" height="1.2" fill="#f07e6a" opacity="0.7"/>
<rect x="132.2" y="256.5" width="1.2" height="1.2" fill="#c48cc8" opacity="0.85"/>
<rect x="80.3" y="268.3" width="1.2" height="1.2" fill="#c8cc64" opacity="0.85"/>
<rect x="93.7" y="254.3" width="1.2" height="1.2" fill="#7cc46a" opacity="0.85"/>
<rect x="163.6" y="244.3" width="1.2" height="1.2" fill="#7cc46a" opacity="0.7"/>
<rect x="54.1" y="250.4" width="1.2" height="1.2" fill="#c48cc8" opacity="1.0"/>
<rect x="146.6" y="244.3" width="1.2" height="1.2" fill="#c48cc8" opacity="1.0"/>
<rect x="94.6" y="246.7" width="1.2" height="1.2" fill="#f07e6a" opacity="1.0"/>
<rect x="68.7" y="257.1" width="1.2" height="1.2" fill="#7cc46a" opacity="0.85"/>
<rect x="93.2" y="252.8" width="1.2" height="1.2" fill="#c48cc8" opacity="1.0"/>
<rect x="142.1" y="240.6" width="1.2" height="1.2" fill="#f07e6a" opacity="0.7"/>
<rect x="62.1" y="271.2" width="1.2" height="1.2" fill="#c8cc64" opacity="1.0"/>
<rect x="76.5" y="246.0" width="1.2" height="1.2" fill="#7cc46a" opacity="1.0"/>
<rect x="152.2" y="254.4" width="1.2" height="1.2" fill="#7cc46a" opacity="0.85"/>
<rect x="36.0" y="261.9" width="1.2" height="1.2" fill="#7cc46a" opacity="0.7"/>
<rect x="144.7" y="236.6" width="1.2" height="1.2" fill="#f07e6a" opacity="0.85"/>
<rect x="134.0" y="246.6" width="1.2" height="1.2" fill="#c48cc8" opacity="0.85"/>
<rect x="148.5" y="262.9" width="1.2" height="1.2" fill="#c8cc64" opacity="0.7"/>
<rect x="129.6" y="249.5" width="1.2" height="1.2" fill="#7cc46a" opacity="0.7"/>
<rect x="47.1" y="236.7" width="1.2" height="1.2" fill="#f07e6a" opacity="0.85"/>
<rect x="51.0" y="266.8" width="1.2" height="1.2" fill="#7cc46a" opacity="0.85"/>
<rect x="34.5" y="249.2" width="1.2" height="1.2" fill="#c48cc8" opacity="1.0"/>
<rect x="59.9" y="261.0" width="1.2" height="1.2" fill="#c8cc64" opacity="0.7"/>
<rect x="65.5" y="250.3" width="1.2" height="1.2" fill="#7cc46a" opacity="0.85"/>
<rect x="118.1" y="258.4" width="1.2" height="1.2" fill="#7cc46a" opacity="1.0"/>
<rect x="124.9" y="249.3" width="1.2" height="1.2" fill="#7cc46a" opacity="0.85"/>
<rect x="65.0" y="231.3" width="1.2" height="1.2" fill="#f07e6a" opacity="0.7"/>
<rect x="85.7" y="244.5" width="1.2" height="1.2" fill="#f07e6a" opacity="0.85"/>
<rect x="59.8" y="270.2" width="1.2" height="1.2" fill="#c8cc64" opacity="1.0"/>
<rect x="151.2" y="258.1" width="1.2" height="1.2" fill="#c8cc64" opacity="0.7"/>
<rect x="131.7" y="246.2" width="1.2" height="1.2" fill="#c48cc8" opacity="0.7"/>
<rect x="106.0" y="234.9" width="1.2" height="1.2" fill="#f07e6a" opacity="1.0"/>
<rect x="77.7" y="240.2" width="1.2" height="1.2" fill="#c48cc8" opacity="0.7"/>
<rect x="86.8" y="258.3" width="1.2" height="1.2" fill="#7cc46a" opacity="0.85"/>
<rect x="45.5" y="276.3" width="1.2" height="1.2" fill="#c8cc64" opacity="0.85"/>
<rect x="167.3" y="236.7" width="1.2" height="1.2" fill="#7cc46a" opacity="0.7"/>
<line x1="32.5" y1="239.9" x2="168.5" y2="239.9" stroke="#ee4a2e" stroke-width="1.4" stroke-dasharray="4.9 1.8"/>
<line x1="32.5" y1="249.9" x2="168.5" y2="249.9" stroke="#8e2e94" stroke-width="1.4" stroke-dasharray="4.9 1.8"/>
<line x1="32.5" y1="261.0" x2="168.5" y2="247.5" stroke="#4aaa3c" stroke-width="1.4" stroke-dasharray="4.9 1.8"/>
<line x1="32.5" y1="273.5" x2="168.5" y2="254.5" stroke="#b2bc3a" stroke-width="1.4" stroke-dasharray="4.9 1.8"/>
<g stroke="#555" stroke-width="0.9" fill="none">
<line x1="32" y1="217.5" x2="32" y2="312.3" stroke="#7a7a7a" stroke-width="1.5"/>
<line x1="29.5" y1="310.4" x2="170.4" y2="310.4" stroke="#333" stroke-width="1.1"/>
<line x1="30" y1="218.0" x2="31.8" y2="218.0"/>
<line x1="30" y1="264.2" x2="31.8" y2="264.2"/>
<line x1="30" y1="310.5" x2="31.8" y2="310.5"/>
<line x1="31.8" y1="310.5" x2="31.8" y2="312.3"/>
<line x1="89.4" y1="310.5" x2="89.4" y2="312.3"/>
<line x1="147.0" y1="310.5" x2="147.0" y2="312.3"/>
</g>
<g font-family="Liberation Sans" font-size="4.3" fill="#2a2a2a" stroke="#2a2a2a" stroke-width="0.06">
<text x="28.6" y="219.5" text-anchor="end">1.5</text>
<text x="28.6" y="265.8" text-anchor="end">1.0</text>
<text x="28.6" y="312.0" text-anchor="end">0.5</text>
<text x="31.8" y="318" text-anchor="middle">0</text>
<text x="89.4" y="318" text-anchor="middle">20</text>
<text x="147.0" y="318" text-anchor="middle">40</text>
<text x="91" y="324.3">time (h)</text>
<text transform="translate(19.4,263.2) rotate(-90)" text-anchor="middle" font-size="4.1">Rg (nm)</text>
<line x1="131.4" y1="283.6" x2="137.6" y2="283.6" stroke="#b4c040" stroke-width="1.1" stroke-dasharray="2.4 1.4"/>
<text x="141.2" y="285.0" font-size="3.95">H<tspan font-size="3" dy="0.8">2</tspan><tspan dy="-0.8">O</tspan></text>
<line x1="131.4" y1="291.6" x2="137.6" y2="291.6" stroke="#48a840" stroke-width="1.1" stroke-dasharray="2.4 1.4"/>
<text x="141.2" y="293.0" font-size="3.95">BIS-Tripropane, pH 7.0</text>
<line x1="131.4" y1="299.7" x2="137.6" y2="299.7" stroke="#e8402a" stroke-width="1.1" stroke-dasharray="2.4 1.4"/>
<text x="141.2" y="301.1" font-size="3.95">Phosphate, pH 8.0</text>
<line x1="131.4" y1="307.7" x2="137.6" y2="307.7" stroke="#8a2a90" stroke-width="1.1" stroke-dasharray="2.4 1.4"/>
<text x="141.2" y="309.1" font-size="3.95">TAPS, pH8.5</text>
</g>
<polyline points="218.00,309.40 239.03,308.35 245.34,306.88 247.44,303.09 249.55,292.58 251.65,275.75 253.75,261.03 256.91,249.46 259.01,246.31 260.69,252.62 262.16,261.03 265.32,275.75 269.52,290.47 274.78,297.20 281.09,302.04 291.61,307.30 297.92,309.40 306.33,309.40" fill="none" stroke="#6cc868" stroke-width="0.7"/>
<polyline points="218.00,308.98 224.31,308.35 230.62,306.88 241.13,306.88 245.34,300.99 248.49,288.37 251.65,271.55 254.80,256.82 259.01,246.31 261.74,249.46 264.27,254.72 268.47,271.55 271.63,288.37 275.83,299.31 281.09,303.09 287.40,305.19 293.71,308.35 302.12,309.40 306.33,309.40" fill="none" stroke="#e84a3a" stroke-width="0.7"/>
<polyline points="218.00,309.40 224.31,308.35 229.57,305.19 233.77,306.88 241.13,307.30 245.34,301.41 249.55,286.27 253.75,261.03 257.96,246.31 263.22,248.83 266.37,261.03 270.58,282.06 274.78,292.58 281.09,300.99 289.50,306.25 297.92,309.40 306.33,309.40" fill="none" stroke="#9a50b0" stroke-width="0.7"/>
<polyline points="218.00,308.98 224.31,308.14 230.62,307.30 241.13,307.30 245.34,303.09 249.55,284.16 253.75,252.62 257.96,246.31 261.11,253.04 265.32,269.44 269.52,286.27 275.83,295.73 283.19,303.09 293.71,308.35 306.33,309.40" fill="none" stroke="#c8d040" stroke-width="0.7"/>
<polyline points="338.00,309.40 372.70,309.40 374.17,300.99 375.85,282.06 377.54,263.13 379.01,252.62 381.11,246.31 383.22,250.52 386.37,271.55 390.58,294.68 394.78,306.88 398.99,309.40 415.81,309.40" fill="none" stroke="#6cc868" stroke-width="0.7"/>
<polyline points="338.00,309.40 381.11,309.40 382.16,300.99 383.22,282.06 385.95,256.82 388.47,246.31 390.58,252.62 393.73,277.85 396.89,294.68 401.09,305.19 405.30,308.35 415.81,309.40" fill="none" stroke="#c8d040" stroke-width="0.7"/>
<polyline points="338.00,309.40 363.66,309.40 364.92,303.09 366.39,299.31 367.86,299.31 369.13,303.09 370.60,309.40 383.22,309.40 384.69,300.99 386.37,282.06 389.52,256.82 391.00,247.36 392.26,256.82 394.78,286.27 397.94,303.09 401.09,307.30 403.19,306.88 405.30,308.98 415.81,309.40" fill="none" stroke="#e84a3a" stroke-width="0.7"/>
<polyline points="338.00,309.40 381.11,309.40 382.58,303.09 384.27,292.58 388.47,261.03 391.63,246.31 393.73,247.36 395.83,271.55 398.99,298.89 402.14,307.30 405.30,309.40 415.81,309.40" fill="none" stroke="#9a50b0" stroke-width="0.7"/>
<g stroke="#555" stroke-width="0.9" fill="none">
<line x1="221.2" y1="214.5" x2="221.2" y2="309.8" stroke="#8a8a8a" stroke-width="1.5"/>
<line x1="220.6" y1="309.4" x2="307" y2="309.4" stroke="#444" stroke-width="1.0"/>
<line x1="219.4" y1="214.9" x2="221" y2="214.9"/>
<line x1="219.4" y1="246.4" x2="221" y2="246.4"/>
<line x1="219.4" y1="277.9" x2="221" y2="277.9"/>
<line x1="219.4" y1="309.4" x2="221" y2="309.4"/>
<line x1="221.0" y1="309.4" x2="221.0" y2="311.2"/>
<line x1="238.5" y1="309.4" x2="238.5" y2="310.5"/>
<line x1="248.7" y1="309.4" x2="248.7" y2="310.5"/>
<line x1="255.9" y1="309.4" x2="255.9" y2="310.5"/>
<line x1="261.5" y1="309.4" x2="261.5" y2="310.5"/>
<line x1="266.1" y1="309.4" x2="266.1" y2="310.5"/>
<line x1="270.0" y1="309.4" x2="270.0" y2="310.5"/>
<line x1="273.4" y1="309.4" x2="273.4" y2="310.5"/>
<line x1="276.3" y1="309.4" x2="276.3" y2="310.5"/>
<line x1="279.0" y1="309.4" x2="279.0" y2="311.2"/>
<line x1="296.5" y1="309.4" x2="296.5" y2="310.5"/>
<line x1="306.7" y1="309.4" x2="306.7" y2="310.5"/>
<line x1="306.7" y1="309.4" x2="306.7" y2="310.5"/>
</g>
<g font-family="Liberation Sans" font-size="4.3" fill="#2a2a2a" stroke="#2a2a2a" stroke-width="0.06">
<text x="218.8" y="216.4" text-anchor="end">1.5</text>
<text x="218.8" y="247.9" text-anchor="end">1.0</text>
<text x="218.8" y="279.4" text-anchor="end">0.5</text>
<text x="218.8" y="310.9" text-anchor="end">0.0</text>
<text transform="translate(210.6,266) rotate(-90)" text-anchor="middle" font-size="4.25">Intensity (a.u.)</text>
</g>
<g stroke="#555" stroke-width="0.9" fill="none">
<line x1="339.7" y1="214.5" x2="339.7" y2="309.8" stroke="#8a8a8a" stroke-width="1.5"/>
<line x1="339.1" y1="309.4" x2="416" y2="309.4" stroke="#444" stroke-width="1.0"/>
<line x1="337.9" y1="214.9" x2="339.5" y2="214.9"/>
<line x1="337.9" y1="246.4" x2="339.5" y2="246.4"/>
<line x1="337.9" y1="277.9" x2="339.5" y2="277.9"/>
<line x1="337.9" y1="309.4" x2="339.5" y2="309.4"/>
<line x1="340.0" y1="309.4" x2="340.0" y2="311.2"/>
<line x1="347.5" y1="309.4" x2="347.5" y2="310.5"/>
<line x1="351.9" y1="309.4" x2="351.9" y2="310.5"/>
<line x1="355.1" y1="309.4" x2="355.1" y2="310.5"/>
<line x1="357.5" y1="309.4" x2="357.5" y2="310.5"/>
<line x1="359.5" y1="309.4" x2="359.5" y2="310.5"/>
<line x1="361.1" y1="309.4" x2="361.1" y2="310.5"/>
<line x1="362.6" y1="309.4" x2="362.6" y2="310.5"/>
<line x1="363.9" y1="309.4" x2="363.9" y2="310.5"/>
<line x1="365.0" y1="309.4" x2="365.0" y2="311.2"/>
<line x1="372.5" y1="309.4" x2="372.5" y2="310.5"/>
<line x1="376.9" y1="309.4" x2="376.9" y2="310.5"/>
<line x1="380.1" y1="309.4" x2="380.1" y2="310.5"/>
<line x1="382.5" y1="309.4" x2="382.5" y2="310.5"/>
<line x1="384.5" y1="309.4" x2="384.5" y2="310.5"/>
<line x1="386.1" y1="309.4" x2="386.1" y2="310.5"/>
<line x1="387.6" y1="309.4" x2="387.6" y2="310.5"/>
<line x1="388.9" y1="309.4" x2="388.9" y2="310.5"/>
<line x1="390.0" y1="309.4" x2="390.0" y2="311.2"/>
<line x1="397.5" y1="309.4" x2="397.5" y2="310.5"/>
<line x1="401.9" y1="309.4" x2="401.9" y2="310.5"/>
<line x1="405.1" y1="309.4" x2="405.1" y2="310.5"/>
<line x1="407.5" y1="309.4" x2="407.5" y2="310.5"/>
<line x1="409.5" y1="309.4" x2="409.5" y2="310.5"/>
<line x1="411.1" y1="309.4" x2="411.1" y2="310.5"/>
<line x1="412.6" y1="309.4" x2="412.6" y2="310.5"/>
<line x1="413.9" y1="309.4" x2="413.9" y2="310.5"/>
<line x1="415.0" y1="309.4" x2="415.0" y2="311.2"/>
</g>
<g font-family="Liberation Sans" font-size="4.3" fill="#2a2a2a" stroke="#2a2a2a" stroke-width="0.06">
<text x="337.3" y="216.4" text-anchor="end">1.5</text>
<text x="337.3" y="247.9" text-anchor="end">1.0</text>
<text x="337.3" y="279.4" text-anchor="end">0.5</text>
<text x="337.3" y="310.9" text-anchor="end">0.0</text>
<text transform="translate(327.4,262.2) rotate(-90)" text-anchor="middle" font-size="4.85">Intensity (a.u.)</text>
</g>
<g font-family="Liberation Sans" font-size="4.3" fill="#2a2a2a" stroke="#2a2a2a" stroke-width="0.06">
<text x="221.3" y="315.6" text-anchor="middle">1</text>
<text x="279" y="315.6" text-anchor="middle">10</text>
<text x="302.5" y="315.6">(nm)</text>
<text x="262" y="324.3" text-anchor="middle">Radius</text>
<text x="340" y="315.6" text-anchor="middle">0.1</text>
<text x="364.8" y="315.6" text-anchor="middle">1</text>
<text x="389.9" y="315.6" text-anchor="middle">10</text>
<text x="415" y="315.6" text-anchor="middle">100</text>
<text x="420.5" y="315.6">(nm)</text>
<text x="381" y="324.3" text-anchor="middle">Radius</text>
<line x1="276" y1="219.1" x2="286.9" y2="219.1" stroke="#c8d040" stroke-width="1.1" opacity="0.55"/>
<text x="290" y="220.5" font-size="4.1">H<tspan font-size="3" dy="0.8">2</tspan><tspan dy="-0.8">O</tspan></text>
<line x1="276" y1="224.8" x2="286.9" y2="224.8" stroke="#6cc868" stroke-width="1.1" opacity="0.55"/>
<text x="290" y="226.2" font-size="4.1">BIS-Tripropane, pH 7.0</text>
<line x1="276" y1="230.4" x2="286.9" y2="230.4" stroke="#e84a3a" stroke-width="1.1" opacity="0.55"/>
<text x="290" y="231.8" font-size="4.1">Phosphate, pH 8.0</text>
<line x1="276" y1="236.1" x2="286.9" y2="236.1" stroke="#9a50b0" stroke-width="1.1" opacity="0.55"/>
<text x="290" y="237.5" font-size="4.1">TAPS, pH8.5</text>
<line x1="372.4" y1="219.6" x2="382.7" y2="219.6" stroke="#c8d040" stroke-width="1.1" opacity="0.55"/>
<text x="386" y="221.0" font-size="3.85">H<tspan font-size="3" dy="0.8">2</tspan><tspan dy="-0.8">O</tspan></text>
<line x1="372.4" y1="225.4" x2="382.7" y2="225.4" stroke="#6cc868" stroke-width="1.1" opacity="0.55"/>
<text x="386" y="226.8" font-size="3.85">BIS-Tripropane, pH 7.0</text>
<line x1="372.4" y1="231.3" x2="382.7" y2="231.3" stroke="#e84a3a" stroke-width="1.1" opacity="0.55"/>
<text x="386" y="232.7" font-size="3.85">Phosphate, pH 8.0</text>
<line x1="372.4" y1="237.1" x2="382.7" y2="237.1" stroke="#9a50b0" stroke-width="1.1" opacity="0.55"/>
<text x="386" y="238.5" font-size="3.85">TAPS, pH8.5</text>
</g>
<defs>
<linearGradient id="gv" x1="0" y1="0" x2="0" y2="1">
<stop offset="0" stop-color="#87847f"/><stop offset="0.5" stop-color="#83807b"/><stop offset="0.68" stop-color="#76736f"/><stop offset="0.85" stop-color="#5a5855"/><stop offset="1" stop-color="#3a3938"/>
</linearGradient>
<filter id="bl" x="-50%" y="-50%" width="200%" height="200%"><feGaussianBlur stdDeviation="0.7"/></filter>
<linearGradient id="gl" x1="0" y1="0" x2="1" y2="0">
<stop offset="0" stop-color="#a8a7a4" stop-opacity="0"/><stop offset="0.5" stop-color="#b0afac" stop-opacity="0.55"/><stop offset="1" stop-color="#a8a7a4" stop-opacity="0"/>
</linearGradient>
</defs>
<clipPath id="gc"><rect x="453.2" y="215.8" width="89.8" height="94.8"/></clipPath>
<g clip-path="url(#gc)">
<rect x="453.2" y="215.8" width="89.8" height="94.8" fill="url(#gv)"/>
<rect x="453.2" y="215.8" width="3" height="94.8" fill="#6a6a68" opacity="0.6"/>
<rect x="459" y="224.8" width="7" height="2.4" fill="#cfcecb" opacity="0.10" filter="url(#bl)"/>
<rect x="459" y="231.8" width="7" height="2.4" fill="#cfcecb" opacity="0.08" filter="url(#bl)"/>
<rect x="459" y="238.8" width="7" height="2.4" fill="#cfcecb" opacity="0.11" filter="url(#bl)"/>
<rect x="459" y="246.8" width="7" height="2.4" fill="#cfcecb" opacity="0.13" filter="url(#bl)"/>
<rect x="459" y="253.8" width="7" height="2.4" fill="#cfcecb" opacity="0.11" filter="url(#bl)"/>
<rect x="459" y="261.8" width="7" height="2.4" fill="#cfcecb" opacity="0.13" filter="url(#bl)"/>
<rect x="459" y="273.8" width="7" height="2.4" fill="#cfcecb" opacity="0.14" filter="url(#bl)"/>
<rect x="459" y="280.8" width="7" height="2.4" fill="#cfcecb" opacity="0.14" filter="url(#bl)"/>
<rect x="459" y="285.8" width="7" height="2.4" fill="#cfcecb" opacity="0.15" filter="url(#bl)"/>
<rect x="459" y="290.8" width="7" height="2.4" fill="#cfcecb" opacity="0.14" filter="url(#bl)"/>
<rect x="459" y="294.8" width="7" height="2.4" fill="#cfcecb" opacity="0.13" filter="url(#bl)"/>
<rect x="459" y="298.8" width="7" height="2.4" fill="#cfcecb" opacity="0.11" filter="url(#bl)"/>
<path d="M527.5 215.8 L543 215.8 L543 238 C539 231 533 222 527.5 215.8Z" fill="#a3a09c" opacity="0.6" filter="url(#bl)"/>
<path d="M528.5 215.8 C532 221 535.5 226 537.5 232" stroke="#3a3a38" stroke-width="0.6" fill="none" opacity="0.55"/><circle cx="537.6" cy="231.5" r="0.9" fill="#333" opacity="0.6"/>
<circle cx="463" cy="227" r="0.5" fill="#4a4040" opacity="0.35"/>
<circle cx="492" cy="226" r="0.5" fill="#4a4040" opacity="0.35"/>
<circle cx="497" cy="227" r="0.5" fill="#4a4040" opacity="0.35"/>
<circle cx="501" cy="227" r="0.5" fill="#4a4040" opacity="0.35"/>
<circle cx="489" cy="234" r="0.5" fill="#4a4040" opacity="0.35"/>
<circle cx="494" cy="233" r="0.5" fill="#4a4040" opacity="0.35"/>
<circle cx="531" cy="258" r="0.5" fill="#4a4040" opacity="0.35"/>
<circle cx="535" cy="262" r="0.5" fill="#4a4040" opacity="0.35"/>
<circle cx="520" cy="263" r="0.5" fill="#4a4040" opacity="0.35"/>
<circle cx="486" cy="260" r="0.5" fill="#4a4040" opacity="0.35"/>
<circle cx="515" cy="281" r="0.5" fill="#4a4040" opacity="0.35"/>
<circle cx="505" cy="274" r="0.5" fill="#4a4040" opacity="0.35"/>
<circle cx="474" cy="270" r="0.5" fill="#4a4040" opacity="0.35"/>
<rect x="453.2" y="306" width="89.8" height="5" fill="#161616"/>
<path d="M463.2 307 C463.8 303.1 465.5 300.6 468.1 300.6 C470.7 300.6 472.4 303.1 473.0 307Z" fill="#181818"/>
<path d="M475.0 307 C475.6 300.0 477.1 297.5 479.4 297.5 C481.7 297.5 483.2 300.0 483.8 307Z" fill="#181818"/>
<path d="M484.8 307 C485.4 303.1 487.1 300.6 489.7 300.6 C492.3 300.6 494.0 303.1 494.6 307Z" fill="#181818"/>
<path d="M494.5 307 C495.1 301.7 496.6 299.2 498.9 299.2 C501.2 299.2 502.7 301.7 503.3 307Z" fill="#181818"/>
<path d="M505.0 307 C505.6 302.5 507.2 300.0 509.6 300.0 C512.0 300.0 513.6 302.5 514.2 307Z" fill="#181818"/>
<path d="M522.8 307 C523.4 299.6 524.9 297.1 527.2 297.1 C529.5 297.1 531.0 299.6 531.6 307Z" fill="#181818"/>
<path d="M534.2 307 C534.8 300.8 536.5 298.3 539.0 298.3 C541.5 298.3 543.2 300.8 543.8 307Z" fill="#181818"/>
<path d="M515.2 307 C515.5 301 517 298 518.5 295 C519.3 292.3 520.5 292.3 521.2 295 C522.5 298 524.4 301 524.6 307Z" fill="#181818"/>
</g>
<g font-family="Liberation Sans" font-size="4.3" fill="#f4f4f4">
<text x="477.6" y="290.3">fresh</text>
<text x="509.6" y="290.3" textLength="28.4">after 40 °C 48h</text>
</g>
<line x1="505.6" y1="292.3" x2="541.5" y2="292.3" stroke="#d8d8d8" stroke-width="0.7"/>
<g stroke="#555" stroke-width="0.6">
<line x1="447.6" y1="223" x2="452.6" y2="223"/>
<line x1="447.6" y1="230.6" x2="452.6" y2="230.6"/>
<line x1="447.6" y1="239.4" x2="452.6" y2="239.4"/>
<line x1="447.6" y1="248" x2="452.6" y2="248"/>
<line x1="447.6" y1="255.1" x2="452.6" y2="255.1"/>
<line x1="447.6" y1="263.3" x2="452.6" y2="263.3"/>
<line x1="447.6" y1="275" x2="452.6" y2="275"/>
<line x1="447.6" y1="286.4" x2="452.6" y2="286.4"/>
<line x1="447.6" y1="295.4" x2="452.6" y2="295.4"/>
<line x1="447.6" y1="301.7" x2="452.6" y2="301.7"/>
<line x1="447.6" y1="306.6" x2="452.6" y2="306.6"/>
</g><g font-family="Liberation Sans" font-size="4.3" fill="#2a2a2a" stroke="#2a2a2a" stroke-width="0.06">
<text x="445.6" y="224.5" text-anchor="end">175</text>
<text x="445.6" y="232.1" text-anchor="end">130</text>
<text x="445.6" y="240.9" text-anchor="end">95</text>
<text x="445.6" y="249.5" text-anchor="end">70</text>
<text x="445.6" y="256.6" text-anchor="end">62</text>
<text x="445.6" y="264.8" text-anchor="end">51</text>
<text x="445.6" y="276.5" text-anchor="end">42</text>
<text x="445.6" y="287.9" text-anchor="end">28</text>
<text x="445.6" y="296.9" text-anchor="end">22</text>
<text x="445.6" y="303.2" text-anchor="end">14</text>
<text x="445.6" y="308.1" text-anchor="end">10</text>
<text x="440.5" y="219.3">kDa</text>
<text font-size="3.9" transform="translate(460.13,319.87) rotate(-45)">H<tspan font-size="2.8" dy="0.8">2</tspan><tspan dy="-0.8">O</tspan>
</text>
<text font-size="3.9" transform="translate(459.04,333.56) rotate(-45)">BIS-Tripropane,
<tspan x="0" y="4.4">pH 7.0</tspan>
</text>
<text font-size="3.9" transform="translate(467.66,337.04) rotate(-45)">Phosphate, pH 8.0
</text>
<text font-size="3.9" transform="translate(484.11,330.09) rotate(-45)">TAPS, pH8.5
</text>
<text font-size="3.9" transform="translate(503.33,319.87) rotate(-45)">H<tspan font-size="2.8" dy="0.8">2</tspan><tspan dy="-0.8">O</tspan>
</text>
<text font-size="3.9" transform="translate(499.04,333.56) rotate(-45)">BIS-Tripropane,
<tspan x="0" y="4.4">pH 7.0</tspan>
</text>
<text font-size="3.9" transform="translate(508.16,337.04) rotate(-45)">Phosphate, pH 8.0
</text>
<text font-size="3.9" transform="translate(526.51,330.09) rotate(-45)">TAPS, pH8.5
</text>
</g>
</svg>
</body></html>
